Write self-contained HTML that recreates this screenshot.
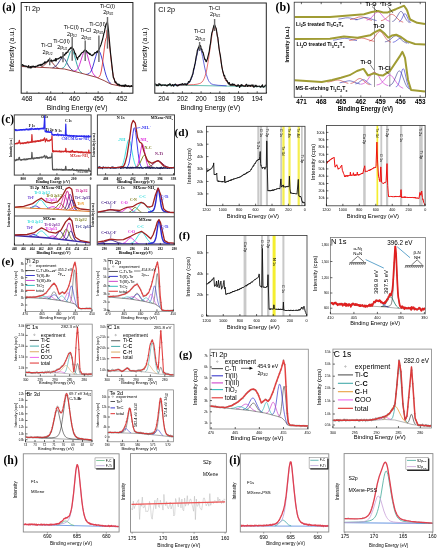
<!DOCTYPE html>
<html><head><meta charset="utf-8"><title>XPS figure</title>
<style>html,body{margin:0;padding:0;background:#fff;} svg{display:block;filter:blur(0.4px);}</style></head>
<body><svg width="438" height="550" viewBox="0 0 438 550">
<rect width="438" height="550" fill="#fff"/>
<text x="2.2" y="10.98" font-size="11.5" font-family="'Liberation Serif', 'Times New Roman', serif" text-anchor="start" fill="#000" font-weight="bold">(a)</text>
<polyline points="40.8,67.1 42.2,66.6 43.3,66 44.7,64.9 47.8,61.6 48.9,60.9 49.7,60.8 50.6,61.1 51.7,61.9 54.4,65.2 55.8,66.7 57.2,67.6 58.6,68.2" fill="none" stroke="#8a3030" stroke-width="0.9" stroke-linejoin="round" />
<polyline points="52.5,67.7 54.2,67.2 55.8,66.1 57.5,64.2 60,60.4 61.1,58.9 62.2,58 63,57.9 63.6,58 64.1,58.4 65,59.4 68.6,65.9 70.3,68.3 71.9,69.9 73.6,70.9" fill="none" stroke="#303080" stroke-width="0.9" stroke-linejoin="round" />
<polyline points="61.7,68.4 62.8,68 63.6,67.5 64.4,66.6 65.3,65.5 66.1,63.8 66.9,61.7 70,52.6 70.5,51.4 71.1,50.7 71.6,50.3 71.9,50.4 72.2,50.5 72.7,51.1 73.6,52.9 74.4,55.4 76.9,64.3 77.7,66.8 78.6,68.8 79.4,70.4 80.2,71.6 81.1,72.4 82.2,73.1" fill="none" stroke="#1f9f9f" stroke-width="0.9" stroke-linejoin="round" />
<polyline points="73.9,71 75,70.9 76.1,70.4 77.2,69.4 78,68.2 78.9,66.5 79.7,64.3 82.5,55.6 83.3,53.4 83.8,52.3 84.4,51.6 85,51.3 85.2,51.3 85.5,51.4 86.1,52.1 87.2,54.6 90.8,67.5 92.4,72.2 93.3,73.8 94.1,75 95.2,76.1 96.6,77.1" fill="none" stroke="#d020d0" stroke-width="0.9" stroke-linejoin="round" />
<polyline points="86.3,74.3 87.7,74.2 89.1,73.5 90.2,72.4 91.1,71.1 91.9,69.3 93,66.1 95.8,56.3 96.6,53.8 97.7,51.5 98.3,50.9 98.8,50.9 99.4,51.3 99.9,52.2 101,55.2 102.2,59.4 104.9,71.2 106,75.1 106.9,77.5 107.7,79.4 108.8,81.4 110.2,83 111.3,83.9" fill="none" stroke="#2a2ad0" stroke-width="0.9" stroke-linejoin="round" />
<polyline points="97.4,77.5 98.6,77.3 99.1,76.9 99.7,76.2 100.5,74.3 101.3,71 102.4,64.2 104.4,47.9 105.2,41.9 106,38.4 106.3,37.9 106.6,37.9 106.9,30.3 107.2,30.4 107.7,31.7 108.5,36.4 111.6,64.7 112.4,70.9 113.3,75.8 114.1,79.3 115.2,82.4 116.3,84.1 116.9,84.6 117.7,85.2" fill="none" stroke="#e03a3a" stroke-width="0.9" stroke-linejoin="round" />
<polyline points="21.7,66.5 49.7,67.8 64.4,69 79.4,72.7 96.1,77.2 104.1,80.6 111,84.2 119.9,86 132.4,86.3" fill="none" stroke="#8b2f2f" stroke-width="0.9" stroke-linejoin="round" />
<polyline points="21.7,64.7 22,65.1 22.3,65.2 22.5,64.6 22.8,64.9 23.1,65.7 23.4,65.3 23.6,65.4 23.9,65.9 24.5,65.9 24.8,66.1 25.3,65.8 26.1,66.6 26.7,66.1 27,66.2 27.2,66.6 27.5,66.7 28.1,67.8 28.6,65.5 28.9,66.5 29.2,67 29.7,67.3 30,67.9 30.6,66.5 30.9,67.6 31.1,68 31.7,67 32,66.2 32.2,66.4 32.5,67 33.1,66.2 33.4,66.6 33.9,66.4 34.2,66.8 34.5,66.8 34.7,66.5 35,66.7 35.3,67.1 35.6,66.9 35.8,66.2 36.7,66.3 37,66 37.2,65.9 37.5,66.2 37.8,65.4 38.1,65.2 38.3,65.6 38.6,65.7 39.2,64.7 39.7,65.2 40,65.1 40.3,65.4 40.6,64.7 40.8,64.4 41.1,65.4 41.4,65.1 41.7,64.3 42.2,64.9 42.5,64.8 42.8,64.4 43.1,63.3 43.3,63.2 44.2,63.6 44.7,61.9 45.3,63 45.8,61.9 46.1,62.1 46.7,62.1 47.5,61.1 47.8,61.3 48.3,59.9 48.6,60.6 48.9,60 49.2,59.9 49.7,60.1 50,60.4 50.3,60.4 50.6,61 50.8,61.1 51.4,59.9 51.9,61.5 52.2,60.7 53.3,60.9 53.9,60.2 54.2,60.3 54.4,60.1 54.7,60.1 55,60.9 55.5,58.6 55.8,59.3 56.1,60.9 56.4,60.2 56.7,58.7 56.9,59.2 57.2,59.2 57.5,58.7 57.8,58.7 58,59 58.6,58.6 58.9,58.6 59.2,58.1 60.3,57.4 60.5,56.9 60.8,57.7 61.1,57.9 61.4,57.2 61.7,57.3 62.2,56.6 62.8,56.8 63,56.1 63.6,55.9 63.9,55 64.1,54.6 64.4,54.6 64.7,55.2 65.5,53.3 65.8,52.9 66.1,53.7 66.4,53.3 66.6,52.4 66.9,52.2 67.2,52.3 67.5,52.1 67.8,52.2 68,51.7 68.3,50.4 68.6,50 69.7,49.2 70,48.4 70.5,48.5 70.8,47.6 71.1,47.8 71.4,48.4 71.6,48.1 72.2,46.7 72.7,49.5 73,48.7 73.3,48.7 73.6,49.8 74.1,50.7 75,54 75.2,53.3 75.5,53.7 76.4,57.2 76.9,57.9 77.5,59.6 78,57.4 78.3,57.2 78.9,56.3 79.1,56.6 79.4,56.4 79.7,55.4 80,55.6 80.5,54.5 81.1,53.9 81.6,52.9 81.9,52.9 82.7,52.2 83,52.2 83.3,52 84.4,50.4 84.7,50.5 85,50.4 85.2,49.8 85.8,51.2 86.1,51.2 86.3,50.6 86.6,51.2 86.9,52.2 87.2,51.8 87.7,52.8 88,52.4 88.6,53.3 88.8,53.5 89.1,53.2 89.7,54.5 90,53.5 90.5,54.7 91.3,55 91.6,55.4 91.9,55.3 92.2,55.7 92.4,55.6 92.7,54.8 93,54.8 93.3,55 93.6,54.7 93.8,54 94.1,54.1 94.7,52.7 94.9,53.1 95.5,52.5 96.1,52.9 96.6,51.7 96.9,52 97.2,51.1 97.7,52.4 98,50.8 98.3,51.1 98.6,50.7 98.8,49.1 99.1,48.7 99.4,48.9 99.9,46.9 100.2,46.5 100.8,45 101,44.7 102.2,40.5 102.7,39 103.8,33.8 104.1,32.7 104.4,32.5 104.9,29.1 105.8,25.5 106,24.7 106.9,23.3 107.2,22.2 107.4,21.8 108.5,30.3 110.5,52.7 113.3,77.4 114.1,78.7 115.2,82.5 115.5,81.9 115.8,81.8 116.3,83 116.6,83.3 116.9,83.3 117.4,84.6 117.7,84.6 118,84.2 118.3,84.1 118.5,84.8 118.8,85.1 119.1,84.3 119.4,84.7 119.6,85.5 119.9,85.6 120.2,85.4 120.5,85.5 121,85.3 121.6,85.6 121.9,86.1 122.4,85.3 123.2,86.2 123.5,85.4 123.8,85.3 124.4,86.6 124.9,84.9 125.2,85.9 125.5,85.7 125.7,84.8 126.3,86.2 126.6,85.8 126.9,85.7 127.4,86.4 127.7,86.4 128,86.2 128.5,85.6 129.3,86.7 129.6,86 129.9,86.1 130.2,86.7 130.7,86.1 131,86.1 131.3,85.6 131.6,85.8 131.8,86.5 132.1,86.2 132.4,86.4" fill="none" stroke="#111" stroke-width="1.15" stroke-linejoin="round" />
<line x1="49.7" y1="57.8" x2="49.7" y2="65.3" stroke="#6a6a6a" stroke-width="1.4" />
<line x1="63" y1="51.9" x2="63" y2="62.3" stroke="#6a6a6a" stroke-width="1.4" />
<line x1="72.2" y1="37" x2="72.2" y2="60.8" stroke="#6a6a6a" stroke-width="1.4" />
<line x1="85.2" y1="40.5" x2="85.2" y2="61" stroke="#6a6a6a" stroke-width="1.4" />
<line x1="98.9" y1="35.5" x2="98.9" y2="62" stroke="#6a6a6a" stroke-width="1.4" />
<line x1="107.5" y1="17" x2="107.5" y2="48.6" stroke="#6a6a6a" stroke-width="1.4" />
<rect x="21.2" y="2.5" width="111.7" height="90.7" stroke="#222" stroke-width="1.0" fill="none"/>
<text x="24.3" y="11.19" font-size="7.2" font-family="'Liberation Sans', Arial, sans-serif" text-anchor="start" fill="#000">Ti 2p</text>
<text x="46.7" y="47.37" font-size="5.4" font-family="'Liberation Sans', Arial, sans-serif" text-anchor="middle" fill="#000">Ti-Cl</text>
<text x="45.4" y="54.17" font-size="5.4" font-family="'Liberation Sans', Arial, sans-serif" text-anchor="middle" fill="#000">2p</text>
<text x="48.1" y="54.91" font-size="3.2" font-family="'Liberation Sans', Arial, sans-serif" text-anchor="start" fill="#000">1/2</text>
<text x="61.5" y="42.67" font-size="5.4" font-family="'Liberation Sans', Arial, sans-serif" text-anchor="middle" fill="#000">Ti-C(II)</text>
<text x="60.2" y="49.47" font-size="5.4" font-family="'Liberation Sans', Arial, sans-serif" text-anchor="middle" fill="#000">2p</text>
<text x="62.9" y="50.21" font-size="3.2" font-family="'Liberation Sans', Arial, sans-serif" text-anchor="start" fill="#000">1/2</text>
<text x="71.2" y="28.97" font-size="5.4" font-family="'Liberation Sans', Arial, sans-serif" text-anchor="middle" fill="#000">Ti-C(I)</text>
<text x="69.9" y="35.77" font-size="5.4" font-family="'Liberation Sans', Arial, sans-serif" text-anchor="middle" fill="#000">2p</text>
<text x="72.6" y="36.51" font-size="3.2" font-family="'Liberation Sans', Arial, sans-serif" text-anchor="start" fill="#000">1/2</text>
<text x="85.5" y="32.07" font-size="5.4" font-family="'Liberation Sans', Arial, sans-serif" text-anchor="middle" fill="#000">Ti-Cl</text>
<text x="84.2" y="38.87" font-size="5.4" font-family="'Liberation Sans', Arial, sans-serif" text-anchor="middle" fill="#000">2p</text>
<text x="86.9" y="39.61" font-size="3.2" font-family="'Liberation Sans', Arial, sans-serif" text-anchor="start" fill="#000">3/2</text>
<text x="97.5" y="26.07" font-size="5.4" font-family="'Liberation Sans', Arial, sans-serif" text-anchor="middle" fill="#000">Ti-C(II)</text>
<text x="96.2" y="32.87" font-size="5.4" font-family="'Liberation Sans', Arial, sans-serif" text-anchor="middle" fill="#000">2p</text>
<text x="98.9" y="33.61" font-size="3.2" font-family="'Liberation Sans', Arial, sans-serif" text-anchor="start" fill="#000">3/2</text>
<text x="107.5" y="7.67" font-size="5.4" font-family="'Liberation Sans', Arial, sans-serif" text-anchor="middle" fill="#000">Ti-C(I)</text>
<text x="106.2" y="14.47" font-size="5.4" font-family="'Liberation Sans', Arial, sans-serif" text-anchor="middle" fill="#000">2p</text>
<text x="108.9" y="15.21" font-size="3.2" font-family="'Liberation Sans', Arial, sans-serif" text-anchor="start" fill="#000">3/2</text>
<line x1="27" y1="93.2" x2="27" y2="91.2" stroke="#000" stroke-width="0.6" />
<text x="27" y="100.59" font-size="6.6" font-family="'Liberation Sans', Arial, sans-serif" text-anchor="middle" fill="#000">468</text>
<line x1="50.72" y1="93.2" x2="50.72" y2="91.2" stroke="#000" stroke-width="0.6" />
<text x="50.72" y="100.59" font-size="6.6" font-family="'Liberation Sans', Arial, sans-serif" text-anchor="middle" fill="#000">464</text>
<line x1="74.44" y1="93.2" x2="74.44" y2="91.2" stroke="#000" stroke-width="0.6" />
<text x="74.44" y="100.59" font-size="6.6" font-family="'Liberation Sans', Arial, sans-serif" text-anchor="middle" fill="#000">460</text>
<line x1="98.16" y1="93.2" x2="98.16" y2="91.2" stroke="#000" stroke-width="0.6" />
<text x="98.16" y="100.59" font-size="6.6" font-family="'Liberation Sans', Arial, sans-serif" text-anchor="middle" fill="#000">456</text>
<line x1="121.88" y1="93.2" x2="121.88" y2="91.2" stroke="#000" stroke-width="0.6" />
<text x="121.88" y="100.59" font-size="6.6" font-family="'Liberation Sans', Arial, sans-serif" text-anchor="middle" fill="#000">452</text>
<line x1="38.86" y1="93.2" x2="38.86" y2="92" stroke="#000" stroke-width="0.5" />
<line x1="62.58" y1="93.2" x2="62.58" y2="92" stroke="#000" stroke-width="0.5" />
<line x1="86.3" y1="93.2" x2="86.3" y2="92" stroke="#000" stroke-width="0.5" />
<line x1="110.02" y1="93.2" x2="110.02" y2="92" stroke="#000" stroke-width="0.5" />
<text x="77.2" y="110.33" font-size="7" font-family="'Liberation Sans', Arial, sans-serif" text-anchor="middle" fill="#000" textLength="60.7" lengthAdjust="spacingAndGlyphs">Binding Energy (eV)</text>
<text x="11.4" y="52.19" font-size="7.2" font-family="'Liberation Sans', Arial, sans-serif" text-anchor="middle" fill="#000" transform="rotate(-90 11.4 49.7)" textLength="44" lengthAdjust="spacingAndGlyphs">Intensity (a.u.)</text>
<polyline points="155.3,85.2 200,85.6 265.8,86.8" fill="none" stroke="#3fb0a0" stroke-width="0.8" stroke-linejoin="round" />
<polyline points="172.3,85.1 180.8,84.8 185.2,84.4 186.7,84 187.8,83.5 188.9,82.7 189.7,81.9 190.4,80.8 191.1,79.3 192.6,75.2 194.1,69.2 196.7,56.1 197.8,51.2 198.5,48.9 198.9,48.2 199.3,47.7 199.6,47.6 200,47.8 200.4,48.3 200.8,49.2 201.5,51.6 202.6,56.6 204.8,68 206.3,74.4 207.8,78.9 208.5,80.5 209.3,81.8 210,82.7 211.1,83.7 212.2,84.2 213.7,84.7 218.1,85.3 226.6,85.8" fill="none" stroke="#2a2acc" stroke-width="0.7" stroke-linejoin="round" />
<polyline points="176,85.1 189.3,84.8 193.7,84.6 197.1,84.2 199.3,83.6 200.8,83 201.9,82.1 203,80.8 204.1,78.7 204.8,76.9 205.9,73.2 206.7,70 208.5,59.5 212.2,33.6 213.3,28.2 214.1,26.3 214.4,25.9 214.8,25.9 215.2,26.4 215.5,27.2 216.6,31.8 217.8,38.7 220.7,59.9 222.6,70.4 223.3,73.6 224.4,77.3 225.1,79.2 226.3,81.2 227.4,82.6 228.5,83.5 230,84.2 232.2,84.8 235.5,85.3 239.9,85.6 253.2,86.3" fill="none" stroke="#dd3333" stroke-width="0.7" stroke-linejoin="round" />
<polyline points="155.3,84.3 155.7,84.1 156,84.5 156.4,85.6 157.1,84.5 157.5,85.6 157.9,85.5 158.3,85.7 158.6,85 159,83.5 159.7,84.8 160.1,84.3 160.5,84.3 161.2,85.8 161.6,85 162,85 162.3,85.4 162.7,84.9 163.4,84.9 164.2,85.3 164.5,84.9 164.9,85.2 165.3,85.1 165.6,84.8 166.4,85.8 166.8,85.3 167.1,85.4 167.5,85.8 167.9,84.9 168.2,84.5 169,85.2 169.7,83.8 170.5,84.3 171.2,85.9 171.6,85.8 172.3,84.8 172.7,84.6 173.4,86.1 173.8,86.1 174.1,85 174.5,84.6 174.9,84.5 175.3,84.1 175.6,84.3 176,84.7 176.4,85.6 177.1,85.3 177.5,86 177.8,85.4 178.2,85.3 178.6,85.6 179,84.7 179.3,84.5 179.7,84.6 180.4,84.3 181.2,84.7 181.5,84.2 182.3,83.6 182.6,83.7 183,84.6 183.8,84.3 184.1,84.5 184.9,83.5 185.6,84.5 186,84.3 186.3,84.9 186.7,84.5 187.1,83.7 187.5,84.1 188.6,81.5 188.9,81.6 189.3,82.2 189.7,81.8 190.4,79.9 190.8,79.4 191.5,76.8 191.9,76.8 192.3,74.9 192.6,74.6 193,73.3 193.4,70.3 193.7,68.8 194.1,68.1 194.8,64.4 195.2,63.2 196.3,55.8 196.7,55.2 197.4,50.2 198.9,46.8 199.3,45.6 199.6,45.5 200,46.2 200.4,45.4 200.8,46.5 201.1,49.1 201.5,49.1 201.9,49.3 202.2,51.6 202.6,52.2 203,52.1 204.8,59.6 205.2,59.4 205.6,59.9 205.9,61.5 206.3,61.7 206.7,60.9 207.4,58.9 209.3,51.1 210,45.6 210.4,44.2 211.1,38 211.8,33.1 212.2,31.8 212.6,31.1 213.7,26 214.4,24.7 214.8,25.1 215.2,26.3 215.5,27.2 215.9,27.8 216.3,29 216.6,31 217.4,36.4 217.8,37.3 218.9,47.3 219.6,52 220.3,55.2 221.8,66.6 222.9,72 223.3,72.8 223.7,74.7 224,75.8 224.4,75.3 224.8,76.3 225.1,78.4 225.5,78.3 225.9,78.8 226.3,80.6 227,80.6 228.5,83.9 228.8,82.9 229.2,82.5 230,85.1 230.3,85.1 230.7,84.5 231.1,85.3 231.4,85.2 232.2,83.8 232.5,83.8 232.9,85.5 233.3,85.1 233.6,84.2 234,84.3 234.4,84.4 234.8,85.4 235.5,85.3 235.9,85.8 236.2,85.7 236.6,86.2 237,86.4 237.7,84.9 238.1,84.7 238.5,85.2 238.8,85.5 239.6,87.5 240.3,85.3 240.7,86.2 241.4,84.6 241.8,85.9 242.1,85.7 242.5,85.1 243.6,86.1 244,86 244.4,86.2 244.7,86.1 245.1,86.3 245.5,86 245.8,84.9 246.2,84.4 246.6,84.4 247,84.9 247.3,86.2 247.7,86.5 248.4,85.2 248.8,85.3 249.2,85.6 249.5,85.6 249.9,85.2 250.3,85.2 250.6,86.3 251.4,85 252.1,85.3 252.5,85.9 252.9,84.9 253.2,85.3 253.6,87.1 254,87.1 254.3,86.8 254.7,86.7 255.1,85.2 255.5,85.5 255.8,86.3 256.2,85.4 256.9,86.8 257.3,86.2 257.7,86.5 258.4,86.3 259.5,86.1 260.3,87.2 260.6,87.2 261,86.7 261.4,85.9 261.7,86.6 262.5,84.8 262.8,86.5 263.2,87.2 263.6,87.2 264,86.8 264.7,86.5 265.1,85.6 265.4,85.2 265.8,85.6" fill="none" stroke="#111" stroke-width="1.15" stroke-linejoin="round" />
<line x1="199.6" y1="42" x2="199.6" y2="51" stroke="#6a6a6a" stroke-width="1.4" />
<line x1="214.6" y1="19" x2="214.6" y2="31" stroke="#6a6a6a" stroke-width="1.4" />
<rect x="154.8" y="3" width="111.5" height="90.2" stroke="#222" stroke-width="1.0" fill="none"/>
<text x="158.3" y="11.59" font-size="7.2" font-family="'Liberation Sans', Arial, sans-serif" text-anchor="start" fill="#000">Cl 2p</text>
<text x="199.5" y="33.07" font-size="5.4" font-family="'Liberation Sans', Arial, sans-serif" text-anchor="middle" fill="#000">Ti-Cl</text>
<text x="198.2" y="39.87" font-size="5.4" font-family="'Liberation Sans', Arial, sans-serif" text-anchor="middle" fill="#000">2p</text>
<text x="200.9" y="40.61" font-size="3.2" font-family="'Liberation Sans', Arial, sans-serif" text-anchor="start" fill="#000">1/2</text>
<text x="214.4" y="9.67" font-size="5.4" font-family="'Liberation Sans', Arial, sans-serif" text-anchor="middle" fill="#000">Ti-Cl</text>
<text x="213.1" y="16.47" font-size="5.4" font-family="'Liberation Sans', Arial, sans-serif" text-anchor="middle" fill="#000">2p</text>
<text x="215.8" y="17.21" font-size="3.2" font-family="'Liberation Sans', Arial, sans-serif" text-anchor="start" fill="#000">3/2</text>
<line x1="163.7" y1="93.2" x2="163.7" y2="91.2" stroke="#000" stroke-width="0.6" />
<text x="163.7" y="100.59" font-size="6.6" font-family="'Liberation Sans', Arial, sans-serif" text-anchor="middle" fill="#000">204</text>
<line x1="182.4" y1="93.2" x2="182.4" y2="91.2" stroke="#000" stroke-width="0.6" />
<text x="182.4" y="100.59" font-size="6.6" font-family="'Liberation Sans', Arial, sans-serif" text-anchor="middle" fill="#000">202</text>
<line x1="201.1" y1="93.2" x2="201.1" y2="91.2" stroke="#000" stroke-width="0.6" />
<text x="201.1" y="100.59" font-size="6.6" font-family="'Liberation Sans', Arial, sans-serif" text-anchor="middle" fill="#000">200</text>
<line x1="219.8" y1="93.2" x2="219.8" y2="91.2" stroke="#000" stroke-width="0.6" />
<text x="219.8" y="100.59" font-size="6.6" font-family="'Liberation Sans', Arial, sans-serif" text-anchor="middle" fill="#000">198</text>
<line x1="238.5" y1="93.2" x2="238.5" y2="91.2" stroke="#000" stroke-width="0.6" />
<text x="238.5" y="100.59" font-size="6.6" font-family="'Liberation Sans', Arial, sans-serif" text-anchor="middle" fill="#000">196</text>
<line x1="257.2" y1="93.2" x2="257.2" y2="91.2" stroke="#000" stroke-width="0.6" />
<text x="257.2" y="100.59" font-size="6.6" font-family="'Liberation Sans', Arial, sans-serif" text-anchor="middle" fill="#000">194</text>
<line x1="173.05" y1="93.2" x2="173.05" y2="92" stroke="#000" stroke-width="0.5" />
<line x1="191.75" y1="93.2" x2="191.75" y2="92" stroke="#000" stroke-width="0.5" />
<line x1="210.45" y1="93.2" x2="210.45" y2="92" stroke="#000" stroke-width="0.5" />
<line x1="229.15" y1="93.2" x2="229.15" y2="92" stroke="#000" stroke-width="0.5" />
<line x1="247.85" y1="93.2" x2="247.85" y2="92" stroke="#000" stroke-width="0.5" />
<line x1="266.55" y1="93.2" x2="266.55" y2="92" stroke="#000" stroke-width="0.5" />
<text x="210.4" y="110.33" font-size="7" font-family="'Liberation Sans', Arial, sans-serif" text-anchor="middle" fill="#000" textLength="59.7" lengthAdjust="spacingAndGlyphs">Binding Energy (eV)</text>
<text x="145" y="52.19" font-size="7.2" font-family="'Liberation Sans', Arial, sans-serif" text-anchor="middle" fill="#000" transform="rotate(-90 145 49.7)" textLength="44" lengthAdjust="spacingAndGlyphs">Intensity (a.u.)</text>
<text x="275.6" y="10.76" font-size="12" font-family="'Liberation Serif', 'Times New Roman', serif" text-anchor="start" fill="#000" font-weight="bold">(b)</text>
<line x1="374.5" y1="4" x2="374.5" y2="87" stroke="#555" stroke-width="0.6" />
<line x1="389.8" y1="8" x2="389.8" y2="87" stroke="#555" stroke-width="0.6" />
<polyline points="338.3,19.1 340.9,18.8 345.7,17.9 347.9,17.8 350.5,18.1 355.3,19.4 357.5,19.8" fill="none" stroke="#3333aa" stroke-width="0.6" stroke-linejoin="round" />
<polyline points="350,19.6 353.1,19 358.8,17 360.9,16.8 363.1,17.2 368.8,19.5 371.8,20.4" fill="none" stroke="#cc3333" stroke-width="0.6" stroke-linejoin="round" />
<polyline points="355.3,19.8 358.3,19.3 363.6,17.7 364.9,17.5 366.2,17.5 368.3,17.9 373.6,19.8 376.6,20.6" fill="none" stroke="#3333aa" stroke-width="0.6" stroke-linejoin="round" />
<polyline points="366.6,20.1 368.3,19.7 370.1,18.7 371.8,17.2 374.4,14.2 375.8,12.9 377.1,12.1 377.9,11.9 378.8,12.1 380.1,12.9 381.4,14.4 384,17.6 385.8,19.4 387.5,20.5 389.7,21.3" fill="none" stroke="#cc22cc" stroke-width="0.6" stroke-linejoin="round" />
<polyline points="381,20.7 382.7,20.3 384.5,19.4 385.8,18.5 389.7,15.1 391,14.4 391.9,14.3 392.8,14.5 394.1,15.2 395.4,16.4 398,19.1 399.7,20.6 401.5,21.6 403.2,22.2" fill="none" stroke="#cc3333" stroke-width="0.6" stroke-linejoin="round" />
<polyline points="392.3,21.5 393.6,21 394.9,20 396.2,18.2 399.3,12.7 400.2,11.7 400.6,11.5 401,11.4 401.5,11.5 401.9,11.9 402.8,13 405.4,18.2 406.7,20.3 408,21.7 408.9,22.3 409.7,22.7" fill="none" stroke="#333388" stroke-width="0.6" stroke-linejoin="round" />
<polyline points="398.9,21.9 399.7,21.5 400.6,20.7 401.5,19.4 403.6,14.9 404.5,13.8 405,13.7 405.4,13.8 406.3,14.9 408.4,19.7 409.3,21.2 410.2,22.1 411.1,22.7" fill="none" stroke="#2a2acc" stroke-width="0.6" stroke-linejoin="round" />
<polyline points="294.7,17 330,17.1 364,14.2 371.8,12 377.9,11 383.2,12.5 387.1,12.6 395.8,9.2 403.6,5.9 404.1,5.8 406.7,9.6 407.1,10.4 409.7,18.6 410.2,19.5 417.2,22.8 425,24" fill="none" stroke="#a09c34" stroke-width="2.0" stroke-linejoin="round" />
<polyline points="333,40.2 336.1,39.8 342.2,38.5 344.8,38.3 347.9,38.6 354,40.1 357,40.6" fill="none" stroke="#3333aa" stroke-width="0.6" stroke-linejoin="round" />
<polyline points="349.2,40.5 352.7,40 359.2,38.3 361.8,38.1 363.1,38.2 364.9,38.6 371,40.6 374.4,41.4" fill="none" stroke="#cc3333" stroke-width="0.6" stroke-linejoin="round" />
<polyline points="369.2,41.1 371,40.5 372.7,39.3 374,37.9 377.1,33.6 377.9,32.6 379.2,31.6 380.1,31.5 381,31.8 382.3,33.1 385.8,38.2 387.5,40.3 389.3,41.5 391,42.2" fill="none" stroke="#cc3333" stroke-width="0.6" stroke-linejoin="round" />
<polyline points="384.9,41.9 386.7,41.5 388,41 389.7,39.9 393.6,36.6 394.9,35.9 396.2,35.8 397.1,36.1 398.4,36.9 402.3,40.6 403.6,41.6 405.4,42.6 407.1,43.2" fill="none" stroke="#333388" stroke-width="0.6" stroke-linejoin="round" />
<polyline points="392.8,42.3 394.1,42 395.4,41.4 399.3,38.5 400.2,38.2 401,38.1 401.9,38.3 402.8,38.8 406.7,42.2 407.6,42.7 408.9,43.3" fill="none" stroke="#2a2acc" stroke-width="0.6" stroke-linejoin="round" />
<polyline points="294.7,39 330,38.8 343.9,36.5 357.5,37.7 370.1,35.3 374.9,32.1 379.7,29.8 380.1,29.9 384,33 388,37.4 388.4,37.6 391.9,35.6 396.2,34.7 401,37 406.7,41.1 415,44 425,44.5" fill="none" stroke="#a09c34" stroke-width="2.0" stroke-linejoin="round" />
<polyline points="327.4,82.1 330.4,81.6 335.7,80.2 337.8,80 339.2,80.2 340.5,80.5 345.7,82.6 348.3,83.4" fill="none" stroke="#cc3333" stroke-width="0.6" stroke-linejoin="round" />
<polyline points="339.6,82.8 342.6,82.3 347.4,81 348.7,80.8 350,80.8 352.2,81.3 357.5,83.3 360.5,84.2" fill="none" stroke="#3333aa" stroke-width="0.6" stroke-linejoin="round" />
<polyline points="350.5,83.5 351.8,83.2 353.1,82.7 354.4,81.9 357.9,79.1 359.2,78.6 360.1,78.5 360.9,78.7 362.2,79.5 365.3,82.3 367,83.6 368.3,84.2 369.7,84.7" fill="none" stroke="#cc3333" stroke-width="0.6" stroke-linejoin="round" />
<polyline points="355.3,83.9 356.6,83.6 357.5,83.2 358.8,82.4 361.8,80.1 362.7,79.8 363.6,79.7 364.4,79.9 365.3,80.4 368.8,83.3 370.1,84.2 371.4,84.7" fill="none" stroke="#3333aa" stroke-width="0.6" stroke-linejoin="round" />
<polyline points="360.9,84.2 362.2,84 363.6,83.5 364.9,82.7 365.7,82 367.5,80 371.8,73.8 373.1,72.6 374,72.3 374.4,72.2 374.9,72.3 375.8,72.7 377.1,74 378.4,75.8 381.4,80.6 382.7,82.3 383.6,83.2 384.5,83.9 385.8,84.8 388,85.6" fill="none" stroke="#cc22cc" stroke-width="0.6" stroke-linejoin="round" />
<polyline points="376.6,85 378.8,84.5 380.1,83.9 381,83.4 383.2,81.3 386.2,77.6 387.5,76.1 388.8,75.2 389.7,75 390.1,75 391.4,75.7 392.8,77.1 396.7,82.8 398.9,85.5 401,87.2 403.2,88.3" fill="none" stroke="#cc22cc" stroke-width="0.6" stroke-linejoin="round" />
<polyline points="388.8,85.6 389.7,85.4 391,84.8 391.9,84.1 392.8,83 394.1,80.7 397.5,72.6 398.4,71.4 398.9,71 399.3,70.9 399.7,71 400.2,71.3 400.6,71.8 401.5,73.4 405,82.9 406.3,85.6 407.1,87 408,87.9 408.9,88.6 410.2,89.2" fill="none" stroke="#333388" stroke-width="0.6" stroke-linejoin="round" />
<polyline points="395.8,86.8 396.7,86.6 397.1,86.2 398,85.1 398.4,84.3 399.7,80.2 401.9,71.1 402.3,69.8 402.8,69 403.2,68.7 403.6,68.9 404.1,69.7 404.5,71 407.1,82.5 408,85.4 408.4,86.5 409.3,88.1 409.7,88.6 410.6,89.2" fill="none" stroke="#2a2acc" stroke-width="0.6" stroke-linejoin="round" />
<polyline points="294.7,80.2 321.7,82 332.2,80 340.9,77.7 349.6,75.1 350,75 357,71 363.1,68.9 363.6,68.9 367.9,75.4 368.3,75.4 374,73.2 378.8,74.9 382.7,75.5 383.2,75.4 389.7,71.2 390.1,70.8 399.7,56.4 402.3,51.9 402.8,52.7 405,57.9 408,80 411.1,90 425,91.5" fill="none" stroke="#a09c34" stroke-width="2.0" stroke-linejoin="round" />
<rect x="294.2" y="2.2" width="131.3" height="95.1" stroke="#333" stroke-width="0.8" fill="none"/>
<text x="296" y="25.7" font-size="5.2" font-family="'Liberation Sans', Arial, sans-serif" text-anchor="start" fill="#000" font-weight="bold">Li<tspan font-size="3.5" dy="1.5">2</tspan><tspan dy="-1.5">S treated Ti</tspan><tspan font-size="3.5" dy="1.5">3</tspan><tspan dy="-1.5">C</tspan><tspan font-size="3.5" dy="1.5">2</tspan><tspan dy="-1.5">T</tspan><tspan font-size="3.5" dy="1.5">x</tspan></text>
<text x="296.5" y="46.3" font-size="5.2" font-family="'Liberation Sans', Arial, sans-serif" text-anchor="start" fill="#000" font-weight="bold">Li<tspan font-size="3.5" dy="1.5">2</tspan><tspan dy="-1.5">O treated Ti</tspan><tspan font-size="3.5" dy="1.5">3</tspan><tspan dy="-1.5">C</tspan><tspan font-size="3.5" dy="1.5">2</tspan><tspan dy="-1.5">T</tspan><tspan font-size="3.5" dy="1.5">x</tspan></text>
<text x="295.5" y="90.3" font-size="5.2" font-family="'Liberation Sans', Arial, sans-serif" text-anchor="start" fill="#000" font-weight="bold">MS-E-etching Ti<tspan font-size="3.5" dy="1.5">3</tspan><tspan dy="-1.5">C</tspan><tspan font-size="3.5" dy="1.5">2</tspan><tspan dy="-1.5">T</tspan><tspan font-size="3.5" dy="1.5">x</tspan></text>
<text x="371" y="6.21" font-size="5.5" font-family="'Liberation Sans', Arial, sans-serif" text-anchor="middle" fill="#000" font-weight="bold">Ti-O</text>
<text x="386.5" y="6.21" font-size="5.5" font-family="'Liberation Sans', Arial, sans-serif" text-anchor="middle" fill="#000" font-weight="bold">Ti-S</text>
<line x1="372" y1="6.5" x2="377" y2="11" stroke="#000" stroke-width="0.5" />
<line x1="388" y1="6.5" x2="393" y2="13" stroke="#000" stroke-width="0.5" />
<text x="379" y="28.21" font-size="5.5" font-family="'Liberation Sans', Arial, sans-serif" text-anchor="middle" fill="#000" font-weight="bold">Ti-O</text>
<text x="366" y="64.41" font-size="5.5" font-family="'Liberation Sans', Arial, sans-serif" text-anchor="middle" fill="#000" font-weight="bold">Ti-O</text>
<text x="384.5" y="69.91" font-size="5.5" font-family="'Liberation Sans', Arial, sans-serif" text-anchor="middle" fill="#000" font-weight="bold">Ti-Cl</text>
<line x1="370" y1="64.5" x2="374" y2="70" stroke="#000" stroke-width="0.5" />
<line x1="385" y1="70.5" x2="389" y2="74" stroke="#000" stroke-width="0.5" />
<line x1="301.4" y1="97.3" x2="301.4" y2="95.3" stroke="#000" stroke-width="0.6" />
<line x1="301.4" y1="2.2" x2="301.4" y2="4.2" stroke="#000" stroke-width="0.6" />
<text x="301.4" y="103.78" font-size="6.3" font-family="'Liberation Sans', Arial, sans-serif" text-anchor="middle" fill="#000" font-weight="bold">471</text>
<line x1="321.2" y1="97.3" x2="321.2" y2="95.3" stroke="#000" stroke-width="0.6" />
<line x1="321.2" y1="2.2" x2="321.2" y2="4.2" stroke="#000" stroke-width="0.6" />
<text x="321.2" y="103.78" font-size="6.3" font-family="'Liberation Sans', Arial, sans-serif" text-anchor="middle" fill="#000" font-weight="bold">468</text>
<line x1="341" y1="97.3" x2="341" y2="95.3" stroke="#000" stroke-width="0.6" />
<line x1="341" y1="2.2" x2="341" y2="4.2" stroke="#000" stroke-width="0.6" />
<text x="341" y="103.78" font-size="6.3" font-family="'Liberation Sans', Arial, sans-serif" text-anchor="middle" fill="#000" font-weight="bold">465</text>
<line x1="360.8" y1="97.3" x2="360.8" y2="95.3" stroke="#000" stroke-width="0.6" />
<line x1="360.8" y1="2.2" x2="360.8" y2="4.2" stroke="#000" stroke-width="0.6" />
<text x="360.8" y="103.78" font-size="6.3" font-family="'Liberation Sans', Arial, sans-serif" text-anchor="middle" fill="#000" font-weight="bold">462</text>
<line x1="380.6" y1="97.3" x2="380.6" y2="95.3" stroke="#000" stroke-width="0.6" />
<line x1="380.6" y1="2.2" x2="380.6" y2="4.2" stroke="#000" stroke-width="0.6" />
<text x="380.6" y="103.78" font-size="6.3" font-family="'Liberation Sans', Arial, sans-serif" text-anchor="middle" fill="#000" font-weight="bold">459</text>
<line x1="400.4" y1="97.3" x2="400.4" y2="95.3" stroke="#000" stroke-width="0.6" />
<line x1="400.4" y1="2.2" x2="400.4" y2="4.2" stroke="#000" stroke-width="0.6" />
<text x="400.4" y="103.78" font-size="6.3" font-family="'Liberation Sans', Arial, sans-serif" text-anchor="middle" fill="#000" font-weight="bold">456</text>
<line x1="420.2" y1="97.3" x2="420.2" y2="95.3" stroke="#000" stroke-width="0.6" />
<line x1="420.2" y1="2.2" x2="420.2" y2="4.2" stroke="#000" stroke-width="0.6" />
<text x="420.2" y="103.78" font-size="6.3" font-family="'Liberation Sans', Arial, sans-serif" text-anchor="middle" fill="#000" font-weight="bold">453</text>
<text x="365.3" y="110.96" font-size="6.8" font-family="'Liberation Sans', Arial, sans-serif" text-anchor="middle" fill="#000" font-weight="bold" textLength="55.3" lengthAdjust="spacingAndGlyphs">Binding Energy (eV)</text>
<text x="287" y="46.51" font-size="5.8" font-family="'Liberation Sans', Arial, sans-serif" text-anchor="middle" fill="#000" font-weight="bold" transform="rotate(-90 287 44.5)" textLength="36" lengthAdjust="spacingAndGlyphs">Intensity (a.u.)</text>
<text x="1.3" y="122.58" font-size="11.5" font-family="'Liberation Serif', 'Times New Roman', serif" text-anchor="start" fill="#000" font-weight="bold">(c)</text>
<polyline points="14.6,130.1 14.8,130.1 14.9,129.4 15.4,130.3 15.8,129.6 16,130.7 16.1,129.9 16.3,130.6 16.4,130.6 16.7,130 16.9,130.2 17,129.9 17.2,130.2 17.3,130.1 17.8,130.5 18,130 18.1,130.3 18.3,129.9 18.4,129.8 18.7,129.8 18.9,130.3 19.2,130.3 19.3,130 19.5,130.1 19.8,129.7 19.9,130.1 20.1,130 20.3,129.7 20.4,130.1 20.6,129.5 20.7,129.9 21.2,129.6 21.3,130.1 21.5,130 21.6,130.2 21.9,129.5 22.1,129.8 22.2,129.5 22.5,130.1 22.8,129.7 23.2,129.8 23.3,129.4 23.5,129.8 23.6,129.8 23.8,129.6 24.1,129.8 24.2,129.5 24.4,129.5 24.5,129.9 24.7,129.7 24.8,130.1 25.1,129.2 25.3,129.9 25.4,129.9 25.7,129.3 25.9,129.6 26.1,129.2 26.2,129.5 26.4,129 26.5,129.5 26.7,129 27,129.9 27.1,129.5 27.3,129.7 27.4,129.4 27.7,129.1 27.9,129.8 28,129.5 28.2,129.9 28.3,129.2 29,129.9 29.1,129.3 29.4,129 29.6,129.7 29.9,129.2 30,129.4 30.2,128.7 30.5,129.6 30.8,129.4 30.9,129.1 31.2,129.7 31.4,129 31.6,129.1 31.9,128 32.5,129.2 32.6,129 33.1,129.3 33.2,129 33.4,129 33.5,129.4 33.7,129 33.8,129 34,129.3 34.1,129.1 34.5,129.1 34.6,128.7 34.9,129.3 35.2,128.6 35.4,129 35.5,128.7 35.8,129 36,128.6 36.1,129.3 36.3,128.9 36.7,129.2 36.9,129.2 37,128.5 37.2,128.9 37.4,128.3 37.7,129 38,129.1 38.1,128.7 38.3,128.9 38.4,128.8 38.7,129.1 38.9,128.6 39,129.7 39.2,128.7 39.3,128.6 39.6,128.9 39.9,128.5 40.1,129 40.3,128.7 40.4,129 40.6,129 40.7,128.3 41,128.3 41.2,128.6 41.5,128.6 41.6,128.3 41.9,128.9 42.1,128.2 42.4,128.6 42.7,128.4 42.9,128.9 43.2,128.7 43.3,128.2 43.5,129 43.8,128.3 44.2,123.8 44.7,115.5 45.1,131.2 45.3,131.7 45.4,131.3 45.6,131.8 45.8,131.9 45.9,131.1 46.1,131.6 46.2,131.2 46.5,131.9 46.7,131.4 46.8,132.2 47.1,131.5 47.4,132 47.6,131.5 47.7,131.8 47.9,131.5 48,132.2 48.3,131.8 48.5,132.2 48.7,131.6 49,132.4 49.1,132 49.3,132.4 49.6,131.9 49.9,132.1 50.5,131.8 50.6,132.2 50.9,132.4 51.1,131.8 51.2,132.5 51.6,132.2 52,134.9 52.5,135 52.8,134.3 53.1,134.9 53.2,134.7 53.4,135 53.5,135.1 53.7,134.9 53.8,135.3 54,134.6 54.2,135.1 54.3,134.8 54.5,134.7 54.6,135 54.8,134.7 54.9,135.1 55.1,134.6 55.2,134.9 55.4,134.7 55.5,134.9 55.8,134.7 56,135.1 56.1,134.6 56.3,134.7 56.4,135.2 56.9,135.1 57.1,135.5 57.2,134.7 57.4,134.8 57.7,134.6 57.8,133.9 58.3,134.8 58.6,134.8 58.7,135.6 59.2,134.9 59.6,135 59.8,134.5 60,135.1 60.1,135 60.6,135.3 60.7,135.1 60.9,135.3 61,134.5 61.3,135.6 61.5,134.8 61.8,135.3 61.9,134.9 62.1,135.3 62.2,134.8 62.4,134.7 62.5,134.8 62.7,134.8 62.9,135.2 63,135.1 63.2,135.3 63.3,134.9 63.5,135.9 63.6,135.2 63.9,135.3 64.2,135.1 64.5,135.5 64.8,135.5 65,135.1 65.1,135.1 65.3,135.8 65.8,124.1 66.1,134 66.2,135.6 66.5,135.6 66.7,135.1 66.8,135.7 67,135 67.1,135.8 67.3,135.9 67.4,135.9 67.6,135.4 67.7,136 67.9,135.5 68,135.5 68.4,135.6 68.7,136 68.8,135.3 69.1,136 69.3,135.9 69.4,135.9 69.6,135.4 69.7,136.1 69.9,135.4 70.3,136.3 70.5,136 70.6,136.1 70.8,135.7 70.9,135.7 71.1,136.2 71.6,135.5 71.9,136 72,135.7 72.2,135.8 72.3,136.3 72.8,135.6 73.1,135.9 73.2,136.3 73.4,135.8 73.5,136.4 73.7,135.7 74,136.2 74.3,135.8 74.6,136.1 74.8,135.5 74.9,135.9 75.2,135.9 75.4,136.2 75.5,135.9 76,136.2 76.1,136 76.3,136.4 76.4,135.8 76.6,136.4 76.8,135.8 77.1,136.1 77.2,136.6 77.5,136 77.7,136.4 78,135.9 78.1,136.2 78.3,136.1 78.4,136.3 78.6,136 78.9,136.3 79.3,136 79.5,136.4 79.7,136.2 79.8,136.3 80,136.1 80.1,136.2 80.3,135.9 80.6,136.4 80.7,136.2 80.9,136.4 81,136.3 81.2,136.5 81.5,135.8 81.6,136.3 81.9,136 82.1,136.4 82.4,136.3 82.6,136.1 82.9,136.3 83,136.7 83.2,136.1 83.5,136.3 83.6,135.8 83.8,135.9 83.9,136.8 84.1,135.8 84.2,136.4 84.4,136.1 84.5,136.1 84.7,135.8 85,136.5 85.1,136 85.3,136.5 85.5,136.4 85.6,136.8 85.8,136.2 85.9,136.7 86.1,136.6 86.4,135.9 86.5,136.7 86.7,136 87,136.6 87.1,136.7 87.3,136.2 87.4,136.4 87.6,136.3 87.9,137 88.1,135.9 88.2,136.6 88.4,135.7 88.5,136.4 88.7,136.1 88.8,136.9 89.1,136.3 89.4,136.3 89.6,136.5 89.7,136.4 90,136.9 90.3,136.2 90.5,136.1 90.8,136.8" fill="none" stroke="#2a2aee" stroke-width="1.2" stroke-linejoin="round" />
<polyline points="14.6,143.8 14.8,143.7 14.9,143.9 15.1,143.5 15.2,143.5 15.4,143.9 15.5,143.6 15.7,143.6 15.8,143.7 16.1,143.4 16.3,143.4 16.4,143.6 16.7,143.1 17.2,143.8 17.3,143 17.5,143.3 17.7,143.1 17.8,143.4 18,143.2 18.1,143.5 18.9,141.9 19,141.9 19.3,140.4 19.5,141.4 19.8,142.2 19.9,143.4 20.1,143.6 20.3,143.2 20.4,143.9 20.6,143.2 20.7,143.1 20.9,143.6 21.2,143.3 21.5,143.4 21.8,143.2 21.9,142.8 22.1,142.9 22.2,143.4 22.4,143 22.7,143.5 22.8,143 23.2,143.6 23.3,143.2 23.5,143.5 24.2,142.7 24.4,143.1 24.7,142.8 24.8,143.1 25,142.7 25.1,143.1 25.3,142.8 25.7,142.7 25.9,143.4 26.1,142.3 26.4,143 26.7,142.6 26.8,143 27,142.3 27.1,142.2 27.3,142.7 27.6,141.9 27.7,142.7 28,142.6 28.2,142.3 28.3,142.5 28.5,142.2 28.6,142.8 28.8,142.5 29,142.5 29.1,141.8 29.3,142.5 29.4,142.6 30,142.1 30.2,142.3 30.6,142 30.8,142.5 30.9,141.8 31.1,142 31.2,141.9 31.4,142.3 31.6,141.3 31.9,134.6 32,135.5 32.3,142.1 32.8,141.8 32.9,142 33.1,141.9 33.4,141.2 33.5,141.8 33.7,141.9 34,141.7 34.3,141.9 34.5,141.5 34.6,142 34.8,141.1 35.1,141.3 35.2,140.9 35.5,141.8 35.7,141.7 35.8,141.4 36,141.8 36.3,141.2 36.4,141.3 36.6,141.2 36.7,141.4 36.9,140.8 37,141.4 37.2,141 37.4,141.3 37.5,140.7 38,141.2 38.1,140.7 38.3,141.4 38.6,140.8 38.7,141.2 38.9,140.9 39.2,141.4 39.5,140.6 39.6,140.6 39.8,140.9 40.1,140.4 40.3,140.5 40.6,141.2 40.7,139.9 40.9,140.7 41,140.4 41.2,140.7 41.3,140.7 41.9,139.8 42.1,140.6 42.2,140.2 42.5,140.1 42.7,139.8 43,140.4 43.2,140.4 43.3,139.6 43.5,140.3 43.8,139.1 44.2,138.8 44.5,137.9 44.7,138 44.8,139.3 45,139.5 45.4,141.9 45.6,140.4 45.8,140.8 45.9,139.9 46.2,139.6 46.4,140.1 46.5,138.8 46.7,138.9 46.8,140 47,139.7 47.4,140.9 48,141.1 48.2,140.7 48.5,140.5 48.7,140.9 48.8,140.7 49.1,140.7 49.3,141 49.4,140.6 49.6,140.7 49.7,140.1 50,140.3 50.2,140 50.3,140.5 50.5,139.9 50.6,140.2 50.8,139.6 51.1,140 51.2,140 51.4,139.6 51.6,139.6 52,135.9 52.6,151.7 52.9,150.9 53.2,151.5 53.4,150.6 53.7,151.9 53.8,151.5 54.2,151.4 54.3,151.6 54.5,151.1 54.6,151.1 54.8,151.4 54.9,151.2 55.1,151.4 55.2,150.9 55.4,151.5 55.8,151.4 56,151.8 56.1,151.1 56.4,151.1 56.6,151.3 56.7,151.1 56.9,151.4 57.2,151 57.4,151 57.5,151.7 57.7,151.4 58.1,151.4 58.3,151.6 58.4,151.5 58.6,151.2 59,151.1 59.2,151.8 59.5,150.9 60,151.5 60.1,151.2 60.3,151.6 60.4,151.5 60.9,152.1 61.2,151.1 61.5,151.5 61.6,152 61.8,151.6 61.9,151.7 62.1,151.4 62.4,151.6 62.5,151.3 62.9,151.7 63,151.4 63.3,151.9 63.5,151.5 63.9,151.3 64.1,151.5 64.7,151.1 65,151.6 65.1,151.2 65.5,151.3 65.8,148.3 66.2,152 66.4,151.5 66.7,152 66.8,151.4 67,152 67.1,151.4 67.3,151.7 67.4,151.6 67.7,151.7 68,151.4 68.2,151.9 68.7,152 68.8,151.4 69,152 69.1,152 69.3,151.6 69.6,152.1 69.9,151.4 70.2,152.4 70.5,151.4 70.6,151.7 70.8,151.5 71.1,151.8 71.3,151.1 71.6,152.1 71.7,151.7 71.9,151.7 72,152 72.2,150.9 72.3,150.4 72.5,150.4 72.8,151.8 72.9,151.8 73.2,152 73.5,151.6 73.8,152.2 74,151.6 74.2,151.8 74.5,151.8 74.8,151.6 74.9,152.5 75.2,151.7 75.5,152.1 75.7,151.9 75.8,152.1 76,151.8 76.3,152 76.4,151.9 76.6,151.4 76.8,152 77.1,152.1 77.2,151.8 77.4,152.1 77.5,152.1 77.7,151.6 77.8,151.5 78,152.2 78.1,151.8 78.4,152.6 78.6,151.9 78.7,151.9 79,152.3 79.2,151.8 79.3,152.4 79.7,152.3 79.8,152 80,152.4 80.1,152.4 80.3,151.9 80.4,152.7 80.6,152.1 80.7,152.3 80.9,152.1 81.2,152.5 81.5,151.8 81.6,152.1 81.8,151.9 82.2,152.3 82.4,152.6 82.6,152 82.7,152.4 82.9,152.2 83.2,153 83.3,152.4 83.5,152.8 83.8,152 84.1,152 84.5,152.7 85.1,152.2 85.3,152.4 85.8,152.6 86.1,152 86.4,152.3 86.5,152.9 86.7,152.4 87,152.9 87.3,152.4 87.4,152.5 87.6,152.3 87.9,152.9 88.1,152.7 88.4,152.8 88.5,153 88.8,150.2 89.1,152.7 89.3,152.4 89.4,152.9 89.6,152.9 89.7,152.7 89.9,153.2 90.3,152.6 90.6,152.8 90.8,153.1" fill="none" stroke="#d02828" stroke-width="1.2" stroke-linejoin="round" />
<polyline points="14.6,160 14.8,159.8 14.9,159.9 15.4,160.8 15.5,160 15.7,160.3 16,160.4 16.3,159.7 16.4,159.8 16.6,159.4 16.7,159.9 16.9,160 17,159.3 17.2,159.8 17.5,160 17.8,159.8 18,159.4 18.1,159.5 18.3,159.9 18.4,159.4 18.7,159.2 19,157.5 19.2,157.3 19.3,157.3 19.5,157.8 19.8,159.4 20.1,159.9 20.3,159.9 20.4,159.6 20.6,160 20.7,159.9 20.9,160.1 21.2,159.6 21.3,160.3 21.5,159.6 21.9,159.7 22.1,159.5 22.2,159.7 22.4,159.5 22.8,159.8 23.2,159.4 23.3,159.7 23.6,159.5 23.8,159.1 23.9,159.7 24.1,159.4 24.2,159.9 24.5,159.1 24.7,159 24.8,159.7 25,159.1 25.1,159.5 25.3,159.2 25.4,159.8 25.6,159.3 25.7,159.6 25.9,159.6 26.1,159.1 26.2,159.1 26.4,159.5 26.7,158.9 27,159.7 27.1,159.1 27.3,159.4 27.4,159 27.6,159.4 27.7,158.9 27.9,159.3 28.2,158.9 28.3,159 28.6,158.6 28.8,158.6 29,158.8 29.1,158.6 29.3,158.9 29.6,158.9 29.7,158.6 30,158.7 30.2,159 30.3,158.5 30.8,158.6 30.9,158.4 31.1,158.4 31.2,158.8 31.6,157.8 31.9,152.4 32,152.8 32.3,158.6 32.5,158.6 32.6,158.1 32.8,158.7 32.9,158.2 33.1,158.8 33.2,158.7 33.4,159 33.7,158 33.8,158.6 34,158.5 34.1,158.2 34.3,158.6 34.6,157.9 34.8,158.1 35.2,158.2 35.4,158 35.7,158.3 36,158 36.3,158 36.4,157.6 36.6,158.1 36.7,157.7 36.9,158 37,157.6 37.2,158.2 37.5,157.6 37.7,158 37.8,157.7 38,158.3 38.3,157.6 38.4,157.9 38.6,157.8 38.7,158.1 38.9,157.8 39,157.9 39.2,157.4 39.5,158.2 39.6,157.8 39.8,157.6 39.9,157.7 40.1,157.4 40.3,157.6 40.4,157.3 40.6,157.6 40.9,157.3 41,157.7 41.2,157.1 41.3,157.4 41.5,157.1 41.6,157.8 41.8,157.9 41.9,157.5 42.1,157.8 42.2,157.4 42.7,157 42.9,157.2 43.2,157 43.3,157.2 43.6,156.5 43.8,156.6 44.2,155.8 44.4,156.2 44.5,156.2 44.7,155.3 45.3,158 45.4,158.1 45.6,157.7 45.8,157.7 45.9,156.7 46.2,156.6 46.5,156.1 47,156.8 47.1,157.4 47.3,156.9 47.4,158.3 47.7,157.6 47.9,158.1 48,157.6 48.2,158 48.3,157.8 48.5,158 48.8,158.2 49,157.7 49.3,157.8 49.4,157.4 49.6,157.9 49.9,157.4 50,158 50.2,158 50.3,157.3 50.6,157.9 50.8,157.8 50.9,157.3 51.1,157.2 51.2,157.5 51.6,157 52,153.2 52.6,169.7 52.9,169.6 53.1,169.3 53.2,169.6 53.4,169.5 53.7,170 53.8,169.6 54,169.7 54.2,169.3 54.5,169.9 54.8,169.4 54.9,169.6 55.4,169.5 55.5,170 55.7,169.3 56,169.4 56.1,169.9 56.3,169.5 56.4,169.9 56.9,169.2 57.1,169.9 57.8,169.3 58,169.8 58.4,169.4 58.6,169.6 58.7,169.6 58.9,170 59.3,169.3 59.5,169.6 59.6,169.4 59.8,169.6 60.1,169.8 60.4,169.6 60.6,169.8 60.7,169.4 61,169.8 61.3,169.3 61.6,169.2 61.8,170.1 61.9,169.3 62.2,170.1 62.4,169.9 62.5,170 62.7,169.5 63,170.4 63.2,169.7 63.3,169.8 63.5,169.6 63.8,169.8 63.9,170 64.1,169.5 64.2,169.3 64.7,170.1 65,169.5 65.3,170 65.6,166.8 65.8,166.3 66.2,170.1 66.4,169.5 66.5,169.7 67,169.8 67.1,169.5 67.3,170 67.6,169.9 67.7,170.1 68.2,170.3 68.5,169.5 68.7,169.9 69,169.9 69.3,169.7 69.4,170.1 69.6,170.2 69.7,169.7 69.9,170.1 70.2,169.8 70.3,170.1 70.6,169.8 70.8,170 70.9,169.5 71.1,169.8 71.3,169.9 71.4,169.6 71.6,170 71.7,170.1 71.9,169.8 72,169.9 72.5,168.6 72.8,170.2 73.1,169.8 73.4,169.9 73.5,169.8 73.7,170.5 73.8,169.9 74,170.1 74.3,170.2 74.6,169.7 74.8,170.5 74.9,170.1 75.2,170.1 75.4,170.4 75.5,170.3 75.7,170.4 76,170.2 76.1,170.2 76.4,169.7 76.6,170.1 76.8,169.9 76.9,170.8 77.2,170.5 77.4,170 77.5,170.7 77.7,169.8 78,170 78.1,170 78.3,170.2 78.4,170.3 78.6,170.7 78.7,170.5 78.9,170.5 79.5,169.9 80,170.5 80.1,169.9 80.3,169.9 80.4,170.3 80.6,170 80.7,170.4 81.2,170 81.3,170.3 81.5,170.2 81.8,170.2 81.9,170.4 82.1,170.4 82.2,169.9 82.4,170.3 82.7,170.6 83,170.4 83.2,170.1 83.3,170.2 83.5,170.6 83.6,170.2 83.8,170.7 83.9,170.7 84.1,170.2 84.2,170.5 84.4,170.4 84.5,171 84.8,170.3 85,170.6 85.1,170.2 85.5,170.5 85.8,170.6 86.1,170 86.2,170.4 86.4,170.3 86.5,170.3 86.7,171.1 87.1,170.2 87.3,170.2 87.6,170.8 87.7,170.5 88.2,170.9 88.4,170.1 88.5,170.6 88.8,168.3 89.3,170.9 89.4,170.6 89.6,171 89.9,171.1 90,170.8 90.2,170.7 90.3,171.4 90.5,171 90.6,171.4 90.8,171.1" fill="none" stroke="#555" stroke-width="1.2" stroke-linejoin="round" />
<rect x="14.3" y="114.9" width="76.8" height="60.2" stroke="#444" stroke-width="1.0" fill="none"/>
<text x="44.7" y="118.05" font-size="3.6" font-family="'Liberation Serif', 'Times New Roman', serif" text-anchor="middle" fill="#000" font-weight="bold">O 1s</text>
<text x="31.9" y="126.95" font-size="3.6" font-family="'Liberation Serif', 'Times New Roman', serif" text-anchor="middle" fill="#000" font-weight="bold">F 1s</text>
<text x="49.5" y="130.65" font-size="3.6" font-family="'Liberation Serif', 'Times New Roman', serif" text-anchor="middle" fill="#000" font-weight="bold">Ti 2p</text>
<text x="58.2" y="132.45" font-size="3.6" font-family="'Liberation Serif', 'Times New Roman', serif" text-anchor="middle" fill="#000" font-weight="bold">N 1s</text>
<text x="68.3" y="122.35" font-size="3.6" font-family="'Liberation Serif', 'Times New Roman', serif" text-anchor="middle" fill="#000" font-weight="bold">C 1s</text>
<text x="75.8" y="140.25" font-size="3.6" font-family="'Liberation Serif', 'Times New Roman', serif" text-anchor="middle" fill="#2a2aee" font-weight="bold">CMC/MXene-NH<tspan font-size="2.6" dy="0.8">2</tspan></text>
<text x="79.5" y="157.05" font-size="3.6" font-family="'Liberation Serif', 'Times New Roman', serif" text-anchor="middle" fill="#d02828" font-weight="bold">MXene-NH<tspan font-size="2.6" dy="0.8">2</tspan></text>
<text x="83" y="172.55" font-size="3.6" font-family="'Liberation Serif', 'Times New Roman', serif" text-anchor="middle" fill="#555" font-weight="bold">MXene</text>
<line x1="23.24" y1="175.1" x2="23.24" y2="173.1" stroke="#000" stroke-width="0.6" />
<text x="23.24" y="179.55" font-size="3.6" font-family="'Liberation Serif', 'Times New Roman', serif" text-anchor="middle" fill="#000" font-weight="bold">800</text>
<line x1="40.08" y1="175.1" x2="40.08" y2="173.1" stroke="#000" stroke-width="0.6" />
<text x="40.08" y="179.55" font-size="3.6" font-family="'Liberation Serif', 'Times New Roman', serif" text-anchor="middle" fill="#000" font-weight="bold">600</text>
<line x1="56.92" y1="175.1" x2="56.92" y2="173.1" stroke="#000" stroke-width="0.6" />
<text x="56.92" y="179.55" font-size="3.6" font-family="'Liberation Serif', 'Times New Roman', serif" text-anchor="middle" fill="#000" font-weight="bold">400</text>
<line x1="73.76" y1="175.1" x2="73.76" y2="173.1" stroke="#000" stroke-width="0.6" />
<text x="73.76" y="179.55" font-size="3.6" font-family="'Liberation Serif', 'Times New Roman', serif" text-anchor="middle" fill="#000" font-weight="bold">200</text>
<line x1="90.6" y1="175.1" x2="90.6" y2="173.1" stroke="#000" stroke-width="0.6" />
<text x="90.6" y="179.55" font-size="3.6" font-family="'Liberation Serif', 'Times New Roman', serif" text-anchor="middle" fill="#000" font-weight="bold">0</text>
<text x="53" y="183.36" font-size="4.2" font-family="'Liberation Serif', 'Times New Roman', serif" text-anchor="middle" fill="#000" font-weight="bold" textLength="34" lengthAdjust="spacingAndGlyphs">Binding Energy (eV)</text>
<text x="10.3" y="148.75" font-size="3.6" font-family="'Liberation Serif', 'Times New Roman', serif" text-anchor="middle" fill="#000" font-weight="bold" transform="rotate(-90 10.3 147.5)" textLength="19" lengthAdjust="spacingAndGlyphs">Intensity (a.u.)</text>
<polyline points="119.9,167.4 120.9,167 121.9,166 122.6,164.6 123.4,162.6 124.7,157.1 127.4,143 128.2,140.6 128.6,140 129,139.8 129.3,140.1 129.7,140.8 130.5,143.4 133.2,157.6 134.5,162.9 135.3,164.9 136,166.2 136.8,166.9 137.8,167.5" fill="none" stroke="#33dddd" stroke-width="0.9" stroke-linejoin="round" />
<polyline points="126.3,167.5 126.8,167.2 127.4,166.7 128.2,165.5 129,163.3 129.5,160.9 130.7,153.4 133,133.3 133.7,129 134.1,128 134.3,127.8 134.5,127.8 134.9,128.5 135.7,132.2 138.2,153.7 139.3,161.1 139.9,163.5 140.6,165.6 141.4,166.8 142.4,167.5" fill="none" stroke="#2a2aee" stroke-width="0.9" stroke-linejoin="round" />
<polyline points="135.7,167.4 136.4,166.9 137,166.3 137.6,165.2 138.2,163.6 139.1,159.6 141.4,147 142,145.1 142.4,144.4 142.6,144.3 142.8,144.4 143.1,144.9 143.7,146.7 146,159.3 147,163.4 147.5,165 148.1,166.2 148.9,167.1 149.7,167.5" fill="none" stroke="#dd22dd" stroke-width="0.9" stroke-linejoin="round" />
<polyline points="135.7,167.5 137.2,166.8 138.5,165.5 139.9,163.2 142.8,156.9 143.7,155.6 144.1,155.4 144.5,155.3 145.2,155.8 146,156.8 148.9,163.2 150,165.2 151.4,166.7 152.2,167.2 153.1,167.5" fill="none" stroke="#777711" stroke-width="0.9" stroke-linejoin="round" />
<polyline points="147,167.5 148.7,167 150.2,166.3 152,165.1 155.8,161.7 156.9,161.1 158.1,160.9 159.2,161.1 160.4,161.7 164.2,165.1 166,166.4 167.5,167.1 169.2,167.6" fill="none" stroke="#7a1a6a" stroke-width="0.9" stroke-linejoin="round" />
<polyline points="97.7,167.2 97.9,168 98.1,168.1 98.5,167 98.7,167.9 98.9,167.7 99,167.8 99.2,166.8 99.4,167.9 99.6,166.7 100,168 100.2,167.1 100.4,167.1 100.8,168.3 101,168.3 101.2,167.5 101.3,168.1 101.7,167.8 101.9,167.8 102.1,167.5 102.7,168.7 103.1,166.9 103.5,167.8 103.6,167.7 103.8,167.1 104,167.7 104.6,167.7 105,168.2 105.4,167.3 105.9,167.7 106.3,167.6 106.5,167.4 106.7,168.1 107.1,168.1 107.3,167.7 107.5,167.9 107.7,167.4 107.9,167.4 108.2,167.9 108.6,167.3 108.8,167.8 109,167.9 109.4,167.5 109.6,167.8 109.8,167.6 110.2,167.7 110.5,168.4 110.7,168.3 111.1,167.6 111.5,167.6 111.7,168.1 111.9,166.8 112.1,167.8 112.3,167 112.7,168.2 113,166.9 113.2,168.2 113.4,168.3 113.6,167.9 113.8,168.2 114,167.5 114.2,168.2 114.4,168.3 114.8,167.8 115,168.2 115.1,168.1 115.3,167.5 115.5,168.2 115.9,167.8 116.1,168.2 116.5,168 116.7,167.6 116.9,168 117.1,167.4 117.3,167.7 117.4,167.2 117.6,167.2 117.8,167.9 118,167.7 118.4,168 118.6,167.9 118.8,167.4 119,167.8 119.4,167.6 119.6,167.7 119.9,167.5 120.3,167.8 120.5,168.5 120.7,167.5 120.9,167.9 121.1,167.2 121.3,168.3 121.5,167.6 121.9,168.2 122,168.1 122.2,167.2 122.4,168 122.6,167.7 122.8,168 123,167.8 123.2,168 123.6,167.7 123.8,168.2 124,167.2 124.2,167.6 124.4,167.4 124.5,167.7 124.7,167.6 124.9,167.7 125.3,167.6 125.5,167.2 125.7,167.8 125.9,167.9 126.1,167.6 126.5,167.5 126.7,168.4 126.8,167.8 127,167.9 127.6,167.5 127.8,168.3 128,167.2 128.2,167.9 128.6,167.7 128.8,167.2 129,167.3 129.1,168.1 129.3,167.5 129.5,168.1 130.1,168.1 130.3,167.4 130.7,168 130.9,167.3 131.1,168.4 131.3,167.6 131.4,167.8 131.6,167.4 131.8,167.9 132,167.5 132.2,167.7 132.4,167.4 132.6,168.2 132.8,167.2 133,168 133.4,167.9 133.6,167.4 133.7,168.2 133.9,168.1 134.1,167.9 134.3,167.9 134.5,167.7 134.7,168 134.9,167.5 135.1,168 135.3,167.9 135.7,166.9 135.9,167.8 136,167.7 136.2,168.2 136.8,167.3 137,167.8 137.4,167.4 137.8,168.2 138.2,167.4 138.3,167.9 138.5,167.4 138.7,167.3 138.9,168 139.1,167.6 139.3,168.2 139.7,167.5 140.1,168.3 140.5,167.4 140.6,167.6 141.2,167.4 141.6,168.2 141.8,167.7 142,168.1 142.2,168.1 142.4,168.4 142.6,167.8 142.8,167.7 142.9,168 143.1,167.9 143.3,167.9 143.5,168.3 143.7,167.7 143.9,167.9 144.1,167.5 144.3,167.8 144.7,167.6 144.9,167.7 145.1,167.7 145.4,168.1 145.6,167.3 145.8,168.2 146,167 146.2,167.9 146.4,168.1 146.6,167.6 146.8,167.7 147,167.6 147.2,168.1 147.4,166.7 147.5,167.5 147.7,167.2 148.1,168.3 148.7,167.9 148.9,167.6 149.1,168.3 149.7,167.4 150,168.2 150.4,168.4 150.6,167.6 150.8,167.7 151,168.3 151.2,167.9 151.4,168.1 151.6,167.4 152,167.8 152.3,167.7 152.5,167.3 152.7,168.4 153.1,167.3 153.3,168.2 153.5,167.9 153.7,168.1 154.1,167.6 154.3,167.6 154.6,168.1 154.8,168 155.2,168.3 155.4,168 155.6,168.2 155.8,168.2 156.8,167.3 156.9,168.3 157.3,167.7 157.5,168.4 157.9,167.9 158.1,168.2 158.3,167.8 158.7,168.5 159.1,167.8 159.4,168.3 159.6,167.8 159.8,167.7 160,168.5 160.4,167.4 160.8,168.7 161,168.1 161.2,168.2 161.4,167.1 161.7,168.3 161.9,167.8 162.1,168.4 162.3,168.1 162.5,168.1 162.7,168.5 162.9,167.7 163.5,168 163.7,167.3 163.8,168.3 164.2,167.9 164.4,168.1 164.6,167.8 164.8,168.3 165,167.9 165.2,168.2 165.4,167.6 165.8,168.1 166,167.6 166.3,167.9 166.5,168.3 166.7,168.2 166.9,168.2 167.1,168 167.5,168.5 167.7,168 168.1,168.1 168.3,167.2 168.4,167.9 168.6,168.1 168.8,168.2 169,167.8 169.2,168.3 169.4,167.7 169.6,167.9 169.8,168.5 170,167.5 170.2,167.9 170.6,167.9 170.7,167.7 170.9,168.2 171.1,167.6 171.3,167.5 171.5,168.1 171.7,167.5 171.9,168.1 172.3,167.7 172.9,168.1 173,167.7 173.2,167.9 173.4,167.4 173.6,167.8 173.8,167.3 174,167.9 174.2,167.8" fill="none" stroke="#222255" stroke-width="1.1" stroke-linejoin="round" />
<polyline points="97.7,167.6 118,167.4 123.4,166.5 124.9,163.6 127,155.8 129.7,138.2 131.6,123.9 133,120.7 133.2,120.5 135.3,123.1 137.6,137.6 139.7,142.1 139.9,142.3 141.6,143.2 141.8,143.6 143.9,151.4 147.2,160.6 151.8,163.3 155,161.8 158.1,160.6 161,163 163.7,166 168.1,167.4 174.2,167.6" fill="none" stroke="#a02020" stroke-width="1.3" stroke-linejoin="round" />
<rect x="97.4" y="114.9" width="77.1" height="60.1" stroke="#444" stroke-width="1.0" fill="none"/>
<text x="120.7" y="119.46" font-size="4.2" font-family="'Liberation Serif', 'Times New Roman', serif" text-anchor="middle" fill="#000" font-weight="bold">N 1s</text>
<text x="161.8" y="119.46" font-size="4.2" font-family="'Liberation Serif', 'Times New Roman', serif" text-anchor="middle" fill="#000" font-weight="bold">MXene-NH<tspan font-size="2.9" dy="0.8">2</tspan></text>
<text x="140.7" y="128.59" font-size="4" font-family="'Liberation Serif', 'Times New Roman', serif" text-anchor="start" fill="#2a2aee" font-weight="bold">-NH<tspan font-size="2.9" dy="0.8">3</tspan><tspan font-size="2.9" dy="-2">+</tspan></text>
<line x1="136" y1="128.3" x2="140.3" y2="127.4" stroke="#2a2aee" stroke-width="0.6" />
<text x="143.5" y="140.99" font-size="4" font-family="'Liberation Serif', 'Times New Roman', serif" text-anchor="middle" fill="#dd22dd" font-weight="bold">-NH<tspan font-size="2.9" dy="0.8">2</tspan></text>
<text x="121.6" y="140.99" font-size="4" font-family="'Liberation Serif', 'Times New Roman', serif" text-anchor="middle" fill="#33dddd" font-weight="bold">-NH</text>
<text x="148" y="149.19" font-size="4" font-family="'Liberation Serif', 'Times New Roman', serif" text-anchor="middle" fill="#777711" font-weight="bold">N-C</text>
<text x="159" y="154.69" font-size="4" font-family="'Liberation Serif', 'Times New Roman', serif" text-anchor="middle" fill="#7a1a6a" font-weight="bold">N-Ti</text>
<line x1="105.6" y1="175" x2="105.6" y2="173" stroke="#000" stroke-width="0.6" />
<text x="105.6" y="180.15" font-size="3.6" font-family="'Liberation Serif', 'Times New Roman', serif" text-anchor="middle" fill="#000" font-weight="bold">408</text>
<line x1="119.19" y1="175" x2="119.19" y2="173" stroke="#000" stroke-width="0.6" />
<text x="119.19" y="180.15" font-size="3.6" font-family="'Liberation Serif', 'Times New Roman', serif" text-anchor="middle" fill="#000" font-weight="bold">405</text>
<line x1="132.78" y1="175" x2="132.78" y2="173" stroke="#000" stroke-width="0.6" />
<text x="132.78" y="180.15" font-size="3.6" font-family="'Liberation Serif', 'Times New Roman', serif" text-anchor="middle" fill="#000" font-weight="bold">402</text>
<line x1="146.37" y1="175" x2="146.37" y2="173" stroke="#000" stroke-width="0.6" />
<text x="146.37" y="180.15" font-size="3.6" font-family="'Liberation Serif', 'Times New Roman', serif" text-anchor="middle" fill="#000" font-weight="bold">399</text>
<line x1="159.96" y1="175" x2="159.96" y2="173" stroke="#000" stroke-width="0.6" />
<text x="159.96" y="180.15" font-size="3.6" font-family="'Liberation Serif', 'Times New Roman', serif" text-anchor="middle" fill="#000" font-weight="bold">396</text>
<line x1="173.55" y1="175" x2="173.55" y2="173" stroke="#000" stroke-width="0.6" />
<text x="173.55" y="180.15" font-size="3.6" font-family="'Liberation Serif', 'Times New Roman', serif" text-anchor="middle" fill="#000" font-weight="bold">393</text>
<text x="136" y="183.32" font-size="4.4" font-family="'Liberation Serif', 'Times New Roman', serif" text-anchor="middle" fill="#000" font-weight="bold">Binding Energy(eV)</text>
<text x="94" y="146.39" font-size="4" font-family="'Liberation Serif', 'Times New Roman', serif" text-anchor="middle" fill="#000" font-weight="bold" transform="rotate(-90 94 145)">Intensity(a.u.)</text>
<polyline points="30,207.9 31.5,207.4 34.1,206.1 35.2,205.9 36.6,206.2 39.2,207.7 40.5,208.3" fill="none" stroke="#5522cc" stroke-width="0.9" stroke-linejoin="round" />
<polyline points="31.5,207.9 33,207.4 34.3,206.5 35.6,205.1 38.8,201 39.8,200.3 40.5,200.1 41.5,200.4 42.4,201.2 45.6,205.6 46.9,207.1 48.2,208 49.8,208.7" fill="none" stroke="#33dddd" stroke-width="0.9" stroke-linejoin="round" />
<polyline points="46.9,208.6 48.4,208.1 51.5,206.9 53,206.7 54.5,207 57.5,208.6 59,209.2" fill="none" stroke="#dd22dd" stroke-width="0.9" stroke-linejoin="round" />
<polyline points="53.3,208.9 54.5,208.5 55.4,207.9 56.4,206.9 58.8,204 59.6,203.4 60.1,203.3 60.9,203.5 61.6,204.2 64.1,207.4 65,208.5 66,209.2 67.1,209.7" fill="none" stroke="#777711" stroke-width="0.9" stroke-linejoin="round" />
<polyline points="57.5,209.1 58.2,208.8 58.8,208.3 59.9,206.7 60.9,204.5 63.3,196.9 64.1,195.6 64.6,195.4 65.2,195.8 66,197.3 68.2,204.6 69.4,207.4 70.5,209.1 71.1,209.6 71.8,210" fill="none" stroke="#dd44aa" stroke-width="0.9" stroke-linejoin="round" />
<polyline points="60.5,209.3 61.3,208.9 61.8,208.3 62.4,207.4 62.9,206.1 63.9,202.9 66.2,193 66.7,191.6 67.1,191.1 67.3,191 67.5,191.1 67.8,191.6 68.6,193.7 70.7,203.2 71.6,206.5 72.2,207.9 72.7,208.9 73.3,209.6 74.1,210.1" fill="none" stroke="#cc1188" stroke-width="0.9" stroke-linejoin="round" />
<polyline points="63.5,209.5 64.3,209.1 64.8,208.6 65.8,207 66.7,204.2 68.8,196.2 69.4,194.8 69.9,194.2 70.1,194.2 70.5,194.6 71.1,195.9 73.3,204.7 74.3,207.6 75.2,209.3 75.8,209.9 76.3,210.2" fill="none" stroke="#772299" stroke-width="0.9" stroke-linejoin="round" />
<polyline points="66.3,209.6 67.3,209 68,208 69,205.9 70.7,201.1 71.2,200.1 71.8,199.8 72.4,200.2 72.9,201.3 74.6,206.3 75.6,208.5 76.3,209.6 77.3,210.3" fill="none" stroke="#333388" stroke-width="0.9" stroke-linejoin="round" />
<polyline points="68.6,209.8 69.5,209.5 70.3,209.1 73.3,206.7 73.9,206.5 74.4,206.5 75,206.6 75.6,206.9 78.4,209.5 79.3,210.1 80.3,210.5" fill="none" stroke="#ee8800" stroke-width="0.9" stroke-linejoin="round" />
<polyline points="14.7,207.5 49.9,209 89.9,211.5" fill="none" stroke="#dd7a30" stroke-width="1.0" stroke-linejoin="round" />
<polyline points="14.7,207.1 23.7,206.3 32.6,203.6 36.9,200.5 41.5,198.2 46,201.8 52,203.2 52.2,203.2 57.5,201.8 62,196.5 66.3,188.6 69.2,187.3 71.8,189.3 73.7,200.3 76.1,207 76.3,207.3 80.7,209 89.9,209.8" fill="none" stroke="#a02020" stroke-width="1.3" stroke-linejoin="round" />
<polyline points="28.6,236.2 30.2,235.8 32.8,234.6 33.9,234.4 35.2,234.8 37.9,236.4 39.2,237" fill="none" stroke="#5522cc" stroke-width="0.9" stroke-linejoin="round" />
<polyline points="32.6,236.5 33.9,236.2 35.2,235.6 36.6,234.6 39.6,231.7 40.5,231.1 41.5,231 42.4,231.2 43.3,231.9 46.4,235.2 47.7,236.4 49,237.3 50.3,237.9" fill="none" stroke="#33dddd" stroke-width="0.9" stroke-linejoin="round" />
<polyline points="47.9,237.6 49.4,237.2 51.8,236.1 53.1,235.9 54.3,236.3 56.9,238.1 58.4,238.8" fill="none" stroke="#dd22dd" stroke-width="0.9" stroke-linejoin="round" />
<polyline points="53.1,238.2 54.3,237.8 55.4,237 56.4,235.8 58.8,232.1 59.6,231.5 60.1,231.4 60.9,231.7 61.6,232.5 64.1,236.8 65.2,238.3 66.2,239.2 67.3,239.9" fill="none" stroke="#442288" stroke-width="0.9" stroke-linejoin="round" />
<polyline points="59.2,238.9 60.5,238.4 61.6,237.2 62.8,235.2 65,230.3 65.8,229.3 66.3,229.1 66.9,229.3 67.7,230.4 70.1,236.3 71.2,238.5 72.4,239.8 73.5,240.6" fill="none" stroke="#777711" stroke-width="0.9" stroke-linejoin="round" />
<polyline points="62,239.3 62.8,239 63.3,238.5 63.9,237.8 64.5,236.7 65.6,233.5 67.8,224.8 68.6,223.2 69,222.9 69.2,222.9 69.7,223.5 70.3,225 72.6,234.1 73.7,237.7 74.3,238.9 74.8,239.8 75.4,240.4 76.1,240.9" fill="none" stroke="#aa22aa" stroke-width="0.9" stroke-linejoin="round" />
<polyline points="65.2,239.6 66.2,239.1 67.1,238 67.8,236.6 69.7,232.2 70.3,231.4 70.9,231.1 71.4,231.5 72,232.4 73.9,237.2 74.8,239.2 75.6,240.2 76.5,240.9" fill="none" stroke="#333388" stroke-width="0.9" stroke-linejoin="round" />
<polyline points="14.7,235.5 48.6,238 89.9,242.9" fill="none" stroke="#3a2aaa" stroke-width="1.3" stroke-linejoin="round" />
<polyline points="14.7,235 27.1,234.5 34.3,232.7 38.1,230 41.5,227.9 45,229.5 48.6,231.8 55.8,233.1 61.1,230 65.6,221.9 69.5,218 72,221 73.7,231.2 75.4,237.3 80.7,240.7 89.9,242.4" fill="none" stroke="#a02020" stroke-width="1.3" stroke-linejoin="round" />
<rect x="14.4" y="185.1" width="75.8" height="60" stroke="#444" stroke-width="1.0" fill="none"/>
<line x1="14.4" y1="216" x2="90.2" y2="216" stroke="#444" stroke-width="1.0" />
<text x="34.4" y="188.86" font-size="4.2" font-family="'Liberation Serif', 'Times New Roman', serif" text-anchor="middle" fill="#000" font-weight="bold">Ti 2p</text>
<text x="52.7" y="188.86" font-size="4.2" font-family="'Liberation Serif', 'Times New Roman', serif" text-anchor="middle" fill="#000" font-weight="bold">MXene-NH<tspan font-size="2.9" dy="0.8">2</tspan></text>
<text x="49.5" y="220.06" font-size="4.2" font-family="'Liberation Serif', 'Times New Roman', serif" text-anchor="middle" fill="#000" font-weight="bold">MXene</text>
<text x="30.8" y="198.58" font-size="3.4" font-family="'Liberation Serif', 'Times New Roman', serif" text-anchor="middle" fill="#5522cc" font-weight="bold">Ti-F</text>
<text x="42" y="194.08" font-size="3.4" font-family="'Liberation Serif', 'Times New Roman', serif" text-anchor="middle" fill="#33dddd" font-weight="bold">Ti-O 2p1/2</text>
<text x="54" y="196.78" font-size="3.4" font-family="'Liberation Serif', 'Times New Roman', serif" text-anchor="middle" fill="#777711" font-weight="bold">Ti-O 2p3/2</text>
<text x="51.3" y="200.88" font-size="3.4" font-family="'Liberation Serif', 'Times New Roman', serif" text-anchor="middle" fill="#dd22dd" font-weight="bold">Ti 2p1/2</text>
<text x="81.6" y="191.98" font-size="3.4" font-family="'Liberation Serif', 'Times New Roman', serif" text-anchor="middle" fill="#cc1188" font-weight="bold">Ti 2p3/2</text>
<text x="82.5" y="198.58" font-size="3.4" font-family="'Liberation Serif', 'Times New Roman', serif" text-anchor="middle" fill="#442288" font-weight="bold">Ti-C 2p3/2</text>
<text x="80.7" y="204.78" font-size="3.4" font-family="'Liberation Serif', 'Times New Roman', serif" text-anchor="middle" fill="#ee8800" font-weight="bold">Ti-N</text>
<text x="29.9" y="228.58" font-size="3.4" font-family="'Liberation Serif', 'Times New Roman', serif" text-anchor="middle" fill="#5522cc" font-weight="bold">Ti-F</text>
<text x="35" y="223.18" font-size="3.4" font-family="'Liberation Serif', 'Times New Roman', serif" text-anchor="middle" fill="#33dddd" font-weight="bold">Ti-O 2p1/2</text>
<text x="51.3" y="230.28" font-size="3.4" font-family="'Liberation Serif', 'Times New Roman', serif" text-anchor="middle" fill="#dd22dd" font-weight="bold">Ti 2p1/2</text>
<text x="52.2" y="225.88" font-size="3.4" font-family="'Liberation Serif', 'Times New Roman', serif" text-anchor="middle" fill="#772299" font-weight="bold">Ti-O 2p3/2</text>
<text x="80.7" y="221.38" font-size="3.4" font-family="'Liberation Serif', 'Times New Roman', serif" text-anchor="middle" fill="#777711" font-weight="bold">Ti 2p3/2</text>
<text x="83.3" y="227.98" font-size="3.4" font-family="'Liberation Serif', 'Times New Roman', serif" text-anchor="middle" fill="#333388" font-weight="bold">Ti-C 2p3/2</text>
<line x1="14.5" y1="245.1" x2="14.5" y2="243.1" stroke="#000" stroke-width="0.6" />
<text x="14.5" y="249.84" font-size="3.3" font-family="'Liberation Serif', 'Times New Roman', serif" text-anchor="middle" fill="#000" font-weight="bold">468</text>
<line x1="23.4" y1="245.1" x2="23.4" y2="243.1" stroke="#000" stroke-width="0.6" />
<text x="23.4" y="249.84" font-size="3.3" font-family="'Liberation Serif', 'Times New Roman', serif" text-anchor="middle" fill="#000" font-weight="bold">466</text>
<line x1="32.3" y1="245.1" x2="32.3" y2="243.1" stroke="#000" stroke-width="0.6" />
<text x="32.3" y="249.84" font-size="3.3" font-family="'Liberation Serif', 'Times New Roman', serif" text-anchor="middle" fill="#000" font-weight="bold">464</text>
<line x1="41.2" y1="245.1" x2="41.2" y2="243.1" stroke="#000" stroke-width="0.6" />
<text x="41.2" y="249.84" font-size="3.3" font-family="'Liberation Serif', 'Times New Roman', serif" text-anchor="middle" fill="#000" font-weight="bold">462</text>
<line x1="50.1" y1="245.1" x2="50.1" y2="243.1" stroke="#000" stroke-width="0.6" />
<text x="50.1" y="249.84" font-size="3.3" font-family="'Liberation Serif', 'Times New Roman', serif" text-anchor="middle" fill="#000" font-weight="bold">460</text>
<line x1="59" y1="245.1" x2="59" y2="243.1" stroke="#000" stroke-width="0.6" />
<text x="59" y="249.84" font-size="3.3" font-family="'Liberation Serif', 'Times New Roman', serif" text-anchor="middle" fill="#000" font-weight="bold">458</text>
<line x1="67.9" y1="245.1" x2="67.9" y2="243.1" stroke="#000" stroke-width="0.6" />
<text x="67.9" y="249.84" font-size="3.3" font-family="'Liberation Serif', 'Times New Roman', serif" text-anchor="middle" fill="#000" font-weight="bold">456</text>
<line x1="76.8" y1="245.1" x2="76.8" y2="243.1" stroke="#000" stroke-width="0.6" />
<text x="76.8" y="249.84" font-size="3.3" font-family="'Liberation Serif', 'Times New Roman', serif" text-anchor="middle" fill="#000" font-weight="bold">454</text>
<line x1="85.7" y1="245.1" x2="85.7" y2="243.1" stroke="#000" stroke-width="0.6" />
<text x="85.7" y="249.84" font-size="3.3" font-family="'Liberation Serif', 'Times New Roman', serif" text-anchor="middle" fill="#000" font-weight="bold">452</text>
<text x="53.5" y="254.02" font-size="4.4" font-family="'Liberation Serif', 'Times New Roman', serif" text-anchor="middle" fill="#000" font-weight="bold" textLength="34" lengthAdjust="spacingAndGlyphs">Binding Energy(eV)</text>
<text x="9" y="216.39" font-size="4" font-family="'Liberation Serif', 'Times New Roman', serif" text-anchor="middle" fill="#000" font-weight="bold" transform="rotate(-90 9 215)">Intensity(a.u.)</text>
<polyline points="100.2,212 103.1,211.5 108.2,209.9 110.5,209.7 113,210 118,211.5 120.9,212.1" fill="none" stroke="#442288" stroke-width="0.9" stroke-linejoin="round" />
<polyline points="120.5,212.1 121.7,211.7 122.6,211.2 123.8,210.4 126.3,208.3 127.2,207.8 128,207.6 128.6,207.7 129.3,208 133.2,211.1 134.3,211.8 135.5,212.1" fill="none" stroke="#dd22dd" stroke-width="0.9" stroke-linejoin="round" />
<polyline points="129.1,212.1 130.1,211.8 130.9,211.3 131.8,210.4 133.9,208.1 134.7,207.6 135.3,207.4 135.8,207.6 136.4,207.9 139.5,211.1 140.4,211.8 141.4,212.2" fill="none" stroke="#777711" stroke-width="0.9" stroke-linejoin="round" />
<polyline points="131.6,212.1 133.5,211.5 135.3,210.3 136.8,208.6 140.4,203.7 141.6,202.8 142.6,202.5 143.5,202.7 144.7,203.6 145.6,204.8 148.5,208.8 150,210.4 151.8,211.6 153.7,212.2" fill="none" stroke="#33dddd" stroke-width="0.9" stroke-linejoin="round" />
<polyline points="97.5,212.3 174,212.6" fill="none" stroke="#555" stroke-width="0.8" stroke-linejoin="round" />
<polyline points="148.1,212 150.6,211.7 152.1,211.2 153.3,210.4 154.1,209.1 154.6,207.5 155.2,205.1 156,200.6 157.3,191 157.7,189.2 158.1,188.5 158.3,188.7 158.5,189.1 158.9,190.9 161,205 161.5,207.4 162.3,209.5 163.3,210.8 164.4,211.4 166.5,211.9 170,212.3" fill="none" stroke="#2a2ad0" stroke-width="1.4" stroke-linejoin="round" />
<polyline points="97.5,212.2 110.5,209.6 119.7,210.5 124,208.5 127,207.4 132.6,206.7 137,204 141.2,202.3 144.1,203.6 147.2,206.8 150,207 152.5,205.9 155.4,195 158.1,188 160.8,194.9 163.6,208.7 165.9,210.9 169,212.3 174,212.5" fill="none" stroke="#a02020" stroke-width="1.3" stroke-linejoin="round" />
<polyline points="99.6,243.3 102.9,242.6 108.2,240.5 109.4,240.3 110.5,240.2 111.7,240.3 112.8,240.5 118.4,242.7 121.7,243.4" fill="none" stroke="#442288" stroke-width="0.9" stroke-linejoin="round" />
<polyline points="123,243.4 124.2,243 125.3,242.3 126.3,241.5 129.1,238.4 129.9,238 130.7,237.8 131.4,237.9 132.4,238.6 135.1,241.4 136.2,242.5 137.4,243.1 138.5,243.5" fill="none" stroke="#dd22dd" stroke-width="0.9" stroke-linejoin="round" />
<polyline points="130.5,243.4 132.4,242.8 134.1,241.5 135.8,239.4 138.5,235.2 139.7,233.6 140.8,232.6 141.8,232.3 142.7,232.7 143.9,233.8 147.5,239.5 149.1,241.4 150.8,242.8 151.8,243.2 152.9,243.6" fill="none" stroke="#33dddd" stroke-width="0.9" stroke-linejoin="round" />
<polyline points="97.5,243.6 174,244" fill="none" stroke="#3a2a99" stroke-width="1.1" stroke-linejoin="round" />
<polyline points="148.1,243.5 151,243.2 152.9,242.7 154.1,242 154.8,240.9 155.6,238.8 156.2,236.4 158.3,222.5 158.7,220.9 158.9,220.5 159,220.4 159.4,221.2 159.8,223 161.7,235.9 162.3,238.5 163.1,240.7 163.8,241.9 165,242.7 166.9,243.3 170,243.6" fill="none" stroke="#2a2ad0" stroke-width="1.4" stroke-linejoin="round" />
<polyline points="97.5,242.2 104,241 110.5,239.2 117.1,239.8 123.4,239.6 130.7,236.3 136,233.5 141.6,231.4 141.8,231.5 146,234.5 150.8,238.7 153.1,234.7 155.4,228.6 157.3,222 158.9,219.7 159,219.6 160.6,222.9 164.4,240.1 164.6,240.6 168.1,242.6 174,243.2" fill="none" stroke="#a02020" stroke-width="1.3" stroke-linejoin="round" />
<rect x="97.2" y="185.1" width="77.1" height="59.8" stroke="#444" stroke-width="1.0" fill="none"/>
<line x1="97.2" y1="216.8" x2="174.3" y2="216.8" stroke="#444" stroke-width="1.0" />
<text x="120.7" y="189.16" font-size="4.2" font-family="'Liberation Serif', 'Times New Roman', serif" text-anchor="middle" fill="#000" font-weight="bold">C 1s</text>
<text x="144.4" y="189.16" font-size="4.2" font-family="'Liberation Serif', 'Times New Roman', serif" text-anchor="middle" fill="#000" font-weight="bold">MXene-NH<tspan font-size="2.9" dy="0.8">2</tspan></text>
<text x="145.3" y="221.26" font-size="4.2" font-family="'Liberation Serif', 'Times New Roman', serif" text-anchor="middle" fill="#000" font-weight="bold">MXene</text>
<text x="108.8" y="203.62" font-size="3.8" font-family="'Liberation Serif', 'Times New Roman', serif" text-anchor="middle" fill="#442288" font-weight="bold">C=O,C-F</text>
<text x="124.3" y="203.62" font-size="3.8" font-family="'Liberation Serif', 'Times New Roman', serif" text-anchor="middle" fill="#dd22dd" font-weight="bold">C-O</text>
<text x="133.4" y="200.82" font-size="3.8" font-family="'Liberation Serif', 'Times New Roman', serif" text-anchor="middle" fill="#777711" font-weight="bold">C-N</text>
<text x="142.6" y="198.12" font-size="3.8" font-family="'Liberation Serif', 'Times New Roman', serif" text-anchor="middle" fill="#33dddd" font-weight="bold">C-C</text>
<text x="164.5" y="198.12" font-size="3.8" font-family="'Liberation Serif', 'Times New Roman', serif" text-anchor="middle" fill="#2a2aee" font-weight="bold">C-Ti</text>
<text x="108.8" y="233.62" font-size="3.8" font-family="'Liberation Serif', 'Times New Roman', serif" text-anchor="middle" fill="#442288" font-weight="bold">C=O,C-F</text>
<text x="131.6" y="232.72" font-size="3.8" font-family="'Liberation Serif', 'Times New Roman', serif" text-anchor="middle" fill="#dd22dd" font-weight="bold">C-O</text>
<text x="140.7" y="228.12" font-size="3.8" font-family="'Liberation Serif', 'Times New Roman', serif" text-anchor="middle" fill="#33dddd" font-weight="bold">C-C</text>
<text x="164.5" y="227.72" font-size="3.8" font-family="'Liberation Serif', 'Times New Roman', serif" text-anchor="middle" fill="#2a2aee" font-weight="bold">C-Ti</text>
<line x1="111" y1="204" x2="110.6" y2="208.5" stroke="#442288" stroke-width="0.5" />
<line x1="163.5" y1="198.5" x2="160.5" y2="203" stroke="#2a2aee" stroke-width="0.5" />
<line x1="111" y1="234" x2="110.6" y2="238" stroke="#442288" stroke-width="0.5" />
<line x1="163.5" y1="228" x2="161.5" y2="232" stroke="#2a2aee" stroke-width="0.5" />
<line x1="104.3" y1="244.9" x2="104.3" y2="242.9" stroke="#000" stroke-width="0.6" />
<text x="104.3" y="249.88" font-size="3.4" font-family="'Liberation Serif', 'Times New Roman', serif" text-anchor="middle" fill="#000" font-weight="bold">290</text>
<line x1="118.3" y1="244.9" x2="118.3" y2="242.9" stroke="#000" stroke-width="0.6" />
<text x="118.3" y="249.88" font-size="3.4" font-family="'Liberation Serif', 'Times New Roman', serif" text-anchor="middle" fill="#000" font-weight="bold">288</text>
<line x1="132.3" y1="244.9" x2="132.3" y2="242.9" stroke="#000" stroke-width="0.6" />
<text x="132.3" y="249.88" font-size="3.4" font-family="'Liberation Serif', 'Times New Roman', serif" text-anchor="middle" fill="#000" font-weight="bold">286</text>
<line x1="146.3" y1="244.9" x2="146.3" y2="242.9" stroke="#000" stroke-width="0.6" />
<text x="146.3" y="249.88" font-size="3.4" font-family="'Liberation Serif', 'Times New Roman', serif" text-anchor="middle" fill="#000" font-weight="bold">284</text>
<line x1="160.3" y1="244.9" x2="160.3" y2="242.9" stroke="#000" stroke-width="0.6" />
<text x="160.3" y="249.88" font-size="3.4" font-family="'Liberation Serif', 'Times New Roman', serif" text-anchor="middle" fill="#000" font-weight="bold">282</text>
<line x1="174.3" y1="244.9" x2="174.3" y2="242.9" stroke="#000" stroke-width="0.6" />
<text x="174.3" y="249.88" font-size="3.4" font-family="'Liberation Serif', 'Times New Roman', serif" text-anchor="middle" fill="#000" font-weight="bold">280</text>
<text x="135.7" y="254.02" font-size="4.4" font-family="'Liberation Serif', 'Times New Roman', serif" text-anchor="middle" fill="#000" font-weight="bold" textLength="34" lengthAdjust="spacingAndGlyphs">Binding Energy(eV)</text>
<text x="92.7" y="216.39" font-size="4" font-family="'Liberation Serif', 'Times New Roman', serif" text-anchor="middle" fill="#000" font-weight="bold" transform="rotate(-90 92.7 215)">Intensity(a.u.)</text>
<text x="174.6" y="136.12" font-size="11.3" font-family="'Liberation Serif', 'Times New Roman', serif" text-anchor="start" fill="#000" font-weight="bold">(d)</text>
<rect x="257.3" y="126.3" width="2.2" height="79.4" fill="#c9c9c9" opacity="1"/>
<rect x="260" y="126.3" width="2.1" height="79.4" fill="#c9c9c9" opacity="1"/>
<rect x="265.9" y="126.3" width="2.1" height="79.4" fill="#c9c9c9" opacity="1"/>
<rect x="280.3" y="126.3" width="1.7" height="79.4" fill="#c9c9c9" opacity="1"/>
<rect x="301" y="126.3" width="1.7" height="79.4" fill="#c9c9c9" opacity="1"/>
<rect x="282.3" y="126.3" width="2.3" height="79.4" fill="#f4ee50" opacity="1"/>
<rect x="288.4" y="126.3" width="2.2" height="79.4" fill="#f4ee50" opacity="1"/>
<rect x="297.6" y="126.3" width="2.2" height="79.4" fill="#f4ee50" opacity="1"/>
<text x="258.6" y="146.32" font-size="3.8" font-family="'Liberation Sans', Arial, sans-serif" text-anchor="middle" fill="#000" transform="rotate(90 258.6 145)">Ti 2s</text>
<text x="261.1" y="134.32" font-size="3.8" font-family="'Liberation Sans', Arial, sans-serif" text-anchor="middle" fill="#000" transform="rotate(90 261.1 133)">O 1s</text>
<text x="267" y="134.32" font-size="3.8" font-family="'Liberation Sans', Arial, sans-serif" text-anchor="middle" fill="#000" transform="rotate(90 267 133)">Ti 2p</text>
<text x="281.2" y="134.32" font-size="3.8" font-family="'Liberation Sans', Arial, sans-serif" text-anchor="middle" fill="#000" transform="rotate(90 281.2 133)">C 1s</text>
<text x="283.5" y="152.32" font-size="3.8" font-family="'Liberation Sans', Arial, sans-serif" text-anchor="middle" fill="#000" transform="rotate(90 283.5 151)">Te 3d</text>
<text x="289.5" y="134.32" font-size="3.8" font-family="'Liberation Sans', Arial, sans-serif" text-anchor="middle" fill="#000" transform="rotate(90 289.5 133)">Te 4s</text>
<text x="298.7" y="134.32" font-size="3.8" font-family="'Liberation Sans', Arial, sans-serif" text-anchor="middle" fill="#000" transform="rotate(90 298.7 133)">Te 4d</text>
<text x="301.9" y="160.32" font-size="3.8" font-family="'Liberation Sans', Arial, sans-serif" text-anchor="middle" fill="#000" transform="rotate(90 301.9 159)">Ti 3p</text>
<polyline points="206.8,172.2 207.1,171.5 207.2,171.6 207.4,171.4 207.6,170.5 207.8,171.3 208.1,170.3 208.2,170.9 208.3,170.8 208.5,170.3 208.6,170.6 208.8,169.9 208.9,170.2 209.2,170.2 209.6,169.8 209.7,169.4 209.9,169.9 210,169.3 210.2,169.5 210.4,169.1 210.6,169.2 210.7,169 210.9,169.1 211.1,168.5 211.3,168.6 211.7,167.9 211.8,168.2 212.1,167.4 212.3,167.4 212.4,167.2 212.7,166.2 212.8,166.1 213,166.3 213.1,165.5 213.2,165.3 213.4,165.6 213.7,162.9 214.1,174.2 214.2,174.5 214.5,174.1 214.6,174.9 214.8,174.4 214.9,174.6 215.1,174.5 215.2,174.1 215.3,174.3 215.5,174.2 215.6,174.5 215.9,174.1 216,174.5 216.5,173.8 216.6,173.8 216.7,173 217.2,180.3 217.4,181.1 217.9,181.1 218.1,180.7 218.3,181.5 218.6,180.8 218.7,181.7 218.8,181 219,181.4 219.3,181.3 219.4,181.5 219.5,181 219.7,181.3 220,181.4 220.4,181.3 220.5,181.7 220.7,181.3 220.8,181.6 221.1,181.5 221.4,181.7 221.5,181.5 221.8,182.1 221.9,181.4 222.1,181.6 222.2,181.5 222.3,182.2 222.5,181.4 222.8,182 222.9,181.6 223,181.8 223.3,181.5 223.6,182 223.7,181.8 224.2,182.3 224.4,181.2 224.7,176 225.1,182.4 225.3,182 225.4,182.6 225.8,181.9 226,182.1 226.1,181.8 226.3,182.2 226.4,181.9 226.5,181.9 226.8,181.3 227,181.7 227.1,181.3 227.2,181.5 227.4,181.5 227.5,181.2 227.7,181.6 227.8,180.9 227.9,181.6 228.1,181.1 228.2,181.4 228.4,181.4 228.5,180.8 228.6,180.8 228.8,181.2 229.1,180.9 229.2,180.3 229.3,180.3 229.6,181 229.8,180.4 229.9,180.3 230,180.5 230.3,180.5 230.6,179.8 230.7,180.6 230.9,180.1 231,180.5 231.2,179.6 231.3,180.1 231.6,179.7 231.7,180.1 231.9,180.2 232,179.7 232.2,179.9 232.3,179.4 232.6,179.5 232.7,179.5 232.9,179.7 233,179.2 233.1,179.6 233.3,179.6 233.7,178.6 233.8,179.1 234,178.9 234.1,179.1 234.3,178.8 234.4,179 235,178.8 235.1,179 235.2,178.5 235.4,178.8 235.8,178.2 235.9,178.8 236.2,178.2 236.4,178.3 236.5,178.2 236.8,177.8 236.9,178.1 237.2,177.9 237.3,178.2 237.5,177.6 237.9,177.9 238.2,177.8 238.3,177 238.5,177.7 238.7,177.6 238.9,177.2 239.3,177.6 239.6,176.8 239.7,177.1 239.9,177.2 240,177.1 240.1,177.4 240.4,176.5 240.6,176.5 240.7,176.7 240.8,176.3 241.1,176.1 241.3,176.5 241.5,176 241.7,176.2 241.8,176.1 242,175.6 242.1,176 242.4,175.1 242.7,175.5 242.8,175.4 243.1,174.9 243.2,175.1 243.4,174.5 243.5,175 243.9,174.5 244.1,174.8 244.2,173.9 244.5,174.5 244.6,174.1 244.8,174.5 245,173.8 245.2,174.2 245.3,173.8 245.5,173.9 245.6,173.5 245.7,173.4 245.9,173.7 246.3,173 246.6,173.5 246.7,172.8 246.9,173.1 247,172.1 247.4,173 247.6,172.5 247.7,172.5 247.8,172.4 248,172.5 248.1,171.9 248.3,172.2 248.4,171.9 248.7,171.8 249,171.4 249.1,171.5 249.2,171.2 249.4,171.8 249.7,171.1 249.8,171.5 250.2,170.6 250.6,170.4 250.9,169.5 251.1,170 251.5,168.5 251.6,168.7 251.8,168.6 252.2,167.7 252.3,167.8 252.5,167.1 252.9,166.5 253,166.9 253.2,165.8 253.3,166.1 253.6,165.3 253.7,165.4 253.9,164.8 254.1,165.3 254.3,164.5 254.4,164.4 254.6,163.9 254.7,164 254.8,163.3 255,163.5 255.1,163.2 255.3,163.6 255.4,162.8 255.8,161.9 256,162.2 256.1,162.1 256.2,161.5 256.4,161.5 256.5,161 256.8,161 256.9,160.4 257.2,160.8 257.4,160 257.5,160.3 257.8,159.9 257.9,160 258.2,160 258.3,159.1 258.5,160 258.6,159.4 258.8,159.7 259,159 259.2,159.1 259.3,159.7 259.7,156.6 260.2,151.5 260.6,163.6 260.9,165.3 261,165 261.4,166.7 261.8,167.1 262,168.1 262.1,168 262.3,168.2 262.4,167.7 262.5,168.4 262.7,167.5 262.8,167.7 263,167.6 263.1,167.7 263.4,167.1 263.5,167 263.7,167.4 264.1,167 264.5,168.2 264.6,167.9 264.9,169.3 265.5,167.6 265.6,167.4 265.8,167.5 265.9,166.9 266,167.3 266.3,165.7 266.7,140.9 266.9,142.1 267.3,168.9 267.9,191 268,190.9 268.1,191.1 268.3,190.7 268.4,191 268.6,190.7 268.7,191 268.8,190.7 269.1,190.6 269.3,191.1 269.4,190.4 269.5,190.4 269.7,190.9 269.8,190.5 270.1,190.6 270.2,191.2 270.4,190.5 270.9,190.7 271.1,190.2 271.4,191 271.5,190.1 271.6,190.7 271.8,190.7 272.1,190.4 272.2,189.8 272.3,190.7 272.5,190.3 272.6,190.2 272.8,190.5 272.9,189.6 273,190.1 273.2,190.3 273.5,190.2 273.6,190.5 273.7,190 273.9,190.1 274,190 274.2,189.4 274.3,189.5 274.4,190.2 274.6,189.6 274.7,189.6 274.9,189.2 275,189.4 275.1,189.1 275.4,189.5 275.6,189.2 275.7,189.2 275.8,189.6 276,189.4 276.3,189.4 276.7,188.6 276.8,189.2 277.2,188.7 277.4,189.1 277.5,189 277.8,188.4 278.1,188.7 278.2,188.5 278.5,188.9 278.6,188.4 278.8,188.5 278.9,188.4 279.1,188.8 279.2,188.7 279.3,189.1 279.6,188.2 279.8,188.5 280,187.8 280.9,178.9 281.3,185.9 281.6,187.1 281.7,186.5 282,186.3 282.2,186.6 282.3,186 282.9,185.1 283,185.5 283.3,184.9 283.7,187.2 284.1,186.8 284.3,187.1 284.5,186.9 284.7,187.1 284.8,186.6 285,186.7 285.1,186.6 285.4,187.3 285.5,186.8 285.7,187.1 285.9,186.7 286.1,187 286.2,186.9 286.4,187.1 286.5,187 286.8,186.1 286.9,186.7 287.1,186.4 287.3,186.3 287.8,186.6 287.9,187.1 288,186.3 288.2,186.6 288.3,186.3 288.7,186.6 288.9,186.2 289,186.4 289.4,176.1 289.9,186.8 290,188.9 290.6,193.2 290.7,192.7 290.8,192.7 291,193.3 291.1,192.9 291.3,192.9 291.4,192.7 291.7,193.2 291.8,193 292,193.3 292.1,193.2 292.2,193.4 292.5,193.1 292.8,193.7 293.1,193 293.2,193.3 293.4,193.3 293.5,194 293.8,193.1 294.1,193.8 294.2,193.2 294.5,193.5 294.8,193.4 294.9,193.6 295,193.3 295.2,193.5 295.7,193.8 296,193.7 296.4,194.1 296.6,193.6 296.9,194.2 297,193.9 298.3,179.4 298.8,195.9 299.1,195.7 299.2,196.2 299.7,196.4 299.8,196.8 299.9,196.3 300.1,196.4 300.2,197.1 300.6,196.3 301.1,197.2 302,201.5 302.2,201.5 302.3,201.7 302.5,201.6 302.6,202.7 302.9,201.7 303.4,202.6 303.9,202.5 304,203.2 304.1,203.1 304.3,202.2 304.4,203.1 304.6,203 304.7,203.2" fill="none" stroke="#111" stroke-width="0.9" stroke-linejoin="round" />
<rect x="206.5" y="126.3" width="98.5" height="79.4" stroke="#333" stroke-width="0.8" fill="none"/>
<line x1="206.4" y1="205.7" x2="206.4" y2="203.7" stroke="#000" stroke-width="0.6" />
<text x="206.4" y="210.88" font-size="3.7" font-family="'Liberation Sans', Arial, sans-serif" text-anchor="middle" fill="#000">1200</text>
<line x1="222.8" y1="205.7" x2="222.8" y2="203.7" stroke="#000" stroke-width="0.6" />
<text x="222.8" y="210.88" font-size="3.7" font-family="'Liberation Sans', Arial, sans-serif" text-anchor="middle" fill="#000">1000</text>
<line x1="239.2" y1="205.7" x2="239.2" y2="203.7" stroke="#000" stroke-width="0.6" />
<text x="239.2" y="210.88" font-size="3.7" font-family="'Liberation Sans', Arial, sans-serif" text-anchor="middle" fill="#000">800</text>
<line x1="255.6" y1="205.7" x2="255.6" y2="203.7" stroke="#000" stroke-width="0.6" />
<text x="255.6" y="210.88" font-size="3.7" font-family="'Liberation Sans', Arial, sans-serif" text-anchor="middle" fill="#000">600</text>
<line x1="272" y1="205.7" x2="272" y2="203.7" stroke="#000" stroke-width="0.6" />
<text x="272" y="210.88" font-size="3.7" font-family="'Liberation Sans', Arial, sans-serif" text-anchor="middle" fill="#000">400</text>
<line x1="288.4" y1="205.7" x2="288.4" y2="203.7" stroke="#000" stroke-width="0.6" />
<text x="288.4" y="210.88" font-size="3.7" font-family="'Liberation Sans', Arial, sans-serif" text-anchor="middle" fill="#000">200</text>
<line x1="304.8" y1="205.7" x2="304.8" y2="203.7" stroke="#000" stroke-width="0.6" />
<text x="304.8" y="210.88" font-size="3.7" font-family="'Liberation Sans', Arial, sans-serif" text-anchor="middle" fill="#000">0</text>
<line x1="206.5" y1="193.88" x2="208.5" y2="193.88" stroke="#000" stroke-width="0.6" />
<text x="203.3" y="195.23" font-size="3.9" font-family="'Liberation Sans', Arial, sans-serif" text-anchor="end" fill="#000">10k</text>
<line x1="206.5" y1="181.46" x2="208.5" y2="181.46" stroke="#000" stroke-width="0.6" />
<text x="203.3" y="182.81" font-size="3.9" font-family="'Liberation Sans', Arial, sans-serif" text-anchor="end" fill="#000">20k</text>
<line x1="206.5" y1="169.04" x2="208.5" y2="169.04" stroke="#000" stroke-width="0.6" />
<text x="203.3" y="170.39" font-size="3.9" font-family="'Liberation Sans', Arial, sans-serif" text-anchor="end" fill="#000">30k</text>
<line x1="206.5" y1="156.62" x2="208.5" y2="156.62" stroke="#000" stroke-width="0.6" />
<text x="203.3" y="157.97" font-size="3.9" font-family="'Liberation Sans', Arial, sans-serif" text-anchor="end" fill="#000">40k</text>
<line x1="206.5" y1="144.2" x2="208.5" y2="144.2" stroke="#000" stroke-width="0.6" />
<text x="203.3" y="145.55" font-size="3.9" font-family="'Liberation Sans', Arial, sans-serif" text-anchor="end" fill="#000">50k</text>
<line x1="206.5" y1="131.78" x2="208.5" y2="131.78" stroke="#000" stroke-width="0.6" />
<text x="203.3" y="133.13" font-size="3.9" font-family="'Liberation Sans', Arial, sans-serif" text-anchor="end" fill="#000">60k</text>
<text x="252.9" y="217.53" font-size="5.85" font-family="'Liberation Sans', Arial, sans-serif" text-anchor="middle" fill="#000">Binding Energy (eV)</text>
<text x="189.4" y="168.01" font-size="5.8" font-family="'Liberation Sans', Arial, sans-serif" text-anchor="middle" fill="#000" transform="rotate(-90 189.4 166)">Intensity (cps)</text>
<rect x="363.2" y="125.5" width="2.5" height="80.3" fill="#c9c9c9" opacity="1"/>
<rect x="380.4" y="125.5" width="1.8" height="80.3" fill="#c9c9c9" opacity="1"/>
<rect x="386" y="125.5" width="2.2" height="80.3" fill="#c9c9c9" opacity="1"/>
<rect x="400" y="125.5" width="2.2" height="80.3" fill="#c9c9c9" opacity="1"/>
<rect x="419.1" y="125.5" width="3.6" height="80.3" fill="#c9c9c9" opacity="1"/>
<rect x="376.5" y="125.5" width="1.7" height="80.3" fill="#f4ee30" opacity="1"/>
<text x="364.5" y="140.32" font-size="3.8" font-family="'Liberation Sans', Arial, sans-serif" text-anchor="middle" fill="#000" transform="rotate(90 364.5 139)">Co 2p</text>
<text x="377.3" y="134.32" font-size="3.8" font-family="'Liberation Sans', Arial, sans-serif" text-anchor="middle" fill="#000" transform="rotate(90 377.3 133)">Te 3d</text>
<text x="381.3" y="159.32" font-size="3.8" font-family="'Liberation Sans', Arial, sans-serif" text-anchor="middle" fill="#000" transform="rotate(90 381.3 158)">O 1s</text>
<text x="387.1" y="134.32" font-size="3.8" font-family="'Liberation Sans', Arial, sans-serif" text-anchor="middle" fill="#000" transform="rotate(90 387.1 133)">Ti 2p</text>
<text x="401.1" y="139.32" font-size="3.8" font-family="'Liberation Sans', Arial, sans-serif" text-anchor="middle" fill="#000" transform="rotate(90 401.1 138)">C 1s</text>
<text x="420.5" y="133.32" font-size="3.8" font-family="'Liberation Sans', Arial, sans-serif" text-anchor="middle" fill="#000" transform="rotate(90 420.5 132)">Ti 2s</text>
<text x="421.5" y="156.32" font-size="3.8" font-family="'Liberation Sans', Arial, sans-serif" text-anchor="middle" fill="#000" transform="rotate(90 421.5 155)">Ti 3p</text>
<polyline points="326.7,163.4 326.8,162.5 327,162.4 327.1,163.2 327.3,162.3 327.4,162.2 327.5,162.5 327.7,161.9 328,161.9 328.1,162 328.2,161.2 328.7,161.4 328.8,160.9 328.9,161.1 329.2,160.6 329.4,160.9 329.5,160.4 329.6,161.1 329.8,160.3 329.9,160.3 330.1,160.1 330.2,159.5 330.3,159.4 330.5,159.8 330.6,159.3 330.9,159.3 331.1,159.1 331.2,159.5 331.5,159.1 331.6,159.1 331.8,158.6 331.9,159 332,158.4 332.2,158.9 332.3,158.3 332.5,158.2 332.6,158.6 332.9,157.8 333,158.1 333.3,157.8 333.7,157.8 334.1,157.2 334.8,165.3 335.1,167.1 335.4,166.6 335.5,167.1 335.7,166.2 335.8,166.1 336.1,165.2 336.2,165.7 336.5,165.6 336.8,164.7 337.2,166.3 337.4,166.2 338.2,169.3 338.5,168.3 338.6,168.6 338.8,168.5 338.9,168.7 339.1,168.3 339.2,168.4 339.5,168 339.6,168.3 339.9,168 340,168.1 340.2,167.5 340.6,167.4 340.7,166.4 340.9,166.5 341,166.5 341.2,166 341.4,165.9 341.6,165.6 341.7,165 342.4,170.7 342.7,170.8 342.8,171.7 343,171.5 343.5,173.6 343.7,173.6 344.1,174.7 344.7,176.8 344.8,176 345.1,176.3 345.2,176.2 345.5,175.7 345.6,176.7 346.1,175.4 346.2,176.3 346.6,175.7 346.8,175.9 346.9,175.8 347,175.3 347.2,176.5 347.3,176 347.6,175.6 347.8,175.6 347.9,176.4 348.2,175.4 348.3,175.9 348.7,175.6 349,175.7 349.3,175.2 349.6,175.6 349.7,175.1 349.9,175.5 350,175.4 350.4,172.1 350.8,175.7 351,175.2 351.1,175 351.3,175.2 351.4,174.8 351.7,175.5 352,175.6 352.1,175.2 352.2,175.2 352.4,175 352.5,175 352.8,175.3 352.9,175.1 353.4,172.7 353.5,173 353.8,175.1 354.1,174.8 354.2,175.8 354.3,174.8 354.6,175.3 354.8,174.8 354.9,175.1 355,174.8 355.2,174.9 355.3,174.8 355.5,175.4 355.6,174.6 355.8,175.1 356,174.5 356.2,175.4 356.3,174.9 356.6,175 356.7,174.8 357,174.8 357.3,172.1 357.4,173.4 357.9,175.2 358.1,175.3 358.4,174.5 358.6,175.2 358.7,175.1 358.8,175.3 359,174.6 359.3,175 359.4,174.2 359.5,174.9 359.7,175 359.8,174.7 360.1,174.6 360.4,173.9 360.7,174.1 360.8,173.9 360.9,174.3 361.4,173.4 361.5,173.8 361.6,173.5 361.8,174 361.9,173.1 362.1,173.5 362.3,173.2 362.5,173.7 362.8,172.9 362.9,173.4 364,168.2 364.3,167.6 364.7,165.8 365.3,172 365.6,172 365.9,171.5 366,171.6 366.1,171.6 366.3,171.2 366.4,171.4 366.7,170.9 367.1,171.4 367.3,171.1 367.5,171.4 368,170.7 368.1,171 368.5,170.3 368.8,170.3 369.1,170.7 369.2,169.9 369.4,170.2 369.5,170.1 369.6,170.7 369.8,170 369.9,169.9 370.1,170.1 370.2,169.6 370.3,169.9 370.5,169.3 370.6,170.2 370.8,169.6 371,169.1 371.2,169.3 371.3,169.3 371.5,169 371.6,169.4 371.8,168.9 372,168.9 372.2,169.1 372.3,168.6 372.7,168.6 372.9,168 373,168.6 373.3,168 373.4,168.1 373.6,167.5 374,168.1 374.1,167.7 374.3,167.7 374.4,167.5 374.6,167.7 374.7,167.3 374.8,167.5 375.3,166.9 375.4,166.9 375.7,167.7 375.8,166.7 376,166.5 376.1,163.9 376.9,142.1 377.5,159.9 378.5,176.2 379.2,178.5 379.3,179.8 379.5,180.1 379.6,179.5 379.9,181.5 380,181.8 380.7,166.9 380.9,167.1 381.6,182.3 381.9,182.4 382.3,182.7 382.6,183.2 382.8,183.3 383,183.5 383.1,183.4 383.3,183.6 383.4,183.4 383.5,183.8 383.7,183.2 383.8,183.2 384,182.9 384.1,183 384.4,182.6 384.7,183.1 384.8,182.4 385.2,182.5 385.4,182.7 385.5,182.1 385.6,182.2 385.9,181.8 386.1,180.7 387,163.6 387.7,185.6 388.3,193.9 388.6,196.5 388.9,196 389,196.7 389.2,196.3 389.3,196.6 389.4,196.3 389.7,196.6 390,196.4 390.1,196.6 390.4,196.4 390.6,196.5 390.8,196.5 391.1,197 391.3,196.4 391.4,196.5 391.7,196.3 391.8,196.9 392,196.4 392.1,196.7 392.2,196.3 392.5,196.8 393.1,196.7 393.4,197.1 393.8,196.5 394.1,196.7 394.2,197.1 394.3,196.4 394.5,196.6 394.6,196.5 394.8,197 395,196.3 395.2,196.3 395.3,196.9 395.5,196.4 395.6,197 395.7,197 395.9,196.5 396.2,196.7 396.3,196.3 396.9,196.8 397,196.2 397.2,196.7 397.6,196.5 397.9,197 398,196.5 398.1,196.6 398.3,196.2 398.6,196.8 398.7,196.6 398.8,196.7 399,196.5 399.4,196.7 399.5,196.1 399.7,196.5 399.8,195.8 400,196.5 400.2,196.4 400.4,196.9 400.7,195.5 400.9,189.8 401.1,189.6 401.5,197.6 401.6,196.9 401.9,197.4 402.2,196.9 402.3,197.5 402.5,197.2 402.6,197.4 402.8,197.2 402.9,197.3 403,196.9 403.2,197.5 403.3,196.9 403.6,197.4 403.7,197 404.3,197.3 404.5,196.8 404.7,197.7 404.9,196.7 405.2,197.4 405.3,196.8 405.4,197 405.6,197 405.7,197.6 405.9,197 406,197.4 406.1,197.1 406.3,197.3 406.6,196.9 406.7,197.2 406.8,197 407.4,197.7 407.5,197.7 407.7,197.1 407.8,197.2 408,197.8 408.1,197.4 408.2,197.3 408.4,197.7 408.5,197.3 408.7,197.7 408.8,197.4 408.9,197.8 409.1,197.4 409.5,197.9 409.6,197.3 409.8,197.4 410.1,197.1 410.5,197.9 410.6,197.4 410.8,198 410.9,197.6 411,197.8 411.3,197.3 411.5,198 411.6,197.6 411.7,197.9 411.9,197.6 412,197.8 412.3,197.6 412.6,197.9 412.7,197.4 412.9,197.5 413,198 413.2,197.6 413.3,197.8 413.4,197.4 413.7,198.1 413.9,197.8 414,197.9 414.1,197.7 414.3,197.9 414.4,197.4 414.6,197.4 414.7,198 414.8,197.4 415,198.2 415.4,197.4 415.5,197.3 415.7,198 415.8,197.9 416,198.3 416.1,198.1 416.2,198.4 416.5,197.8 416.7,198 416.8,197.8 417.2,198 417.4,198.4 417.6,197.8 418.2,198.1 418.3,198 418.5,198.4 418.6,198.4 418.8,198 418.9,198.4 419,198.3 419.9,192.4 420.2,192.8 420.6,195 420.9,195.3 421,194.2 421.2,194.3 421.3,192.9 421.7,191 422.4,197.4 422.6,197.7 422.7,199 423,200.1 423.1,199.5 423.8,202.8 424.2,203.3 424.5,204.7 424.7,204.4 424.8,204.6" fill="none" stroke="#ee1111" stroke-width="1.0" stroke-linejoin="round" />
<rect x="326.4" y="125.5" width="98.7" height="80.3" stroke="#333" stroke-width="0.8" fill="none"/>
<line x1="326.4" y1="205.8" x2="326.4" y2="203.8" stroke="#000" stroke-width="0.6" />
<text x="326.4" y="211.08" font-size="3.7" font-family="'Liberation Sans', Arial, sans-serif" text-anchor="middle" fill="#000">1200</text>
<line x1="342.86" y1="205.8" x2="342.86" y2="203.8" stroke="#000" stroke-width="0.6" />
<text x="342.86" y="211.08" font-size="3.7" font-family="'Liberation Sans', Arial, sans-serif" text-anchor="middle" fill="#000">1000</text>
<line x1="359.32" y1="205.8" x2="359.32" y2="203.8" stroke="#000" stroke-width="0.6" />
<text x="359.32" y="211.08" font-size="3.7" font-family="'Liberation Sans', Arial, sans-serif" text-anchor="middle" fill="#000">800</text>
<line x1="375.78" y1="205.8" x2="375.78" y2="203.8" stroke="#000" stroke-width="0.6" />
<text x="375.78" y="211.08" font-size="3.7" font-family="'Liberation Sans', Arial, sans-serif" text-anchor="middle" fill="#000">600</text>
<line x1="392.24" y1="205.8" x2="392.24" y2="203.8" stroke="#000" stroke-width="0.6" />
<text x="392.24" y="211.08" font-size="3.7" font-family="'Liberation Sans', Arial, sans-serif" text-anchor="middle" fill="#000">400</text>
<line x1="408.7" y1="205.8" x2="408.7" y2="203.8" stroke="#000" stroke-width="0.6" />
<text x="408.7" y="211.08" font-size="3.7" font-family="'Liberation Sans', Arial, sans-serif" text-anchor="middle" fill="#000">200</text>
<line x1="425.16" y1="205.8" x2="425.16" y2="203.8" stroke="#000" stroke-width="0.6" />
<text x="425.16" y="211.08" font-size="3.7" font-family="'Liberation Sans', Arial, sans-serif" text-anchor="middle" fill="#000">0</text>
<line x1="326.4" y1="198.1" x2="328.4" y2="198.1" stroke="#000" stroke-width="0.6" />
<text x="324.5" y="199.38" font-size="3.7" font-family="'Liberation Sans', Arial, sans-serif" text-anchor="end" fill="#000">10k</text>
<line x1="326.4" y1="190.8" x2="328.4" y2="190.8" stroke="#000" stroke-width="0.6" />
<text x="324.5" y="192.08" font-size="3.7" font-family="'Liberation Sans', Arial, sans-serif" text-anchor="end" fill="#000">20k</text>
<line x1="326.4" y1="183.5" x2="328.4" y2="183.5" stroke="#000" stroke-width="0.6" />
<text x="324.5" y="184.78" font-size="3.7" font-family="'Liberation Sans', Arial, sans-serif" text-anchor="end" fill="#000">30k</text>
<line x1="326.4" y1="176.2" x2="328.4" y2="176.2" stroke="#000" stroke-width="0.6" />
<text x="324.5" y="177.48" font-size="3.7" font-family="'Liberation Sans', Arial, sans-serif" text-anchor="end" fill="#000">40k</text>
<line x1="326.4" y1="168.9" x2="328.4" y2="168.9" stroke="#000" stroke-width="0.6" />
<text x="324.5" y="170.18" font-size="3.7" font-family="'Liberation Sans', Arial, sans-serif" text-anchor="end" fill="#000">50k</text>
<line x1="326.4" y1="161.6" x2="328.4" y2="161.6" stroke="#000" stroke-width="0.6" />
<text x="324.5" y="162.88" font-size="3.7" font-family="'Liberation Sans', Arial, sans-serif" text-anchor="end" fill="#000">60k</text>
<line x1="326.4" y1="154.3" x2="328.4" y2="154.3" stroke="#000" stroke-width="0.6" />
<text x="324.5" y="155.58" font-size="3.7" font-family="'Liberation Sans', Arial, sans-serif" text-anchor="end" fill="#000">70k</text>
<line x1="326.4" y1="147" x2="328.4" y2="147" stroke="#000" stroke-width="0.6" />
<text x="324.5" y="148.28" font-size="3.7" font-family="'Liberation Sans', Arial, sans-serif" text-anchor="end" fill="#000">80k</text>
<line x1="326.4" y1="139.7" x2="328.4" y2="139.7" stroke="#000" stroke-width="0.6" />
<text x="324.5" y="140.98" font-size="3.7" font-family="'Liberation Sans', Arial, sans-serif" text-anchor="end" fill="#000">90k</text>
<line x1="326.4" y1="132.4" x2="328.4" y2="132.4" stroke="#000" stroke-width="0.6" />
<text x="324.5" y="133.68" font-size="3.7" font-family="'Liberation Sans', Arial, sans-serif" text-anchor="end" fill="#000">100k</text>
<text x="372.9" y="217.53" font-size="5.85" font-family="'Liberation Sans', Arial, sans-serif" text-anchor="middle" fill="#000">Binding Energy (eV)</text>
<text x="313" y="164.11" font-size="5.8" font-family="'Liberation Sans', Arial, sans-serif" text-anchor="middle" fill="#000" transform="rotate(-90 313 162.1)" textLength="36.4" lengthAdjust="spacingAndGlyphs">Intensity (cps)</text>
<text x="1.5" y="265.22" font-size="11.3" font-family="'Liberation Serif', 'Times New Roman', serif" text-anchor="start" fill="#000" font-weight="bold">(e)</text>
<polyline points="48.2,298.6 49.3,298.2 50,297.5 51,296 52.8,292.7 53.6,291.8 54.1,291.7 54.6,292 55.4,293 57.2,296.8 58.2,298.6 58.9,299.5 59.9,300.2" fill="none" stroke="#555" stroke-width="0.6" stroke-linejoin="round" />
<polyline points="47.7,298.6 48.8,298.4 49.5,298.1 50.5,297.4 53.1,295.2 53.8,294.8 54.6,294.8 55.1,295 55.9,295.5 59.2,299.2 60.2,299.9 61.2,300.5" fill="none" stroke="#3a3acc" stroke-width="0.6" stroke-linejoin="round" />
<polyline points="43.4,298.2 45.4,297.6 48.5,296.3 49.3,296.2 50,296.2 51.3,296.6 54.6,298.9 56.6,299.8" fill="none" stroke="#cc44cc" stroke-width="0.6" stroke-linejoin="round" />
<polyline points="39.1,297.9 40.6,297.6 43.4,296.7 44.9,296.5 46.5,296.9 49.5,298.5 51,299" fill="none" stroke="#33bbbb" stroke-width="0.6" stroke-linejoin="round" />
<polyline points="69.9,302.1 70.4,301.7 70.9,300.6 71.7,296.6 72.2,292 73.7,273.2 74.2,270.1 74.5,269.9 74.7,270.6 75,272.3 75.2,275 76.5,293.2 77.3,301.6 77.5,303.5 78,306 78.5,307.4 79,308.2" fill="none" stroke="#555" stroke-width="0.6" stroke-linejoin="round" />
<polyline points="65.8,301.4 66.3,301.2 66.8,300.8 67.3,300 67.8,298.9 68.6,296.3 70.1,289.1 70.6,287.2 71.1,286.1 71.4,285.9 71.7,286 72.2,287.1 72.7,289 74.2,296.9 75.5,302.3 76.2,304.7 77.3,306.9" fill="none" stroke="#3a3acc" stroke-width="0.6" stroke-linejoin="round" />
<polyline points="62.2,300.7 63.3,300.3 64.3,299.3 65,297.9 67.1,293.4 67.6,292.8 68.1,292.6 68.6,293 69.4,294.3 71.1,299.2 72.2,301.4 72.9,302.5 73.9,303.4" fill="none" stroke="#cc44cc" stroke-width="0.6" stroke-linejoin="round" />
<polyline points="56.1,299.7 57.2,299.4 57.9,298.9 60.7,296.3 61.5,295.9 62,295.9 62.5,296.1 63.3,296.7 66.3,300.6 67.1,301.3 68.1,301.9" fill="none" stroke="#33bbbb" stroke-width="0.6" stroke-linejoin="round" />
<polyline points="25.6,297.5 44.9,298.5 59.9,300.5 69.9,302.5 75,304 77.5,307.5 79,308.5 91.5,308.6" fill="none" stroke="#444" stroke-width="0.6" stroke-linejoin="round" />
<circle cx="25.6" cy="297.29" r="0.55" fill="none" stroke="#666" stroke-width="0.35"/>
<circle cx="26.87" cy="296.67" r="0.55" fill="none" stroke="#666" stroke-width="0.35"/>
<circle cx="28.14" cy="297.45" r="0.55" fill="none" stroke="#666" stroke-width="0.35"/>
<circle cx="29.42" cy="297.32" r="0.55" fill="none" stroke="#666" stroke-width="0.35"/>
<circle cx="30.69" cy="297.15" r="0.55" fill="none" stroke="#666" stroke-width="0.35"/>
<circle cx="31.96" cy="297.34" r="0.55" fill="none" stroke="#666" stroke-width="0.35"/>
<circle cx="33.23" cy="296.75" r="0.55" fill="none" stroke="#666" stroke-width="0.35"/>
<circle cx="34.51" cy="297" r="0.55" fill="none" stroke="#666" stroke-width="0.35"/>
<circle cx="35.78" cy="296.97" r="0.55" fill="none" stroke="#666" stroke-width="0.35"/>
<circle cx="37.05" cy="296.64" r="0.55" fill="none" stroke="#666" stroke-width="0.35"/>
<circle cx="38.32" cy="296.43" r="0.55" fill="none" stroke="#666" stroke-width="0.35"/>
<circle cx="39.59" cy="296" r="0.55" fill="none" stroke="#666" stroke-width="0.35"/>
<circle cx="40.87" cy="295.89" r="0.55" fill="none" stroke="#666" stroke-width="0.35"/>
<circle cx="42.14" cy="295.2" r="0.55" fill="none" stroke="#666" stroke-width="0.35"/>
<circle cx="43.41" cy="295.33" r="0.55" fill="none" stroke="#666" stroke-width="0.35"/>
<circle cx="44.68" cy="293.52" r="0.55" fill="none" stroke="#666" stroke-width="0.35"/>
<circle cx="45.96" cy="293.34" r="0.55" fill="none" stroke="#666" stroke-width="0.35"/>
<circle cx="47.23" cy="291.47" r="0.55" fill="none" stroke="#666" stroke-width="0.35"/>
<circle cx="48.5" cy="289.57" r="0.55" fill="none" stroke="#666" stroke-width="0.35"/>
<circle cx="49.77" cy="288.68" r="0.55" fill="none" stroke="#666" stroke-width="0.35"/>
<circle cx="51.04" cy="286.46" r="0.55" fill="none" stroke="#666" stroke-width="0.35"/>
<circle cx="52.32" cy="284.92" r="0.55" fill="none" stroke="#666" stroke-width="0.35"/>
<circle cx="53.59" cy="283.58" r="0.55" fill="none" stroke="#666" stroke-width="0.35"/>
<circle cx="54.86" cy="284.31" r="0.55" fill="none" stroke="#666" stroke-width="0.35"/>
<circle cx="56.13" cy="285.96" r="0.55" fill="none" stroke="#666" stroke-width="0.35"/>
<circle cx="57.41" cy="289.06" r="0.55" fill="none" stroke="#666" stroke-width="0.35"/>
<circle cx="58.68" cy="292.66" r="0.55" fill="none" stroke="#666" stroke-width="0.35"/>
<circle cx="59.95" cy="294.01" r="0.55" fill="none" stroke="#666" stroke-width="0.35"/>
<circle cx="61.22" cy="292.64" r="0.55" fill="none" stroke="#666" stroke-width="0.35"/>
<circle cx="62.49" cy="291.99" r="0.55" fill="none" stroke="#666" stroke-width="0.35"/>
<circle cx="63.77" cy="293.57" r="0.55" fill="none" stroke="#666" stroke-width="0.35"/>
<circle cx="65.04" cy="292.77" r="0.55" fill="none" stroke="#666" stroke-width="0.35"/>
<circle cx="66.31" cy="291.19" r="0.55" fill="none" stroke="#666" stroke-width="0.35"/>
<circle cx="67.58" cy="289.37" r="0.55" fill="none" stroke="#666" stroke-width="0.35"/>
<circle cx="68.85" cy="285.8" r="0.55" fill="none" stroke="#666" stroke-width="0.35"/>
<circle cx="70.13" cy="281.07" r="0.55" fill="none" stroke="#666" stroke-width="0.35"/>
<circle cx="71.4" cy="275.47" r="0.55" fill="none" stroke="#666" stroke-width="0.35"/>
<circle cx="72.67" cy="269.65" r="0.55" fill="none" stroke="#666" stroke-width="0.35"/>
<circle cx="73.94" cy="265.27" r="0.55" fill="none" stroke="#666" stroke-width="0.35"/>
<circle cx="75.22" cy="263.84" r="0.55" fill="none" stroke="#666" stroke-width="0.35"/>
<circle cx="76.49" cy="273.66" r="0.55" fill="none" stroke="#666" stroke-width="0.35"/>
<circle cx="77.76" cy="297.38" r="0.55" fill="none" stroke="#666" stroke-width="0.35"/>
<circle cx="79.03" cy="308.24" r="0.55" fill="none" stroke="#666" stroke-width="0.35"/>
<circle cx="80.3" cy="308.74" r="0.55" fill="none" stroke="#666" stroke-width="0.35"/>
<circle cx="81.58" cy="309.14" r="0.55" fill="none" stroke="#666" stroke-width="0.35"/>
<circle cx="82.85" cy="308.56" r="0.55" fill="none" stroke="#666" stroke-width="0.35"/>
<circle cx="84.12" cy="308.63" r="0.55" fill="none" stroke="#666" stroke-width="0.35"/>
<circle cx="85.39" cy="308.5" r="0.55" fill="none" stroke="#666" stroke-width="0.35"/>
<circle cx="86.67" cy="307.95" r="0.55" fill="none" stroke="#666" stroke-width="0.35"/>
<circle cx="87.94" cy="308.29" r="0.55" fill="none" stroke="#666" stroke-width="0.35"/>
<circle cx="89.21" cy="308" r="0.55" fill="none" stroke="#666" stroke-width="0.35"/>
<circle cx="90.48" cy="308.23" r="0.55" fill="none" stroke="#666" stroke-width="0.35"/>
<polyline points="25.6,297.2 35,297.2 42.1,295.4 46,293 51.6,285.5 54.1,283.1 56.4,286.3 59.2,294.2 62.5,292.1 62.7,292.1 64.5,293.5 66.6,290.9 68.6,286.6 70.4,280.4 72.7,269.4 74.7,262.5 75,262.1 76.2,268.7 77.3,289 78.3,305.4 78.5,307.6 80.1,308.5 91.5,308.6" fill="none" stroke="#e03030" stroke-width="1.2" stroke-linejoin="round" opacity="0.9" />
<rect x="25.3" y="258.3" width="66.5" height="53.1" stroke="#777" stroke-width="0.7" fill="none"/>
<circle cx="30.2" cy="265.6" r="0.7" fill="none" stroke="#666" stroke-width="0.4"/>
<text x="36" y="267.04" font-size="4.15" font-family="'Liberation Sans', Arial, sans-serif" text-anchor="start" fill="#000">experiment</text>
<line x1="25.6" y1="270.55" x2="34.8" y2="270.55" stroke="#555" stroke-width="1.0" />
<text x="36" y="271.99" font-size="4.15" font-family="'Liberation Sans', Arial, sans-serif" text-anchor="start" fill="#000">C-Ti-Br<tspan font-size="2.4">2p3/2</tspan></text>
<line x1="25.6" y1="275.5" x2="34.8" y2="275.5" stroke="#3a3acc" stroke-width="1.0" />
<text x="36" y="276.94" font-size="4.15" font-family="'Liberation Sans', Arial, sans-serif" text-anchor="start" fill="#000">Ti(II)-Br</text>
<line x1="25.6" y1="280.45" x2="34.8" y2="280.45" stroke="#cc44cc" stroke-width="1.0" />
<text x="36" y="281.89" font-size="4.15" font-family="'Liberation Sans', Arial, sans-serif" text-anchor="start" fill="#000">Ti(III)-Br</text>
<line x1="25.6" y1="285.4" x2="34.8" y2="285.4" stroke="#33bbbb" stroke-width="1.0" />
<text x="36" y="286.84" font-size="4.15" font-family="'Liberation Sans', Arial, sans-serif" text-anchor="start" fill="#000">TiO<tspan font-size="3" dy="1">2</tspan></text>
<line x1="25.6" y1="290.35" x2="34.8" y2="290.35" stroke="#e03030" stroke-width="1.0" />
<text x="36" y="291.79" font-size="4.15" font-family="'Liberation Sans', Arial, sans-serif" text-anchor="start" fill="#000">total</text>
<line x1="25.3" y1="311.4" x2="25.3" y2="309.4" stroke="#000" stroke-width="0.6" />
<text x="25.3" y="315.14" font-size="3.3" font-family="'Liberation Sans', Arial, sans-serif" text-anchor="middle" fill="#000">470</text>
<line x1="42" y1="311.4" x2="42" y2="309.4" stroke="#000" stroke-width="0.6" />
<text x="42" y="315.14" font-size="3.3" font-family="'Liberation Sans', Arial, sans-serif" text-anchor="middle" fill="#000">465</text>
<line x1="58.7" y1="311.4" x2="58.7" y2="309.4" stroke="#000" stroke-width="0.6" />
<text x="58.7" y="315.14" font-size="3.3" font-family="'Liberation Sans', Arial, sans-serif" text-anchor="middle" fill="#000">460</text>
<line x1="75.4" y1="311.4" x2="75.4" y2="309.4" stroke="#000" stroke-width="0.6" />
<text x="75.4" y="315.14" font-size="3.3" font-family="'Liberation Sans', Arial, sans-serif" text-anchor="middle" fill="#000">455</text>
<line x1="92.1" y1="311.4" x2="92.1" y2="309.4" stroke="#000" stroke-width="0.6" />
<text x="92.1" y="315.14" font-size="3.3" font-family="'Liberation Sans', Arial, sans-serif" text-anchor="middle" fill="#000">450</text>
<line x1="25.3" y1="305" x2="27.3" y2="305" stroke="#000" stroke-width="0.6" />
<text x="23.8" y="306.04" font-size="3" font-family="'Liberation Sans', Arial, sans-serif" text-anchor="end" fill="#000">2k</text>
<line x1="25.3" y1="298.2" x2="27.3" y2="298.2" stroke="#000" stroke-width="0.6" />
<text x="23.8" y="299.24" font-size="3" font-family="'Liberation Sans', Arial, sans-serif" text-anchor="end" fill="#000">3k</text>
<line x1="25.3" y1="291.3" x2="27.3" y2="291.3" stroke="#000" stroke-width="0.6" />
<text x="23.8" y="292.34" font-size="3" font-family="'Liberation Sans', Arial, sans-serif" text-anchor="end" fill="#000">4k</text>
<line x1="25.3" y1="284.5" x2="27.3" y2="284.5" stroke="#000" stroke-width="0.6" />
<text x="23.8" y="285.54" font-size="3" font-family="'Liberation Sans', Arial, sans-serif" text-anchor="end" fill="#000">5k</text>
<line x1="25.3" y1="277.6" x2="27.3" y2="277.6" stroke="#000" stroke-width="0.6" />
<text x="23.8" y="278.64" font-size="3" font-family="'Liberation Sans', Arial, sans-serif" text-anchor="end" fill="#000">6k</text>
<line x1="25.3" y1="270.8" x2="27.3" y2="270.8" stroke="#000" stroke-width="0.6" />
<text x="23.8" y="271.84" font-size="3" font-family="'Liberation Sans', Arial, sans-serif" text-anchor="end" fill="#000">7k</text>
<line x1="25.3" y1="263.9" x2="27.3" y2="263.9" stroke="#000" stroke-width="0.6" />
<text x="23.8" y="264.94" font-size="3" font-family="'Liberation Sans', Arial, sans-serif" text-anchor="end" fill="#000">8k</text>
<text x="26" y="262.91" font-size="5.8" font-family="'Liberation Sans', Arial, sans-serif" text-anchor="start" fill="#000">Ti 2p</text>
<text x="57.8" y="270.65" font-size="3.6" font-family="'Liberation Sans', Arial, sans-serif" text-anchor="start" fill="#000">455.2 eV</text>
<text x="57.8" y="274.75" font-size="3.6" font-family="'Liberation Sans', Arial, sans-serif" text-anchor="start" fill="#000">2p<tspan font-size="2.4" dy="0.8">3/2</tspan></text>
<line x1="52" y1="271" x2="56.5" y2="270" stroke="#000" stroke-width="0.5" />
<text x="57.5" y="318.99" font-size="4" font-family="'Liberation Sans', Arial, sans-serif" text-anchor="middle" fill="#000">Binding Energy (eV)</text>
<text x="15.2" y="284.59" font-size="4" font-family="'Liberation Sans', Arial, sans-serif" text-anchor="middle" fill="#000" transform="rotate(-90 15.2 283.2)">Intensity (cps)</text>
<polyline points="131.1,298.9 132.1,298.6 133.1,297.9 133.8,297 135.8,294 136.6,293.3 137.1,293.2 137.6,293.4 138.4,294.2 140.6,298.2 141.4,299.4 142.4,300.4 143.4,301" fill="none" stroke="#555" stroke-width="0.6" stroke-linejoin="round" />
<polyline points="130.1,298.7 131.3,298.5 132.3,298 133.3,297.3 136.1,294.6 136.9,294.3 137.6,294.3 138.4,294.6 139.1,295.3 141.6,298.6 142.6,299.7 143.6,300.5 144.9,301.2" fill="none" stroke="#3a3acc" stroke-width="0.6" stroke-linejoin="round" />
<polyline points="126.5,298.4 128.3,298 131.3,296.7 132.1,296.5 132.8,296.5 133.6,296.7 134.3,297 137.6,299.3 139.6,300.3" fill="none" stroke="#cc44cc" stroke-width="0.6" stroke-linejoin="round" />
<polyline points="122,298 123.5,297.8 126.5,296.9 128.1,296.8 129.8,297.3 132.6,298.8 134.1,299.4" fill="none" stroke="#33bbbb" stroke-width="0.6" stroke-linejoin="round" />
<polyline points="152.7,303.1 153.2,302.8 153.7,301.9 154.4,298.6 155.2,292.1 156.5,277.6 157,274.1 157.2,273.5 157.5,273.8 158,277 159.5,295.8 160.2,303.2 161,307.4 161.7,309.6" fill="none" stroke="#555" stroke-width="0.6" stroke-linejoin="round" />
<polyline points="149.2,302.2 149.7,302 150.2,301.6 150.7,300.8 151.2,299.5 151.9,296.5 153.7,287.6 154.2,286.2 154.4,285.9 154.7,285.9 155,286.3 155.2,287 155.7,289.3 157.2,298.5 158,302.2 158.7,304.8 160,307.3" fill="none" stroke="#3a3acc" stroke-width="0.6" stroke-linejoin="round" />
<polyline points="145.9,301.4 146.9,301 147.7,300.2 148.4,298.8 150.2,295 150.9,294.1 151.4,294.1 151.9,294.6 152.4,295.6 154.2,300.3 155.2,302.5 156,303.9 156.7,304.8" fill="none" stroke="#cc44cc" stroke-width="0.6" stroke-linejoin="round" />
<polyline points="140.9,300.6 141.9,300.4 142.6,300 145.4,298 146.4,297.9 146.9,298 147.7,298.6 150.2,301.6 150.9,302.3 151.9,302.9" fill="none" stroke="#33bbbb" stroke-width="0.6" stroke-linejoin="round" />
<polyline points="108.2,297 130.1,299 144.9,301.5 155,304 159.5,307 162,310.3 173.3,310.6" fill="none" stroke="#444" stroke-width="0.6" stroke-linejoin="round" />
<circle cx="108.2" cy="296.49" r="0.55" fill="none" stroke="#666" stroke-width="0.35"/>
<circle cx="109.46" cy="296.9" r="0.55" fill="none" stroke="#666" stroke-width="0.35"/>
<circle cx="110.71" cy="296.41" r="0.55" fill="none" stroke="#666" stroke-width="0.35"/>
<circle cx="111.97" cy="296.41" r="0.55" fill="none" stroke="#666" stroke-width="0.35"/>
<circle cx="113.23" cy="296.01" r="0.55" fill="none" stroke="#666" stroke-width="0.35"/>
<circle cx="114.48" cy="296.47" r="0.55" fill="none" stroke="#666" stroke-width="0.35"/>
<circle cx="115.74" cy="296.23" r="0.55" fill="none" stroke="#666" stroke-width="0.35"/>
<circle cx="117" cy="295.89" r="0.55" fill="none" stroke="#666" stroke-width="0.35"/>
<circle cx="118.25" cy="295.86" r="0.55" fill="none" stroke="#666" stroke-width="0.35"/>
<circle cx="119.51" cy="295.57" r="0.55" fill="none" stroke="#666" stroke-width="0.35"/>
<circle cx="120.77" cy="295.28" r="0.55" fill="none" stroke="#666" stroke-width="0.35"/>
<circle cx="122.02" cy="294.42" r="0.55" fill="none" stroke="#666" stroke-width="0.35"/>
<circle cx="123.28" cy="294.39" r="0.55" fill="none" stroke="#666" stroke-width="0.35"/>
<circle cx="124.54" cy="293.93" r="0.55" fill="none" stroke="#666" stroke-width="0.35"/>
<circle cx="125.79" cy="293.65" r="0.55" fill="none" stroke="#666" stroke-width="0.35"/>
<circle cx="127.05" cy="293.08" r="0.55" fill="none" stroke="#666" stroke-width="0.35"/>
<circle cx="128.31" cy="291.97" r="0.55" fill="none" stroke="#666" stroke-width="0.35"/>
<circle cx="129.56" cy="291.18" r="0.55" fill="none" stroke="#666" stroke-width="0.35"/>
<circle cx="130.82" cy="289.64" r="0.55" fill="none" stroke="#666" stroke-width="0.35"/>
<circle cx="132.08" cy="288.33" r="0.55" fill="none" stroke="#666" stroke-width="0.35"/>
<circle cx="133.34" cy="286.8" r="0.55" fill="none" stroke="#666" stroke-width="0.35"/>
<circle cx="134.59" cy="285.2" r="0.55" fill="none" stroke="#666" stroke-width="0.35"/>
<circle cx="135.85" cy="284.84" r="0.55" fill="none" stroke="#666" stroke-width="0.35"/>
<circle cx="137.11" cy="283.56" r="0.55" fill="none" stroke="#666" stroke-width="0.35"/>
<circle cx="138.36" cy="286.18" r="0.55" fill="none" stroke="#666" stroke-width="0.35"/>
<circle cx="139.62" cy="287.87" r="0.55" fill="none" stroke="#666" stroke-width="0.35"/>
<circle cx="140.88" cy="290.06" r="0.55" fill="none" stroke="#666" stroke-width="0.35"/>
<circle cx="142.13" cy="293.33" r="0.55" fill="none" stroke="#666" stroke-width="0.35"/>
<circle cx="143.39" cy="296.59" r="0.55" fill="none" stroke="#666" stroke-width="0.35"/>
<circle cx="144.65" cy="295.73" r="0.55" fill="none" stroke="#666" stroke-width="0.35"/>
<circle cx="145.9" cy="295.53" r="0.55" fill="none" stroke="#666" stroke-width="0.35"/>
<circle cx="147.16" cy="294.13" r="0.55" fill="none" stroke="#666" stroke-width="0.35"/>
<circle cx="148.42" cy="292.97" r="0.55" fill="none" stroke="#666" stroke-width="0.35"/>
<circle cx="149.67" cy="289.4" r="0.55" fill="none" stroke="#666" stroke-width="0.35"/>
<circle cx="150.93" cy="286.26" r="0.55" fill="none" stroke="#666" stroke-width="0.35"/>
<circle cx="152.19" cy="281.76" r="0.55" fill="none" stroke="#666" stroke-width="0.35"/>
<circle cx="153.44" cy="277.06" r="0.55" fill="none" stroke="#666" stroke-width="0.35"/>
<circle cx="154.7" cy="271.36" r="0.55" fill="none" stroke="#666" stroke-width="0.35"/>
<circle cx="155.96" cy="266.7" r="0.55" fill="none" stroke="#666" stroke-width="0.35"/>
<circle cx="157.21" cy="262.85" r="0.55" fill="none" stroke="#666" stroke-width="0.35"/>
<circle cx="158.47" cy="267.82" r="0.55" fill="none" stroke="#666" stroke-width="0.35"/>
<circle cx="159.73" cy="286.68" r="0.55" fill="none" stroke="#666" stroke-width="0.35"/>
<circle cx="160.98" cy="302.55" r="0.55" fill="none" stroke="#666" stroke-width="0.35"/>
<circle cx="162.24" cy="310.27" r="0.55" fill="none" stroke="#666" stroke-width="0.35"/>
<circle cx="163.5" cy="310.49" r="0.55" fill="none" stroke="#666" stroke-width="0.35"/>
<circle cx="164.75" cy="310.75" r="0.55" fill="none" stroke="#666" stroke-width="0.35"/>
<circle cx="166.01" cy="310.91" r="0.55" fill="none" stroke="#666" stroke-width="0.35"/>
<circle cx="167.27" cy="310.47" r="0.55" fill="none" stroke="#666" stroke-width="0.35"/>
<circle cx="168.52" cy="310.73" r="0.55" fill="none" stroke="#666" stroke-width="0.35"/>
<circle cx="169.78" cy="310.7" r="0.55" fill="none" stroke="#666" stroke-width="0.35"/>
<circle cx="171.04" cy="310.28" r="0.55" fill="none" stroke="#666" stroke-width="0.35"/>
<circle cx="172.29" cy="310.55" r="0.55" fill="none" stroke="#666" stroke-width="0.35"/>
<polyline points="108.2,296.7 118,296 125,294 130.1,290.4 134.1,285.9 137.1,284.2 137.4,284.3 140.1,288.8 143.4,296.2 145.9,295.5 148.9,292.1 151.4,285.2 153.4,277.2 155.5,268.2 157.5,261.9 158.7,269.5 160.2,295.3 161.7,309.2 162,309.9 164,310.5 173.3,310.6" fill="none" stroke="#e03030" stroke-width="1.2" stroke-linejoin="round" opacity="0.9" />
<rect x="107.9" y="258.5" width="65.7" height="52.8" stroke="#777" stroke-width="0.7" fill="none"/>
<circle cx="113.25" cy="266.5" r="0.7" fill="none" stroke="#666" stroke-width="0.4"/>
<text x="119.2" y="267.94" font-size="4.15" font-family="'Liberation Sans', Arial, sans-serif" text-anchor="start" fill="#000">experiment</text>
<line x1="108.6" y1="271.45" x2="117.9" y2="271.45" stroke="#555" stroke-width="1.0" />
<text x="119.2" y="272.89" font-size="4.15" font-family="'Liberation Sans', Arial, sans-serif" text-anchor="start" fill="#000">C-Ti-Te</text>
<line x1="108.6" y1="276.4" x2="117.9" y2="276.4" stroke="#3a3acc" stroke-width="1.0" />
<text x="119.2" y="277.84" font-size="4.15" font-family="'Liberation Sans', Arial, sans-serif" text-anchor="start" fill="#000">Ti(II)-Te</text>
<line x1="108.6" y1="281.35" x2="117.9" y2="281.35" stroke="#cc44cc" stroke-width="1.0" />
<text x="119.2" y="282.79" font-size="4.15" font-family="'Liberation Sans', Arial, sans-serif" text-anchor="start" fill="#000">Ti(III)-Te</text>
<line x1="108.6" y1="286.3" x2="117.9" y2="286.3" stroke="#33bbbb" stroke-width="1.0" />
<text x="119.2" y="287.74" font-size="4.15" font-family="'Liberation Sans', Arial, sans-serif" text-anchor="start" fill="#000">TiO<tspan font-size="3" dy="1">2</tspan></text>
<line x1="108.6" y1="291.25" x2="117.9" y2="291.25" stroke="#e03030" stroke-width="1.0" />
<text x="119.2" y="292.69" font-size="4.15" font-family="'Liberation Sans', Arial, sans-serif" text-anchor="start" fill="#000">total</text>
<line x1="107.9" y1="311.3" x2="107.9" y2="309.3" stroke="#000" stroke-width="0.6" />
<text x="107.9" y="315.14" font-size="3.3" font-family="'Liberation Sans', Arial, sans-serif" text-anchor="middle" fill="#000">470</text>
<line x1="124.25" y1="311.3" x2="124.25" y2="309.3" stroke="#000" stroke-width="0.6" />
<text x="124.25" y="315.14" font-size="3.3" font-family="'Liberation Sans', Arial, sans-serif" text-anchor="middle" fill="#000">465</text>
<line x1="140.6" y1="311.3" x2="140.6" y2="309.3" stroke="#000" stroke-width="0.6" />
<text x="140.6" y="315.14" font-size="3.3" font-family="'Liberation Sans', Arial, sans-serif" text-anchor="middle" fill="#000">460</text>
<line x1="156.95" y1="311.3" x2="156.95" y2="309.3" stroke="#000" stroke-width="0.6" />
<text x="156.95" y="315.14" font-size="3.3" font-family="'Liberation Sans', Arial, sans-serif" text-anchor="middle" fill="#000">455</text>
<line x1="173.3" y1="311.3" x2="173.3" y2="309.3" stroke="#000" stroke-width="0.6" />
<text x="173.3" y="315.14" font-size="3.3" font-family="'Liberation Sans', Arial, sans-serif" text-anchor="middle" fill="#000">450</text>
<line x1="107.9" y1="310.4" x2="109.9" y2="310.4" stroke="#000" stroke-width="0.6" />
<text x="106.4" y="311.44" font-size="3" font-family="'Liberation Sans', Arial, sans-serif" text-anchor="end" fill="#000">1k</text>
<line x1="107.9" y1="302.1" x2="109.9" y2="302.1" stroke="#000" stroke-width="0.6" />
<text x="106.4" y="303.14" font-size="3" font-family="'Liberation Sans', Arial, sans-serif" text-anchor="end" fill="#000">2k</text>
<line x1="107.9" y1="294" x2="109.9" y2="294" stroke="#000" stroke-width="0.6" />
<text x="106.4" y="295.04" font-size="3" font-family="'Liberation Sans', Arial, sans-serif" text-anchor="end" fill="#000">3k</text>
<line x1="107.9" y1="285.8" x2="109.9" y2="285.8" stroke="#000" stroke-width="0.6" />
<text x="106.4" y="286.84" font-size="3" font-family="'Liberation Sans', Arial, sans-serif" text-anchor="end" fill="#000">4k</text>
<line x1="107.9" y1="277.4" x2="109.9" y2="277.4" stroke="#000" stroke-width="0.6" />
<text x="106.4" y="278.44" font-size="3" font-family="'Liberation Sans', Arial, sans-serif" text-anchor="end" fill="#000">5k</text>
<line x1="107.9" y1="269" x2="109.9" y2="269" stroke="#000" stroke-width="0.6" />
<text x="106.4" y="270.04" font-size="3" font-family="'Liberation Sans', Arial, sans-serif" text-anchor="end" fill="#000">6k</text>
<line x1="107.9" y1="260.7" x2="109.9" y2="260.7" stroke="#000" stroke-width="0.6" />
<text x="106.4" y="261.74" font-size="3" font-family="'Liberation Sans', Arial, sans-serif" text-anchor="end" fill="#000">7k</text>
<text x="108.5" y="263.81" font-size="5.8" font-family="'Liberation Sans', Arial, sans-serif" text-anchor="start" fill="#000">Ti 2p</text>
<text x="141.5" y="270.85" font-size="3.6" font-family="'Liberation Sans', Arial, sans-serif" text-anchor="start" fill="#000">454.8 eV</text>
<text x="141.5" y="275.65" font-size="3.6" font-family="'Liberation Sans', Arial, sans-serif" text-anchor="start" fill="#000">2p<tspan font-size="2.4" dy="0.8">3/2</tspan></text>
<line x1="134" y1="271" x2="140.5" y2="271" stroke="#000" stroke-width="0.5" />
<text x="139.1" y="318.99" font-size="4" font-family="'Liberation Sans', Arial, sans-serif" text-anchor="middle" fill="#000">Binding Energy (eV)</text>
<text x="97.6" y="284.59" font-size="4" font-family="'Liberation Sans', Arial, sans-serif" text-anchor="middle" fill="#000" transform="rotate(-90 97.6 283.2)">Intensity (cps)</text>
<polyline points="74.3,374.1 74.9,373.5 75.4,372.3 76.9,364.9 77.4,363.6 77.7,363.6 78.2,365.1 79.2,370.4 79.7,372.4 80.2,373.6 80.7,374.2" fill="none" stroke="#555" stroke-width="0.6" stroke-linejoin="round" />
<polyline points="63.9,373 64.7,372.6 65.2,372.1 65.7,371.2 66.2,370 67.2,366.4 69.3,356.6 70,354.4 70.3,354.1 70.5,354 71,354.6 71.5,356.1 73.8,367.4 74.9,371.1 75.4,372.4 75.9,373.2 76.4,373.7 77.1,374.2" fill="none" stroke="#44aaaa" stroke-width="0.6" stroke-linejoin="round" />
<polyline points="56.8,372.7 58.3,372.3 59.8,371.4 61.1,370.2 64.2,366.4 65.2,365.7 65.9,365.5 66.7,365.7 67.7,366.6 70.8,370.9 72.3,372.6 73.6,373.6 75.1,374.2" fill="none" stroke="#ddaa66" stroke-width="0.6" stroke-linejoin="round" />
<polyline points="54.5,372.5 58.6,371.7 60.1,371.6 61.6,371.9 65.4,373.2" fill="none" stroke="#ee66ee" stroke-width="0.6" stroke-linejoin="round" />
<polyline points="26,372.8 55,372.8 65.9,373.5 75.1,374.5 91.9,374.6" fill="none" stroke="#888" stroke-width="0.5" stroke-linejoin="round" />
<circle cx="26" cy="372.21" r="0.55" fill="none" stroke="#555" stroke-width="0.35"/>
<circle cx="27.02" cy="372.43" r="0.55" fill="none" stroke="#555" stroke-width="0.35"/>
<circle cx="28.04" cy="372.43" r="0.55" fill="none" stroke="#555" stroke-width="0.35"/>
<circle cx="29.05" cy="371.78" r="0.55" fill="none" stroke="#555" stroke-width="0.35"/>
<circle cx="30.07" cy="372.36" r="0.55" fill="none" stroke="#555" stroke-width="0.35"/>
<circle cx="31.09" cy="373.07" r="0.55" fill="none" stroke="#555" stroke-width="0.35"/>
<circle cx="32.11" cy="373.18" r="0.55" fill="none" stroke="#555" stroke-width="0.35"/>
<circle cx="33.12" cy="373.09" r="0.55" fill="none" stroke="#555" stroke-width="0.35"/>
<circle cx="34.14" cy="372.58" r="0.55" fill="none" stroke="#555" stroke-width="0.35"/>
<circle cx="35.16" cy="373.06" r="0.55" fill="none" stroke="#555" stroke-width="0.35"/>
<circle cx="36.18" cy="372.24" r="0.55" fill="none" stroke="#555" stroke-width="0.35"/>
<circle cx="37.2" cy="372.19" r="0.55" fill="none" stroke="#555" stroke-width="0.35"/>
<circle cx="38.21" cy="373.4" r="0.55" fill="none" stroke="#555" stroke-width="0.35"/>
<circle cx="39.23" cy="372.87" r="0.55" fill="none" stroke="#555" stroke-width="0.35"/>
<circle cx="40.25" cy="372.45" r="0.55" fill="none" stroke="#555" stroke-width="0.35"/>
<circle cx="41.27" cy="372.51" r="0.55" fill="none" stroke="#555" stroke-width="0.35"/>
<circle cx="42.28" cy="372.1" r="0.55" fill="none" stroke="#555" stroke-width="0.35"/>
<circle cx="43.3" cy="372.94" r="0.55" fill="none" stroke="#555" stroke-width="0.35"/>
<circle cx="44.32" cy="372.86" r="0.55" fill="none" stroke="#555" stroke-width="0.35"/>
<circle cx="45.34" cy="371.77" r="0.55" fill="none" stroke="#555" stroke-width="0.35"/>
<circle cx="46.36" cy="372.7" r="0.55" fill="none" stroke="#555" stroke-width="0.35"/>
<circle cx="47.37" cy="371.52" r="0.55" fill="none" stroke="#555" stroke-width="0.35"/>
<circle cx="48.39" cy="372.05" r="0.55" fill="none" stroke="#555" stroke-width="0.35"/>
<circle cx="49.41" cy="371.41" r="0.55" fill="none" stroke="#555" stroke-width="0.35"/>
<circle cx="50.43" cy="372.93" r="0.55" fill="none" stroke="#555" stroke-width="0.35"/>
<circle cx="51.44" cy="371.76" r="0.55" fill="none" stroke="#555" stroke-width="0.35"/>
<circle cx="52.46" cy="371.68" r="0.55" fill="none" stroke="#555" stroke-width="0.35"/>
<circle cx="53.48" cy="371.29" r="0.55" fill="none" stroke="#555" stroke-width="0.35"/>
<circle cx="54.5" cy="371.56" r="0.55" fill="none" stroke="#555" stroke-width="0.35"/>
<circle cx="55.52" cy="371.88" r="0.55" fill="none" stroke="#555" stroke-width="0.35"/>
<circle cx="56.53" cy="369.83" r="0.55" fill="none" stroke="#555" stroke-width="0.35"/>
<circle cx="57.55" cy="369.36" r="0.55" fill="none" stroke="#555" stroke-width="0.35"/>
<circle cx="58.57" cy="369.17" r="0.55" fill="none" stroke="#555" stroke-width="0.35"/>
<circle cx="59.59" cy="369.07" r="0.55" fill="none" stroke="#555" stroke-width="0.35"/>
<circle cx="60.6" cy="367.6" r="0.55" fill="none" stroke="#555" stroke-width="0.35"/>
<circle cx="61.62" cy="366.3" r="0.55" fill="none" stroke="#555" stroke-width="0.35"/>
<circle cx="62.64" cy="366.08" r="0.55" fill="none" stroke="#555" stroke-width="0.35"/>
<circle cx="63.66" cy="364.76" r="0.55" fill="none" stroke="#555" stroke-width="0.35"/>
<circle cx="64.67" cy="363.27" r="0.55" fill="none" stroke="#555" stroke-width="0.35"/>
<circle cx="65.69" cy="360.83" r="0.55" fill="none" stroke="#555" stroke-width="0.35"/>
<circle cx="66.71" cy="358.13" r="0.55" fill="none" stroke="#555" stroke-width="0.35"/>
<circle cx="67.73" cy="356.08" r="0.55" fill="none" stroke="#555" stroke-width="0.35"/>
<circle cx="68.75" cy="353.73" r="0.55" fill="none" stroke="#555" stroke-width="0.35"/>
<circle cx="69.76" cy="352.74" r="0.55" fill="none" stroke="#555" stroke-width="0.35"/>
<circle cx="70.78" cy="353.74" r="0.55" fill="none" stroke="#555" stroke-width="0.35"/>
<circle cx="71.8" cy="357.78" r="0.55" fill="none" stroke="#555" stroke-width="0.35"/>
<circle cx="72.82" cy="364.21" r="0.55" fill="none" stroke="#555" stroke-width="0.35"/>
<circle cx="73.83" cy="371.5" r="0.55" fill="none" stroke="#555" stroke-width="0.35"/>
<circle cx="74.85" cy="364.8" r="0.55" fill="none" stroke="#555" stroke-width="0.35"/>
<circle cx="75.87" cy="347.93" r="0.55" fill="none" stroke="#555" stroke-width="0.35"/>
<circle cx="76.89" cy="333.31" r="0.55" fill="none" stroke="#555" stroke-width="0.35"/>
<circle cx="77.91" cy="332.4" r="0.55" fill="none" stroke="#555" stroke-width="0.35"/>
<circle cx="78.92" cy="349.44" r="0.55" fill="none" stroke="#555" stroke-width="0.35"/>
<circle cx="79.94" cy="368.75" r="0.55" fill="none" stroke="#555" stroke-width="0.35"/>
<circle cx="80.96" cy="372.26" r="0.55" fill="none" stroke="#555" stroke-width="0.35"/>
<circle cx="81.98" cy="373.86" r="0.55" fill="none" stroke="#555" stroke-width="0.35"/>
<circle cx="82.99" cy="373.99" r="0.55" fill="none" stroke="#555" stroke-width="0.35"/>
<circle cx="84.01" cy="373.65" r="0.55" fill="none" stroke="#555" stroke-width="0.35"/>
<circle cx="85.03" cy="374.77" r="0.55" fill="none" stroke="#555" stroke-width="0.35"/>
<circle cx="86.05" cy="373.76" r="0.55" fill="none" stroke="#555" stroke-width="0.35"/>
<circle cx="87.07" cy="374.55" r="0.55" fill="none" stroke="#555" stroke-width="0.35"/>
<circle cx="88.08" cy="374.76" r="0.55" fill="none" stroke="#555" stroke-width="0.35"/>
<circle cx="89.1" cy="373.81" r="0.55" fill="none" stroke="#555" stroke-width="0.35"/>
<circle cx="90.12" cy="374.18" r="0.55" fill="none" stroke="#555" stroke-width="0.35"/>
<circle cx="91.14" cy="373.59" r="0.55" fill="none" stroke="#555" stroke-width="0.35"/>
<polyline points="26,372.4 35.2,372.8 52,372 55,371 60.1,368.4 63.9,364.6 66.5,359.1 68.5,354 70.5,352.4 72.1,357.5 72.3,359 73.6,371.3 73.8,371.6 74.9,365 75.1,362 76.4,339.1 77.4,327.4 77.7,328.6 78.7,344.5 79.9,368.9 80.2,370.4 82,374 91.9,374.1" fill="none" stroke="#e03030" stroke-width="1.1" stroke-linejoin="round" opacity="0.9" />
<rect x="25.7" y="324.1" width="66.5" height="52.1" stroke="#777" stroke-width="0.7" fill="none"/>
<circle cx="34.4" cy="334.8" r="0.7" fill="none" stroke="#666" stroke-width="0.4"/>
<text x="40.7" y="336.53" font-size="5" font-family="'Liberation Sans', Arial, sans-serif" text-anchor="start" fill="#000">experiment</text>
<line x1="29.8" y1="340.45" x2="39" y2="340.45" stroke="#555" stroke-width="1.0" />
<text x="40.7" y="342.18" font-size="5" font-family="'Liberation Sans', Arial, sans-serif" text-anchor="start" fill="#000">Ti-<tspan font-weight="bold">C</tspan></text>
<line x1="29.8" y1="346.1" x2="39" y2="346.1" stroke="#44aaaa" stroke-width="1.0" />
<text x="40.7" y="347.83" font-size="5" font-family="'Liberation Sans', Arial, sans-serif" text-anchor="start" fill="#000">C-<tspan font-weight="bold">C</tspan></text>
<line x1="29.8" y1="351.75" x2="39" y2="351.75" stroke="#ddaa66" stroke-width="1.0" />
<text x="40.7" y="353.48" font-size="5" font-family="'Liberation Sans', Arial, sans-serif" text-anchor="start" fill="#000"><tspan font-weight="bold">C</tspan>-H</text>
<line x1="29.8" y1="357.4" x2="39" y2="357.4" stroke="#ee66ee" stroke-width="1.0" />
<text x="40.7" y="359.13" font-size="5" font-family="'Liberation Sans', Arial, sans-serif" text-anchor="start" fill="#000"><tspan font-weight="bold">C</tspan>OO</text>
<line x1="29.8" y1="363.05" x2="39" y2="363.05" stroke="#e03030" stroke-width="1.0" />
<text x="40.7" y="364.78" font-size="5" font-family="'Liberation Sans', Arial, sans-serif" text-anchor="start" fill="#000">total</text>
<line x1="25.7" y1="376.2" x2="25.7" y2="374.2" stroke="#000" stroke-width="0.6" />
<text x="25.7" y="380.74" font-size="3.3" font-family="'Liberation Sans', Arial, sans-serif" text-anchor="middle" fill="#000">300</text>
<line x1="40.35" y1="376.2" x2="40.35" y2="374.2" stroke="#000" stroke-width="0.6" />
<text x="40.35" y="380.74" font-size="3.3" font-family="'Liberation Sans', Arial, sans-serif" text-anchor="middle" fill="#000">295</text>
<line x1="55" y1="376.2" x2="55" y2="374.2" stroke="#000" stroke-width="0.6" />
<text x="55" y="380.74" font-size="3.3" font-family="'Liberation Sans', Arial, sans-serif" text-anchor="middle" fill="#000">290</text>
<line x1="69.65" y1="376.2" x2="69.65" y2="374.2" stroke="#000" stroke-width="0.6" />
<text x="69.65" y="380.74" font-size="3.3" font-family="'Liberation Sans', Arial, sans-serif" text-anchor="middle" fill="#000">285</text>
<line x1="84.3" y1="376.2" x2="84.3" y2="374.2" stroke="#000" stroke-width="0.6" />
<text x="84.3" y="380.74" font-size="3.3" font-family="'Liberation Sans', Arial, sans-serif" text-anchor="middle" fill="#000">280</text>
<line x1="25.7" y1="367.9" x2="27.7" y2="367.9" stroke="#000" stroke-width="0.6" />
<text x="24.2" y="368.94" font-size="3" font-family="'Liberation Sans', Arial, sans-serif" text-anchor="end" fill="#000">1.0k</text>
<line x1="25.7" y1="357" x2="27.7" y2="357" stroke="#000" stroke-width="0.6" />
<text x="24.2" y="358.04" font-size="3" font-family="'Liberation Sans', Arial, sans-serif" text-anchor="end" fill="#000">1.5k</text>
<line x1="25.7" y1="346.3" x2="27.7" y2="346.3" stroke="#000" stroke-width="0.6" />
<text x="24.2" y="347.34" font-size="3" font-family="'Liberation Sans', Arial, sans-serif" text-anchor="end" fill="#000">2.0k</text>
<line x1="25.7" y1="335.4" x2="27.7" y2="335.4" stroke="#000" stroke-width="0.6" />
<text x="24.2" y="336.44" font-size="3" font-family="'Liberation Sans', Arial, sans-serif" text-anchor="end" fill="#000">2.5k</text>
<line x1="25.7" y1="325.8" x2="27.7" y2="325.8" stroke="#000" stroke-width="0.6" />
<text x="24.2" y="326.84" font-size="3" font-family="'Liberation Sans', Arial, sans-serif" text-anchor="end" fill="#000">3.0k</text>
<text x="26.3" y="328.81" font-size="5.8" font-family="'Liberation Sans', Arial, sans-serif" text-anchor="start" fill="#000">C 1s</text>
<text x="61" y="328.32" font-size="4.4" font-family="'Liberation Sans', Arial, sans-serif" text-anchor="start" fill="#000">282.3 eV</text>
<text x="57" y="384.19" font-size="4" font-family="'Liberation Sans', Arial, sans-serif" text-anchor="middle" fill="#000">Binding Energy (eV)</text>
<text x="15.4" y="350.19" font-size="4" font-family="'Liberation Sans', Arial, sans-serif" text-anchor="middle" fill="#000" transform="rotate(-90 15.4 348.8)">Intensity (cps)</text>
<polyline points="157.9,373.6 158.4,373.1 158.9,372.1 160.4,367.5 160.7,367.2 160.9,367.3 161.4,368.2 162.7,372.4 163.2,373.5 163.7,374.1" fill="none" stroke="#555" stroke-width="0.6" stroke-linejoin="round" />
<polyline points="145.3,371.7 146.1,371.2 146.9,370.2 147.4,368.9 147.9,367.1 148.9,361.6 151,346.8 151.7,343.5 152,343 152.2,342.9 152.5,343.2 152.7,343.8 153.3,346.1 155.6,363.2 156.6,368.8 157.1,370.7 157.9,372.5 158.4,373.2 159.1,373.8" fill="none" stroke="#44aaaa" stroke-width="0.6" stroke-linejoin="round" />
<polyline points="138.9,371.2 140.5,370.8 141.8,370.1 143,368.9 145.3,366.1 146.4,365 147.4,364.4 148.1,364.3 148.9,364.7 149.9,365.6 152.7,369.8 154.3,371.7 155.6,372.8 157.1,373.6" fill="none" stroke="#ddaa66" stroke-width="0.6" stroke-linejoin="round" />
<polyline points="107.5,371.2 140,371.5 149.9,372.5 158.1,374 173.7,375.2" fill="none" stroke="#888" stroke-width="0.5" stroke-linejoin="round" />
<circle cx="107.5" cy="370.31" r="0.55" fill="none" stroke="#555" stroke-width="0.35"/>
<circle cx="108.52" cy="371.14" r="0.55" fill="none" stroke="#555" stroke-width="0.35"/>
<circle cx="109.54" cy="370.88" r="0.55" fill="none" stroke="#555" stroke-width="0.35"/>
<circle cx="110.57" cy="371.29" r="0.55" fill="none" stroke="#555" stroke-width="0.35"/>
<circle cx="111.59" cy="370.21" r="0.55" fill="none" stroke="#555" stroke-width="0.35"/>
<circle cx="112.61" cy="369.56" r="0.55" fill="none" stroke="#555" stroke-width="0.35"/>
<circle cx="113.63" cy="370.37" r="0.55" fill="none" stroke="#555" stroke-width="0.35"/>
<circle cx="114.66" cy="370.63" r="0.55" fill="none" stroke="#555" stroke-width="0.35"/>
<circle cx="115.68" cy="370.17" r="0.55" fill="none" stroke="#555" stroke-width="0.35"/>
<circle cx="116.7" cy="369.91" r="0.55" fill="none" stroke="#555" stroke-width="0.35"/>
<circle cx="117.72" cy="369.33" r="0.55" fill="none" stroke="#555" stroke-width="0.35"/>
<circle cx="118.75" cy="369.29" r="0.55" fill="none" stroke="#555" stroke-width="0.35"/>
<circle cx="119.77" cy="370.06" r="0.55" fill="none" stroke="#555" stroke-width="0.35"/>
<circle cx="120.79" cy="370.5" r="0.55" fill="none" stroke="#555" stroke-width="0.35"/>
<circle cx="121.81" cy="371.44" r="0.55" fill="none" stroke="#555" stroke-width="0.35"/>
<circle cx="122.84" cy="370.95" r="0.55" fill="none" stroke="#555" stroke-width="0.35"/>
<circle cx="123.86" cy="370.65" r="0.55" fill="none" stroke="#555" stroke-width="0.35"/>
<circle cx="124.88" cy="369.63" r="0.55" fill="none" stroke="#555" stroke-width="0.35"/>
<circle cx="125.9" cy="368.8" r="0.55" fill="none" stroke="#555" stroke-width="0.35"/>
<circle cx="126.93" cy="367.95" r="0.55" fill="none" stroke="#555" stroke-width="0.35"/>
<circle cx="127.95" cy="368.27" r="0.55" fill="none" stroke="#555" stroke-width="0.35"/>
<circle cx="128.97" cy="368.9" r="0.55" fill="none" stroke="#555" stroke-width="0.35"/>
<circle cx="129.99" cy="370.27" r="0.55" fill="none" stroke="#555" stroke-width="0.35"/>
<circle cx="131.02" cy="370.97" r="0.55" fill="none" stroke="#555" stroke-width="0.35"/>
<circle cx="132.04" cy="370.76" r="0.55" fill="none" stroke="#555" stroke-width="0.35"/>
<circle cx="133.06" cy="370.67" r="0.55" fill="none" stroke="#555" stroke-width="0.35"/>
<circle cx="134.08" cy="370.76" r="0.55" fill="none" stroke="#555" stroke-width="0.35"/>
<circle cx="135.1" cy="370.99" r="0.55" fill="none" stroke="#555" stroke-width="0.35"/>
<circle cx="136.13" cy="371.9" r="0.55" fill="none" stroke="#555" stroke-width="0.35"/>
<circle cx="137.15" cy="370.44" r="0.55" fill="none" stroke="#555" stroke-width="0.35"/>
<circle cx="138.17" cy="370.1" r="0.55" fill="none" stroke="#555" stroke-width="0.35"/>
<circle cx="139.19" cy="370.03" r="0.55" fill="none" stroke="#555" stroke-width="0.35"/>
<circle cx="140.22" cy="370.1" r="0.55" fill="none" stroke="#555" stroke-width="0.35"/>
<circle cx="141.24" cy="371.61" r="0.55" fill="none" stroke="#555" stroke-width="0.35"/>
<circle cx="142.26" cy="369.91" r="0.55" fill="none" stroke="#555" stroke-width="0.35"/>
<circle cx="143.28" cy="369.28" r="0.55" fill="none" stroke="#555" stroke-width="0.35"/>
<circle cx="144.31" cy="368.78" r="0.55" fill="none" stroke="#555" stroke-width="0.35"/>
<circle cx="145.33" cy="367.02" r="0.55" fill="none" stroke="#555" stroke-width="0.35"/>
<circle cx="146.35" cy="363.84" r="0.55" fill="none" stroke="#555" stroke-width="0.35"/>
<circle cx="147.37" cy="360.32" r="0.55" fill="none" stroke="#555" stroke-width="0.35"/>
<circle cx="148.4" cy="355.32" r="0.55" fill="none" stroke="#555" stroke-width="0.35"/>
<circle cx="149.42" cy="349.09" r="0.55" fill="none" stroke="#555" stroke-width="0.35"/>
<circle cx="150.44" cy="343.9" r="0.55" fill="none" stroke="#555" stroke-width="0.35"/>
<circle cx="151.46" cy="341.47" r="0.55" fill="none" stroke="#555" stroke-width="0.35"/>
<circle cx="152.49" cy="340.38" r="0.55" fill="none" stroke="#555" stroke-width="0.35"/>
<circle cx="153.51" cy="343.3" r="0.55" fill="none" stroke="#555" stroke-width="0.35"/>
<circle cx="154.53" cy="349.24" r="0.55" fill="none" stroke="#555" stroke-width="0.35"/>
<circle cx="155.55" cy="357.95" r="0.55" fill="none" stroke="#555" stroke-width="0.35"/>
<circle cx="156.57" cy="364.38" r="0.55" fill="none" stroke="#555" stroke-width="0.35"/>
<circle cx="157.6" cy="366.96" r="0.55" fill="none" stroke="#555" stroke-width="0.35"/>
<circle cx="158.62" cy="362.71" r="0.55" fill="none" stroke="#555" stroke-width="0.35"/>
<circle cx="159.64" cy="347.75" r="0.55" fill="none" stroke="#555" stroke-width="0.35"/>
<circle cx="160.66" cy="331.34" r="0.55" fill="none" stroke="#555" stroke-width="0.35"/>
<circle cx="161.69" cy="342.39" r="0.55" fill="none" stroke="#555" stroke-width="0.35"/>
<circle cx="162.71" cy="359.26" r="0.55" fill="none" stroke="#555" stroke-width="0.35"/>
<circle cx="163.73" cy="372.43" r="0.55" fill="none" stroke="#555" stroke-width="0.35"/>
<circle cx="164.75" cy="372.82" r="0.55" fill="none" stroke="#555" stroke-width="0.35"/>
<circle cx="165.78" cy="373.85" r="0.55" fill="none" stroke="#555" stroke-width="0.35"/>
<circle cx="166.8" cy="373.4" r="0.55" fill="none" stroke="#555" stroke-width="0.35"/>
<circle cx="167.82" cy="373.8" r="0.55" fill="none" stroke="#555" stroke-width="0.35"/>
<circle cx="168.84" cy="374.07" r="0.55" fill="none" stroke="#555" stroke-width="0.35"/>
<circle cx="169.87" cy="375.05" r="0.55" fill="none" stroke="#555" stroke-width="0.35"/>
<circle cx="170.89" cy="375.19" r="0.55" fill="none" stroke="#555" stroke-width="0.35"/>
<circle cx="171.91" cy="374.89" r="0.55" fill="none" stroke="#555" stroke-width="0.35"/>
<circle cx="172.93" cy="374.59" r="0.55" fill="none" stroke="#555" stroke-width="0.35"/>
<polyline points="107.5,371 113.1,370.5 118.7,369.5 122.1,371.5 127.4,368 130,370.5 134.8,371 140,370.5 144.1,368.9 145.8,366.2 146.1,365.6 147.9,358.5 149.9,345.5 150.2,344.6 152.2,339.8 154,345.2 156.1,362.2 158.1,369.4 158.4,367.2 160.7,330.8 160.9,330.5 163.5,371.6 163.7,372.2 166,374 173.7,375" fill="none" stroke="#e03030" stroke-width="1.1" stroke-linejoin="round" opacity="0.9" />
<rect x="107.2" y="324.3" width="66.8" height="52.2" stroke="#777" stroke-width="0.7" fill="none"/>
<circle cx="115.65" cy="335.1" r="0.7" fill="none" stroke="#666" stroke-width="0.4"/>
<text x="123.1" y="336.83" font-size="5" font-family="'Liberation Sans', Arial, sans-serif" text-anchor="start" fill="#000">experiment</text>
<line x1="111.1" y1="340.75" x2="120.2" y2="340.75" stroke="#555" stroke-width="1.0" />
<text x="123.1" y="342.48" font-size="5" font-family="'Liberation Sans', Arial, sans-serif" text-anchor="start" fill="#000">Ti-<tspan font-weight="bold">C</tspan></text>
<line x1="111.1" y1="346.4" x2="120.2" y2="346.4" stroke="#44aaaa" stroke-width="1.0" />
<text x="123.1" y="348.13" font-size="5" font-family="'Liberation Sans', Arial, sans-serif" text-anchor="start" fill="#000">C-<tspan font-weight="bold">C</tspan></text>
<line x1="111.1" y1="352.05" x2="120.2" y2="352.05" stroke="#ddaa66" stroke-width="1.0" />
<text x="123.1" y="353.78" font-size="5" font-family="'Liberation Sans', Arial, sans-serif" text-anchor="start" fill="#000"><tspan font-weight="bold">C</tspan>-H</text>
<line x1="111.1" y1="357.7" x2="120.2" y2="357.7" stroke="#e03030" stroke-width="1.0" />
<text x="123.1" y="359.43" font-size="5" font-family="'Liberation Sans', Arial, sans-serif" text-anchor="start" fill="#000">total</text>
<line x1="107.2" y1="376.5" x2="107.2" y2="374.5" stroke="#000" stroke-width="0.6" />
<text x="107.2" y="381.44" font-size="3.3" font-family="'Liberation Sans', Arial, sans-serif" text-anchor="middle" fill="#000">300</text>
<line x1="121.6" y1="376.5" x2="121.6" y2="374.5" stroke="#000" stroke-width="0.6" />
<text x="121.6" y="381.44" font-size="3.3" font-family="'Liberation Sans', Arial, sans-serif" text-anchor="middle" fill="#000">295</text>
<line x1="136" y1="376.5" x2="136" y2="374.5" stroke="#000" stroke-width="0.6" />
<text x="136" y="381.44" font-size="3.3" font-family="'Liberation Sans', Arial, sans-serif" text-anchor="middle" fill="#000">290</text>
<line x1="150.4" y1="376.5" x2="150.4" y2="374.5" stroke="#000" stroke-width="0.6" />
<text x="150.4" y="381.44" font-size="3.3" font-family="'Liberation Sans', Arial, sans-serif" text-anchor="middle" fill="#000">285</text>
<line x1="164.8" y1="376.5" x2="164.8" y2="374.5" stroke="#000" stroke-width="0.6" />
<text x="164.8" y="381.44" font-size="3.3" font-family="'Liberation Sans', Arial, sans-serif" text-anchor="middle" fill="#000">280</text>
<line x1="107.2" y1="370" x2="109.2" y2="370" stroke="#000" stroke-width="0.6" />
<text x="105.7" y="371.04" font-size="3" font-family="'Liberation Sans', Arial, sans-serif" text-anchor="end" fill="#000">1.0k</text>
<line x1="107.2" y1="358.8" x2="109.2" y2="358.8" stroke="#000" stroke-width="0.6" />
<text x="105.7" y="359.84" font-size="3" font-family="'Liberation Sans', Arial, sans-serif" text-anchor="end" fill="#000">1.5k</text>
<line x1="107.2" y1="348.1" x2="109.2" y2="348.1" stroke="#000" stroke-width="0.6" />
<text x="105.7" y="349.14" font-size="3" font-family="'Liberation Sans', Arial, sans-serif" text-anchor="end" fill="#000">2.0k</text>
<line x1="107.2" y1="337.1" x2="109.2" y2="337.1" stroke="#000" stroke-width="0.6" />
<text x="105.7" y="338.14" font-size="3" font-family="'Liberation Sans', Arial, sans-serif" text-anchor="end" fill="#000">2.5k</text>
<line x1="107.2" y1="326.6" x2="109.2" y2="326.6" stroke="#000" stroke-width="0.6" />
<text x="105.7" y="327.64" font-size="3" font-family="'Liberation Sans', Arial, sans-serif" text-anchor="end" fill="#000">3.0k</text>
<text x="107.7" y="329.21" font-size="5.8" font-family="'Liberation Sans', Arial, sans-serif" text-anchor="start" fill="#000">C 1s</text>
<text x="153.9" y="328.72" font-size="4.4" font-family="'Liberation Sans', Arial, sans-serif" text-anchor="start" fill="#000">281.8 eV</text>
<text x="139.1" y="384.19" font-size="4" font-family="'Liberation Sans', Arial, sans-serif" text-anchor="middle" fill="#000">Binding Energy (eV)</text>
<text x="98.1" y="350.19" font-size="4" font-family="'Liberation Sans', Arial, sans-serif" text-anchor="middle" fill="#000" transform="rotate(-90 98.1 348.8)">Intensity (cps)</text>
<polyline points="25.8,437.4 91.7,440.3" fill="none" stroke="#555" stroke-width="0.5" stroke-linejoin="round" />
<polyline points="34.7,437.5 41.6,437.6 45.6,437.4 46.9,437.1 47.9,436.7 48.7,436.2 49.5,435.4 50.7,433.2 51.8,430.4 53,425.4 55.6,413.3 56.3,410.8 56.8,410 57.1,409.8 57.4,409.8 57.9,410.5 58.6,412.7 61.4,426 62.7,431 63.7,433.9 65,436.1 65.7,437 66.5,437.5 67.5,438 68.8,438.4 72.9,439 79.7,439.5" fill="none" stroke="#333" stroke-width="0.6" stroke-linejoin="round" />
<polyline points="38.8,437.7 48.4,437.8 51.8,437.7 54,437.5 55.6,437.2 56.8,436.6 57.9,435.8 58.6,434.8 59.4,433.3 59.9,432 61.2,427 62.4,419.6 65.2,399.6 66,396.3 66.5,395.3 66.8,395.2 67,395.4 67.5,396.8 68.3,400.5 70.8,419.1 72.1,426.9 73.4,432.2 73.9,433.7 74.7,435.3 75.4,436.4 76.4,437.4 77.5,438 78.7,438.4 80.8,438.9 83.6,439.3 91.7,440" fill="none" stroke="#333" stroke-width="0.6" stroke-linejoin="round" />
<circle cx="25.8" cy="436.27" r="0.55" fill="none" stroke="#555" stroke-width="0.35"/>
<circle cx="26.82" cy="436.8" r="0.55" fill="none" stroke="#555" stroke-width="0.35"/>
<circle cx="27.84" cy="437.85" r="0.55" fill="none" stroke="#555" stroke-width="0.35"/>
<circle cx="28.85" cy="437.37" r="0.55" fill="none" stroke="#555" stroke-width="0.35"/>
<circle cx="29.87" cy="437.67" r="0.55" fill="none" stroke="#555" stroke-width="0.35"/>
<circle cx="30.89" cy="436.81" r="0.55" fill="none" stroke="#555" stroke-width="0.35"/>
<circle cx="31.91" cy="437.22" r="0.55" fill="none" stroke="#555" stroke-width="0.35"/>
<circle cx="32.92" cy="437.73" r="0.55" fill="none" stroke="#555" stroke-width="0.35"/>
<circle cx="33.94" cy="437.36" r="0.55" fill="none" stroke="#555" stroke-width="0.35"/>
<circle cx="34.96" cy="437.02" r="0.55" fill="none" stroke="#555" stroke-width="0.35"/>
<circle cx="35.98" cy="437.31" r="0.55" fill="none" stroke="#555" stroke-width="0.35"/>
<circle cx="37" cy="436.89" r="0.55" fill="none" stroke="#555" stroke-width="0.35"/>
<circle cx="38.01" cy="436.89" r="0.55" fill="none" stroke="#555" stroke-width="0.35"/>
<circle cx="39.03" cy="437.37" r="0.55" fill="none" stroke="#555" stroke-width="0.35"/>
<circle cx="40.05" cy="437.12" r="0.55" fill="none" stroke="#555" stroke-width="0.35"/>
<circle cx="41.07" cy="437.4" r="0.55" fill="none" stroke="#555" stroke-width="0.35"/>
<circle cx="42.08" cy="437.74" r="0.55" fill="none" stroke="#555" stroke-width="0.35"/>
<circle cx="43.1" cy="437.35" r="0.55" fill="none" stroke="#555" stroke-width="0.35"/>
<circle cx="44.12" cy="437.35" r="0.55" fill="none" stroke="#555" stroke-width="0.35"/>
<circle cx="45.14" cy="437.08" r="0.55" fill="none" stroke="#555" stroke-width="0.35"/>
<circle cx="46.16" cy="437.4" r="0.55" fill="none" stroke="#555" stroke-width="0.35"/>
<circle cx="47.17" cy="436.09" r="0.55" fill="none" stroke="#555" stroke-width="0.35"/>
<circle cx="48.19" cy="436.07" r="0.55" fill="none" stroke="#555" stroke-width="0.35"/>
<circle cx="49.21" cy="435.39" r="0.55" fill="none" stroke="#555" stroke-width="0.35"/>
<circle cx="50.23" cy="432.91" r="0.55" fill="none" stroke="#555" stroke-width="0.35"/>
<circle cx="51.24" cy="431.32" r="0.55" fill="none" stroke="#555" stroke-width="0.35"/>
<circle cx="52.26" cy="427.5" r="0.55" fill="none" stroke="#555" stroke-width="0.35"/>
<circle cx="53.28" cy="423.04" r="0.55" fill="none" stroke="#555" stroke-width="0.35"/>
<circle cx="54.3" cy="418.34" r="0.55" fill="none" stroke="#555" stroke-width="0.35"/>
<circle cx="55.32" cy="412.81" r="0.55" fill="none" stroke="#555" stroke-width="0.35"/>
<circle cx="56.33" cy="408.47" r="0.55" fill="none" stroke="#555" stroke-width="0.35"/>
<circle cx="57.35" cy="406.42" r="0.55" fill="none" stroke="#555" stroke-width="0.35"/>
<circle cx="58.37" cy="407.54" r="0.55" fill="none" stroke="#555" stroke-width="0.35"/>
<circle cx="59.39" cy="411.05" r="0.55" fill="none" stroke="#555" stroke-width="0.35"/>
<circle cx="60.4" cy="412.34" r="0.55" fill="none" stroke="#555" stroke-width="0.35"/>
<circle cx="61.42" cy="412.29" r="0.55" fill="none" stroke="#555" stroke-width="0.35"/>
<circle cx="62.44" cy="410.59" r="0.55" fill="none" stroke="#555" stroke-width="0.35"/>
<circle cx="63.46" cy="407.1" r="0.55" fill="none" stroke="#555" stroke-width="0.35"/>
<circle cx="64.47" cy="401.34" r="0.55" fill="none" stroke="#555" stroke-width="0.35"/>
<circle cx="65.49" cy="395.27" r="0.55" fill="none" stroke="#555" stroke-width="0.35"/>
<circle cx="66.51" cy="393.67" r="0.55" fill="none" stroke="#555" stroke-width="0.35"/>
<circle cx="67.53" cy="395.61" r="0.55" fill="none" stroke="#555" stroke-width="0.35"/>
<circle cx="68.55" cy="401.04" r="0.55" fill="none" stroke="#555" stroke-width="0.35"/>
<circle cx="69.56" cy="408.57" r="0.55" fill="none" stroke="#555" stroke-width="0.35"/>
<circle cx="70.58" cy="416.97" r="0.55" fill="none" stroke="#555" stroke-width="0.35"/>
<circle cx="71.6" cy="423.3" r="0.55" fill="none" stroke="#555" stroke-width="0.35"/>
<circle cx="72.62" cy="428.91" r="0.55" fill="none" stroke="#555" stroke-width="0.35"/>
<circle cx="73.63" cy="432.74" r="0.55" fill="none" stroke="#555" stroke-width="0.35"/>
<circle cx="74.65" cy="434.36" r="0.55" fill="none" stroke="#555" stroke-width="0.35"/>
<circle cx="75.67" cy="436.27" r="0.55" fill="none" stroke="#555" stroke-width="0.35"/>
<circle cx="76.69" cy="437.17" r="0.55" fill="none" stroke="#555" stroke-width="0.35"/>
<circle cx="77.71" cy="438.42" r="0.55" fill="none" stroke="#555" stroke-width="0.35"/>
<circle cx="78.72" cy="438.23" r="0.55" fill="none" stroke="#555" stroke-width="0.35"/>
<circle cx="79.74" cy="438.31" r="0.55" fill="none" stroke="#555" stroke-width="0.35"/>
<circle cx="80.76" cy="439.22" r="0.55" fill="none" stroke="#555" stroke-width="0.35"/>
<circle cx="81.78" cy="438.65" r="0.55" fill="none" stroke="#555" stroke-width="0.35"/>
<circle cx="82.79" cy="439.24" r="0.55" fill="none" stroke="#555" stroke-width="0.35"/>
<circle cx="83.81" cy="439.5" r="0.55" fill="none" stroke="#555" stroke-width="0.35"/>
<circle cx="84.83" cy="439.62" r="0.55" fill="none" stroke="#555" stroke-width="0.35"/>
<circle cx="85.85" cy="439.3" r="0.55" fill="none" stroke="#555" stroke-width="0.35"/>
<circle cx="86.87" cy="439.73" r="0.55" fill="none" stroke="#555" stroke-width="0.35"/>
<circle cx="87.88" cy="439.47" r="0.55" fill="none" stroke="#555" stroke-width="0.35"/>
<circle cx="88.9" cy="440.16" r="0.55" fill="none" stroke="#555" stroke-width="0.35"/>
<circle cx="89.92" cy="440.39" r="0.55" fill="none" stroke="#555" stroke-width="0.35"/>
<circle cx="90.94" cy="440.19" r="0.55" fill="none" stroke="#555" stroke-width="0.35"/>
<polyline points="25.8,437.2 36.7,437.4 43.6,437.2 45.6,436.9 46.9,436.6 47.9,436.1 49,435.3 49.7,434.4 50.5,433 51.2,431.2 52,428.7 53.3,423.2 55.6,411.8 56.6,408.3 57.1,407.5 57.4,407.3 57.9,407.5 58.6,408.7 59.9,411.6 60.4,412.4 60.9,412.9 61.2,412.9 61.7,412.5 62.2,411.5 62.9,408.9 65.5,395.9 66,394.3 66.5,393.6 66.8,393.7 67.3,394.6 68,398 70.8,418.5 72.1,426.3 73.4,431.7 73.9,433.2 74.7,434.9 75.4,436.1 76.4,437.1 77.5,437.7 78.7,438.2 80.8,438.6 83.6,439.1 91.7,439.9" fill="none" stroke="#e03030" stroke-width="1.1" stroke-linejoin="round" opacity="0.9" />
<rect x="25.5" y="390.4" width="66.5" height="51.6" stroke="#777" stroke-width="0.7" fill="none"/>
<line x1="25.5" y1="442" x2="25.5" y2="440" stroke="#000" stroke-width="0.6" />
<text x="25.5" y="446.24" font-size="3" font-family="'Liberation Sans', Arial, sans-serif" text-anchor="middle" fill="#000">74</text>
<line x1="35" y1="442" x2="35" y2="440" stroke="#000" stroke-width="0.6" />
<text x="35" y="446.24" font-size="3" font-family="'Liberation Sans', Arial, sans-serif" text-anchor="middle" fill="#000">73</text>
<line x1="44.5" y1="442" x2="44.5" y2="440" stroke="#000" stroke-width="0.6" />
<text x="44.5" y="446.24" font-size="3" font-family="'Liberation Sans', Arial, sans-serif" text-anchor="middle" fill="#000">72</text>
<line x1="54" y1="442" x2="54" y2="440" stroke="#000" stroke-width="0.6" />
<text x="54" y="446.24" font-size="3" font-family="'Liberation Sans', Arial, sans-serif" text-anchor="middle" fill="#000">71</text>
<line x1="63.5" y1="442" x2="63.5" y2="440" stroke="#000" stroke-width="0.6" />
<text x="63.5" y="446.24" font-size="3" font-family="'Liberation Sans', Arial, sans-serif" text-anchor="middle" fill="#000">70</text>
<line x1="73" y1="442" x2="73" y2="440" stroke="#000" stroke-width="0.6" />
<text x="73" y="446.24" font-size="3" font-family="'Liberation Sans', Arial, sans-serif" text-anchor="middle" fill="#000">69</text>
<line x1="82.5" y1="442" x2="82.5" y2="440" stroke="#000" stroke-width="0.6" />
<text x="82.5" y="446.24" font-size="3" font-family="'Liberation Sans', Arial, sans-serif" text-anchor="middle" fill="#000">68</text>
<line x1="92" y1="442" x2="92" y2="440" stroke="#000" stroke-width="0.6" />
<text x="92" y="446.24" font-size="3" font-family="'Liberation Sans', Arial, sans-serif" text-anchor="middle" fill="#000">67</text>
<line x1="25.5" y1="439.7" x2="27.5" y2="439.7" stroke="#000" stroke-width="0.6" />
<text x="24" y="440.67" font-size="2.8" font-family="'Liberation Sans', Arial, sans-serif" text-anchor="end" fill="#000">0.8k</text>
<line x1="25.5" y1="433.9" x2="27.5" y2="433.9" stroke="#000" stroke-width="0.6" />
<text x="24" y="434.87" font-size="2.8" font-family="'Liberation Sans', Arial, sans-serif" text-anchor="end" fill="#000">1.0k</text>
<line x1="25.5" y1="427.2" x2="27.5" y2="427.2" stroke="#000" stroke-width="0.6" />
<text x="24" y="428.17" font-size="2.8" font-family="'Liberation Sans', Arial, sans-serif" text-anchor="end" fill="#000">1.2k</text>
<line x1="25.5" y1="420.5" x2="27.5" y2="420.5" stroke="#000" stroke-width="0.6" />
<text x="24" y="421.47" font-size="2.8" font-family="'Liberation Sans', Arial, sans-serif" text-anchor="end" fill="#000">1.4k</text>
<line x1="25.5" y1="413.8" x2="27.5" y2="413.8" stroke="#000" stroke-width="0.6" />
<text x="24" y="414.77" font-size="2.8" font-family="'Liberation Sans', Arial, sans-serif" text-anchor="end" fill="#000">1.6k</text>
<line x1="25.5" y1="407.1" x2="27.5" y2="407.1" stroke="#000" stroke-width="0.6" />
<text x="24" y="408.07" font-size="2.8" font-family="'Liberation Sans', Arial, sans-serif" text-anchor="end" fill="#000">1.8k</text>
<line x1="25.5" y1="400.4" x2="27.5" y2="400.4" stroke="#000" stroke-width="0.6" />
<text x="24" y="401.37" font-size="2.8" font-family="'Liberation Sans', Arial, sans-serif" text-anchor="end" fill="#000">2.0k</text>
<line x1="25.5" y1="393.7" x2="27.5" y2="393.7" stroke="#000" stroke-width="0.6" />
<text x="24" y="394.67" font-size="2.8" font-family="'Liberation Sans', Arial, sans-serif" text-anchor="end" fill="#000">2.2k</text>
<text x="26.5" y="395.64" font-size="5.6" font-family="'Liberation Sans', Arial, sans-serif" text-anchor="start" fill="#000">Br 3d</text>
<text x="69.2" y="395.02" font-size="3.8" font-family="'Liberation Sans', Arial, sans-serif" text-anchor="start" fill="#000">69.7 eV 3d<tspan font-size="2.6" dy="0.8">5/2</tspan></text>
<text x="69.2" y="399.92" font-size="3.8" font-family="'Liberation Sans', Arial, sans-serif" text-anchor="start" fill="#000">C-Ti-<tspan font-weight="bold">Br</tspan></text>
<text x="56" y="449.79" font-size="4" font-family="'Liberation Sans', Arial, sans-serif" text-anchor="middle" fill="#000">Binding Energy (eV)</text>
<text x="15.4" y="416.39" font-size="4" font-family="'Liberation Sans', Arial, sans-serif" text-anchor="middle" fill="#000" transform="rotate(-90 15.4 415)">Intensity (cps)</text>
<polyline points="108.2,432.5 140.1,433.5 160,435.5 173.3,437" fill="none" stroke="#555" stroke-width="0.5" stroke-linejoin="round" />
<polyline points="116.5,432.5 120.5,432.4 122.8,432.1 124,431.6 125,430.5 125.8,428.8 126.5,426 127.3,422 128.8,412.2 129.3,410 129.6,409.4 129.8,409.2 130.1,409.4 130.3,410.1 130.8,412.5 132.3,422.4 133.1,426.4 133.6,428.4 134.3,430.4 134.8,431.2 135.3,431.7 136.6,432.4 138.1,432.8 143.1,433.6" fill="none" stroke="#555" stroke-width="0.6" stroke-linejoin="round" />
<polyline points="144.6,433.7 149.9,433.9 153.2,433.7 154.2,433.4 155,433 155.5,432.4 156,431.5 156.7,429.3 157.5,425.5 158.2,419.9 160,403.7 160.5,401.1 160.7,400.6 161,400.8 161.2,401.6 161.7,404.7 163.2,419.2 164,425.3 164.8,429.6 165.5,432.2 166,433.3 166.5,434.1 167.8,435 169.8,435.8 173.3,436.5" fill="none" stroke="#555" stroke-width="0.6" stroke-linejoin="round" />
<polyline points="120.8,432.6 121.5,432.3 122.3,431.8 124.8,429.1 125.3,428.7 125.8,428.6 126.3,428.6 126.8,429 129.3,431.8 130.1,432.4 131.1,432.9" fill="none" stroke="#3a3acc" stroke-width="0.6" stroke-linejoin="round" />
<polyline points="152.4,434.5 153.2,434.3 153.9,433.8 155,432.8 156.7,430.4 157.5,429.9 158,429.8 158.5,430 159,430.5 161,433.5 161.7,434.5 162.5,435.2 163.2,435.6" fill="none" stroke="#3a3acc" stroke-width="0.6" stroke-linejoin="round" />
<circle cx="108.2" cy="432.71" r="0.55" fill="none" stroke="#555" stroke-width="0.35"/>
<circle cx="109.21" cy="432.66" r="0.55" fill="none" stroke="#555" stroke-width="0.35"/>
<circle cx="110.21" cy="432.06" r="0.55" fill="none" stroke="#555" stroke-width="0.35"/>
<circle cx="111.22" cy="432.74" r="0.55" fill="none" stroke="#555" stroke-width="0.35"/>
<circle cx="112.22" cy="432.61" r="0.55" fill="none" stroke="#555" stroke-width="0.35"/>
<circle cx="113.23" cy="432.7" r="0.55" fill="none" stroke="#555" stroke-width="0.35"/>
<circle cx="114.23" cy="432.37" r="0.55" fill="none" stroke="#555" stroke-width="0.35"/>
<circle cx="115.24" cy="432.14" r="0.55" fill="none" stroke="#555" stroke-width="0.35"/>
<circle cx="116.24" cy="432.55" r="0.55" fill="none" stroke="#555" stroke-width="0.35"/>
<circle cx="117.25" cy="432.4" r="0.55" fill="none" stroke="#555" stroke-width="0.35"/>
<circle cx="118.25" cy="432.78" r="0.55" fill="none" stroke="#555" stroke-width="0.35"/>
<circle cx="119.26" cy="432.33" r="0.55" fill="none" stroke="#555" stroke-width="0.35"/>
<circle cx="120.26" cy="431.77" r="0.55" fill="none" stroke="#555" stroke-width="0.35"/>
<circle cx="121.27" cy="432.08" r="0.55" fill="none" stroke="#555" stroke-width="0.35"/>
<circle cx="122.28" cy="431.1" r="0.55" fill="none" stroke="#555" stroke-width="0.35"/>
<circle cx="123.28" cy="429.78" r="0.55" fill="none" stroke="#555" stroke-width="0.35"/>
<circle cx="124.29" cy="428.02" r="0.55" fill="none" stroke="#555" stroke-width="0.35"/>
<circle cx="125.29" cy="426.48" r="0.55" fill="none" stroke="#555" stroke-width="0.35"/>
<circle cx="126.3" cy="421.73" r="0.55" fill="none" stroke="#555" stroke-width="0.35"/>
<circle cx="127.3" cy="418.37" r="0.55" fill="none" stroke="#555" stroke-width="0.35"/>
<circle cx="128.31" cy="413.13" r="0.55" fill="none" stroke="#555" stroke-width="0.35"/>
<circle cx="129.31" cy="408.32" r="0.55" fill="none" stroke="#555" stroke-width="0.35"/>
<circle cx="130.32" cy="409.41" r="0.55" fill="none" stroke="#555" stroke-width="0.35"/>
<circle cx="131.32" cy="415.24" r="0.55" fill="none" stroke="#555" stroke-width="0.35"/>
<circle cx="132.33" cy="421.86" r="0.55" fill="none" stroke="#555" stroke-width="0.35"/>
<circle cx="133.34" cy="426.97" r="0.55" fill="none" stroke="#555" stroke-width="0.35"/>
<circle cx="134.34" cy="431.03" r="0.55" fill="none" stroke="#555" stroke-width="0.35"/>
<circle cx="135.35" cy="431.72" r="0.55" fill="none" stroke="#555" stroke-width="0.35"/>
<circle cx="136.35" cy="432.4" r="0.55" fill="none" stroke="#555" stroke-width="0.35"/>
<circle cx="137.36" cy="432.59" r="0.55" fill="none" stroke="#555" stroke-width="0.35"/>
<circle cx="138.36" cy="432.64" r="0.55" fill="none" stroke="#555" stroke-width="0.35"/>
<circle cx="139.37" cy="432.84" r="0.55" fill="none" stroke="#555" stroke-width="0.35"/>
<circle cx="140.37" cy="432.46" r="0.55" fill="none" stroke="#555" stroke-width="0.35"/>
<circle cx="141.38" cy="432.93" r="0.55" fill="none" stroke="#555" stroke-width="0.35"/>
<circle cx="142.38" cy="433.28" r="0.55" fill="none" stroke="#555" stroke-width="0.35"/>
<circle cx="143.39" cy="433.13" r="0.55" fill="none" stroke="#555" stroke-width="0.35"/>
<circle cx="144.39" cy="433.7" r="0.55" fill="none" stroke="#555" stroke-width="0.35"/>
<circle cx="145.4" cy="433.58" r="0.55" fill="none" stroke="#555" stroke-width="0.35"/>
<circle cx="146.41" cy="433.45" r="0.55" fill="none" stroke="#555" stroke-width="0.35"/>
<circle cx="147.41" cy="433.87" r="0.55" fill="none" stroke="#555" stroke-width="0.35"/>
<circle cx="148.42" cy="434.32" r="0.55" fill="none" stroke="#555" stroke-width="0.35"/>
<circle cx="149.42" cy="433.47" r="0.55" fill="none" stroke="#555" stroke-width="0.35"/>
<circle cx="150.43" cy="433.44" r="0.55" fill="none" stroke="#555" stroke-width="0.35"/>
<circle cx="151.43" cy="433.23" r="0.55" fill="none" stroke="#555" stroke-width="0.35"/>
<circle cx="152.44" cy="432.71" r="0.55" fill="none" stroke="#555" stroke-width="0.35"/>
<circle cx="153.44" cy="432.85" r="0.55" fill="none" stroke="#555" stroke-width="0.35"/>
<circle cx="154.45" cy="431.9" r="0.55" fill="none" stroke="#555" stroke-width="0.35"/>
<circle cx="155.45" cy="429.3" r="0.55" fill="none" stroke="#555" stroke-width="0.35"/>
<circle cx="156.46" cy="424.85" r="0.55" fill="none" stroke="#555" stroke-width="0.35"/>
<circle cx="157.46" cy="420.36" r="0.55" fill="none" stroke="#555" stroke-width="0.35"/>
<circle cx="158.47" cy="412.79" r="0.55" fill="none" stroke="#555" stroke-width="0.35"/>
<circle cx="159.48" cy="402.96" r="0.55" fill="none" stroke="#555" stroke-width="0.35"/>
<circle cx="160.48" cy="398.47" r="0.55" fill="none" stroke="#555" stroke-width="0.35"/>
<circle cx="161.49" cy="401.39" r="0.55" fill="none" stroke="#555" stroke-width="0.35"/>
<circle cx="162.49" cy="410.84" r="0.55" fill="none" stroke="#555" stroke-width="0.35"/>
<circle cx="163.5" cy="421.83" r="0.55" fill="none" stroke="#555" stroke-width="0.35"/>
<circle cx="164.5" cy="428.85" r="0.55" fill="none" stroke="#555" stroke-width="0.35"/>
<circle cx="165.51" cy="431.86" r="0.55" fill="none" stroke="#555" stroke-width="0.35"/>
<circle cx="166.51" cy="434.36" r="0.55" fill="none" stroke="#555" stroke-width="0.35"/>
<circle cx="167.52" cy="435.02" r="0.55" fill="none" stroke="#555" stroke-width="0.35"/>
<circle cx="168.52" cy="435.43" r="0.55" fill="none" stroke="#555" stroke-width="0.35"/>
<circle cx="169.53" cy="436.16" r="0.55" fill="none" stroke="#555" stroke-width="0.35"/>
<circle cx="170.54" cy="435.38" r="0.55" fill="none" stroke="#555" stroke-width="0.35"/>
<circle cx="171.54" cy="436.42" r="0.55" fill="none" stroke="#555" stroke-width="0.35"/>
<circle cx="172.55" cy="436.28" r="0.55" fill="none" stroke="#555" stroke-width="0.35"/>
<polyline points="108.2,432.4 115.7,432.5 119.3,432.4 121,431.9 121.8,431.4 122.5,430.7 123.5,429.3 124.5,427.4 126,423.5 127.1,419.5 128.8,410.3 129.3,408.5 129.6,408.2 129.8,408.2 130.1,408.6 130.6,410.6 132.3,422.2 133.3,427.3 134.1,429.7 134.6,430.7 135.1,431.4 136.1,432.1 137.4,432.5 143.9,433.4 147.7,433.7 150.4,433.8 151.9,433.7 152.9,433.3 153.9,432.4 155,430.7 155.7,428.6 156.5,425.7 157.7,418.3 159.7,401.7 160.2,398.9 160.5,398.2 160.7,398.2 161,398.7 161.2,399.8 161.7,403.5 163.2,418.9 164,425.2 164.5,428.3 165.3,431.4 165.8,432.8 166.3,433.7 166.8,434.3 167.5,434.9 169.8,435.8 173.3,436.5" fill="none" stroke="#e03030" stroke-width="1.1" stroke-linejoin="round" opacity="0.9" />
<rect x="107.9" y="389.9" width="65.7" height="51.9" stroke="#777" stroke-width="0.7" fill="none"/>
<line x1="107.3" y1="441.8" x2="107.3" y2="439.8" stroke="#000" stroke-width="0.6" />
<text x="107.3" y="446.24" font-size="3" font-family="'Liberation Sans', Arial, sans-serif" text-anchor="middle" fill="#000">590</text>
<line x1="122.47" y1="441.8" x2="122.47" y2="439.8" stroke="#000" stroke-width="0.6" />
<text x="122.47" y="446.24" font-size="3" font-family="'Liberation Sans', Arial, sans-serif" text-anchor="middle" fill="#000">585</text>
<line x1="137.65" y1="441.8" x2="137.65" y2="439.8" stroke="#000" stroke-width="0.6" />
<text x="137.65" y="446.24" font-size="3" font-family="'Liberation Sans', Arial, sans-serif" text-anchor="middle" fill="#000">580</text>
<line x1="152.82" y1="441.8" x2="152.82" y2="439.8" stroke="#000" stroke-width="0.6" />
<text x="152.82" y="446.24" font-size="3" font-family="'Liberation Sans', Arial, sans-serif" text-anchor="middle" fill="#000">575</text>
<line x1="168" y1="441.8" x2="168" y2="439.8" stroke="#000" stroke-width="0.6" />
<text x="168" y="446.24" font-size="3" font-family="'Liberation Sans', Arial, sans-serif" text-anchor="middle" fill="#000">570</text>
<line x1="107.9" y1="437" x2="109.9" y2="437" stroke="#000" stroke-width="0.6" />
<text x="106.4" y="437.97" font-size="2.8" font-family="'Liberation Sans', Arial, sans-serif" text-anchor="end" fill="#000">0</text>
<line x1="107.9" y1="427" x2="109.9" y2="427" stroke="#000" stroke-width="0.6" />
<text x="106.4" y="427.97" font-size="2.8" font-family="'Liberation Sans', Arial, sans-serif" text-anchor="end" fill="#000">4k</text>
<line x1="107.9" y1="417" x2="109.9" y2="417" stroke="#000" stroke-width="0.6" />
<text x="106.4" y="417.97" font-size="2.8" font-family="'Liberation Sans', Arial, sans-serif" text-anchor="end" fill="#000">8k</text>
<line x1="107.9" y1="407" x2="109.9" y2="407" stroke="#000" stroke-width="0.6" />
<text x="106.4" y="407.97" font-size="2.8" font-family="'Liberation Sans', Arial, sans-serif" text-anchor="end" fill="#000">12k</text>
<line x1="107.9" y1="397" x2="109.9" y2="397" stroke="#000" stroke-width="0.6" />
<text x="106.4" y="397.97" font-size="2.8" font-family="'Liberation Sans', Arial, sans-serif" text-anchor="end" fill="#000">16k</text>
<text x="109.4" y="394.74" font-size="5.6" font-family="'Liberation Sans', Arial, sans-serif" text-anchor="start" fill="#000">Te 3d</text>
<circle cx="112.75" cy="396.6" r="0.7" fill="none" stroke="#666" stroke-width="0.4"/>
<text x="116.2" y="398.06" font-size="4.2" font-family="'Liberation Sans', Arial, sans-serif" text-anchor="start" fill="#000">experiment</text>
<line x1="110.5" y1="401.5" x2="115" y2="401.5" stroke="#555" stroke-width="1.0" />
<text x="116.2" y="402.96" font-size="4.2" font-family="'Liberation Sans', Arial, sans-serif" text-anchor="start" fill="#000">Te<tspan font-size="2.6" dy="-1">0</tspan></text>
<line x1="110.5" y1="407.9" x2="115" y2="407.9" stroke="#3a3acc" stroke-width="1.0" />
<text x="116.2" y="409.36" font-size="4.2" font-family="'Liberation Sans', Arial, sans-serif" text-anchor="start" fill="#000">TeC</text>
<line x1="110.5" y1="413.7" x2="115" y2="413.7" stroke="#e03030" stroke-width="1.0" />
<text x="116.2" y="415.16" font-size="4.2" font-family="'Liberation Sans', Arial, sans-serif" text-anchor="start" fill="#000">total</text>
<text x="135.2" y="416.32" font-size="3.8" font-family="'Liberation Sans', Arial, sans-serif" text-anchor="middle" fill="#000" transform="rotate(-90 135.2 415)">582.4 eV 3d<tspan font-size="2.6" dy="0.8">3/2</tspan></text>
<text x="165.8" y="406.32" font-size="3.8" font-family="'Liberation Sans', Arial, sans-serif" text-anchor="middle" fill="#000" transform="rotate(-90 165.8 405)">572.4 eV 3d<tspan font-size="2.6" dy="0.8">5/2</tspan></text>
<text x="139.3" y="450.39" font-size="4" font-family="'Liberation Sans', Arial, sans-serif" text-anchor="middle" fill="#000">Binding Energy (eV)</text>
<text x="98.1" y="416.39" font-size="4" font-family="'Liberation Sans', Arial, sans-serif" text-anchor="middle" fill="#000" transform="rotate(-90 98.1 415)">Intensity (cps)</text>
<text x="178.8" y="239.32" font-size="11.3" font-family="'Liberation Serif', 'Times New Roman', serif" text-anchor="start" fill="#000" font-weight="bold">(f)</text>
<rect x="243.6" y="235.5" width="2.8" height="80.5" fill="#c9c9c9" opacity="1"/>
<rect x="261" y="235.5" width="2" height="80.5" fill="#c9c9c9" opacity="1"/>
<rect x="267" y="235.5" width="2.4" height="80.5" fill="#c9c9c9" opacity="1"/>
<rect x="282.4" y="235.5" width="2" height="80.5" fill="#c9c9c9" opacity="1"/>
<rect x="272.6" y="235.5" width="3" height="80.5" fill="#f4ee30" opacity="1"/>
<text x="245" y="248.32" font-size="3.8" font-family="'Liberation Sans', Arial, sans-serif" text-anchor="middle" fill="#000" transform="rotate(90 245 247)">Co 2p</text>
<text x="262" y="245.32" font-size="3.8" font-family="'Liberation Sans', Arial, sans-serif" text-anchor="middle" fill="#000" transform="rotate(90 262 244)">O 1s</text>
<text x="268.2" y="245.32" font-size="3.8" font-family="'Liberation Sans', Arial, sans-serif" text-anchor="middle" fill="#000" transform="rotate(90 268.2 244)">Ti 2p</text>
<text x="274.1" y="263.32" font-size="3.8" font-family="'Liberation Sans', Arial, sans-serif" text-anchor="middle" fill="#000" transform="rotate(90 274.1 262)">N 1s</text>
<text x="283.4" y="290.32" font-size="3.8" font-family="'Liberation Sans', Arial, sans-serif" text-anchor="middle" fill="#000" transform="rotate(90 283.4 289)">C 1s</text>
<polyline points="206.8,284.9 206.9,283.5 207.2,283.9 207.4,283.7 207.5,283.9 207.7,283.8 208.1,283.1 208.4,283.3 208.7,282.4 208.8,283.2 208.9,282.6 209.1,282.8 209.2,282.4 209.4,282.7 209.5,282.3 209.7,282.6 209.8,282.5 210.1,281.2 210.2,281.9 210.4,281.4 210.5,281.7 211.1,280.7 211.2,281.1 211.5,280.4 211.8,280.4 212.1,279.5 212.2,280.2 212.4,279.5 212.5,279.3 212.7,279.3 212.9,278.8 213.1,279 213.2,278.6 213.4,278.7 213.7,278.5 213.8,277.5 214.5,286.3 214.7,286.5 215.2,285.2 215.5,285.4 215.7,285 215.8,284.9 215.9,285.2 216.5,281 216.9,286.6 217.1,287.1 217.2,285.8 217.4,286.1 218.1,283.7 218.5,280.3 219.1,287.9 219.7,286.3 220.5,282.7 220.8,282.1 220.9,281.1 221.5,289.2 221.8,288.4 222.5,287.2 222.7,286.6 222.8,286.8 223.2,284.9 223.5,282.4 224,280.5 224.1,281.3 224.5,289.1 225.1,287.1 225.4,289.1 225.7,294.1 225.8,294.5 226,294.3 226.2,294.4 226.4,294 226.5,294.3 226.8,294.1 227,293.3 227.2,293.9 227.4,293.7 227.5,294.1 227.7,293.4 227.8,294 228.5,293.2 229,293.5 229.2,293.5 229.4,293.5 229.5,293 229.7,293 229.8,293.3 230,292.8 230.1,293.2 230.4,292.5 230.5,292.9 230.7,292.8 231,292 231.1,292.6 231.4,292.7 231.8,291.9 232.1,292.4 232.7,291.3 232.8,291.9 233,291.9 233.1,291.2 233.4,292 233.5,291.1 233.7,291.9 234.2,291.4 234.4,291.4 234.5,291.6 234.7,290.9 235,290.5 235.2,291.2 235.4,290.7 235.5,290.9 235.7,290.8 235.8,291 236.2,290.4 236.4,290.4 236.5,290.6 236.7,290.4 236.8,290.6 237,290.1 237.1,290.4 237.2,290.1 237.4,290.2 237.5,289.6 237.7,290.1 237.8,289.7 238,290.1 238.2,289.6 238.4,290 238.7,290 239,289.3 239.1,289.7 239.2,289 239.5,289.3 239.7,288.8 239.8,289.4 240.1,288.9 240.2,288.4 240.5,288.9 240.8,288.3 241,288.2 241.1,288.4 241.4,287.8 241.5,288.5 241.7,288.1 241.8,288.1 242,287.9 242.1,288.1 242.2,288 242.4,287.6 242.7,287.4 242.8,287.7 243.1,287 243.2,287.5 243.4,287.1 243.7,287.3 244.1,286.7 244.4,286.8 244.7,286.4 245,286.2 245.1,286.2 245.2,286 245.4,286.1 245.5,285.8 245.7,286.1 246,285.5 246.1,285.7 246.2,285.3 246.4,286.2 246.5,285.2 246.8,285.5 247.1,284.8 247.2,284.7 247.4,285.2 247.5,284.5 247.7,285.1 248,284.5 248.1,284.8 248.5,283.9 248.7,283.8 248.8,284.1 249,283.5 249.2,283.5 249.4,283.7 249.5,283.3 249.8,284.1 250,283.4 250.1,283.8 250.4,282.8 250.7,282.7 250.8,282.9 251,282.8 251.4,282.1 251.8,281.8 252,282.5 252.2,281.4 252.4,281.6 252.5,281.6 252.8,281.1 253,281.2 253.1,281.1 253.4,281.1 253.5,280.6 253.7,280.7 254,280.2 254.2,280.2 254.5,279.7 254.7,279.7 255,280 255.1,279.9 255.2,279 255.5,279.4 256,278.7 256.1,278.8 256.4,278.4 256.5,278.6 256.7,278.6 257,277.9 257.1,278.1 257.4,278.1 257.7,277.8 257.8,277.5 258.1,277.5 258.4,277.2 259.1,273.9 259.3,274.2 259.8,285.7 260.1,286.1 260.3,285.8 260.5,286.4 260.7,286.2 261.1,286.9 261.3,286.8 261.4,287.2 261.5,286.5 261.7,287.3 261.8,284.9 262.3,248.3 262.4,250.9 263,287.1 263.1,287.1 263.3,286.9 263.4,287.2 263.7,287.1 263.8,287.2 264,286.8 264.1,287.4 264.3,287.2 264.4,287.3 264.5,287.1 264.8,287.1 265,287.6 265.1,287.1 265.4,287.4 265.5,287.1 265.8,287.5 266.1,287.6 266.5,286.7 266.7,287.1 266.8,286.1 267,286.6 267.4,286.4 267.5,285.3 268,274.7 269,308 269.1,309.3 269.5,309.2 269.7,308.8 269.8,309.4 270,308.9 270.1,308.8 270.3,309.1 270.4,308.7 270.5,309.5 270.7,309.6 271,308.8 271.1,309.1 271.4,308.9 271.7,309.1 271.8,308.9 272.1,309 272.3,308.7 272.4,308.9 272.5,308.9 272.7,309.4 272.8,309.1 273.4,309 273.5,308.5 273.8,304.9 274,304.8 274.3,308.3 274.5,309 274.7,308.9 275,309.1 275.3,309.1 275.4,308.9 275.7,309.3 275.8,309.1 276,309.3 276.1,309.1 276.3,309.4 276.4,308.9 276.7,309.4 276.8,309 277,309.2 277.1,309.3 277.3,309.2 277.4,309.4 277.7,309.2 277.8,309.4 278,309.3 278.1,309.9 278.3,308.9 278.4,309.3 278.7,309.3 278.8,308.8 279,309.3 279.1,309.1 279.3,309.5 279.4,309 279.5,309.7 279.7,309.3 279.8,309.2 280,309.4 280.1,309 280.4,309.5 280.5,309.3 280.7,309.4 280.8,308.8 281,309 281.1,309 281.3,309.8 281.4,309.4 281.5,309.7 281.7,309.3 281.8,309.7 282,309.3 282.4,309.5 282.5,309 282.7,309.5 282.8,309.2 283,309.3 283.4,302 283.8,310.4 284,309.8 284.1,310 284.4,309.9 284.7,310.2 284.8,310 285.1,310.4 285.3,310.1 285.4,310.4 285.5,310.1 285.8,310.6 286,310 286.3,310.5 286.4,310.3 286.7,310.9 287.1,310.1 287.3,310.3 287.5,310.1 287.7,310.5 287.8,310.5 288,310 288.1,310.2 288.3,310.1 288.4,310.6 288.5,310.5 288.7,310.6 288.8,310.4 289.1,310.6 289.3,310.5 289.4,310.7 289.5,310 289.7,310.7 289.8,310.2 290.1,310.6 290.3,310.5 290.4,310.2 290.6,310.5 290.7,309.9 291.1,310.8 291.3,310.4 291.7,310.2 292,310.5 292.1,310.8 292.3,310.1 292.4,310.5 292.6,310 292.8,310.6 293.1,310.6 293.3,310.2 293.6,310.7 293.7,310 294,310.3 294.3,310.4 294.6,310.1 294.7,310.4 294.8,310.1 295.1,310.4 295.7,310.4 295.8,310.6 296,309.9 296.1,310.3 296.4,310.1 296.7,310.3 296.8,310.1 297,310.7 297.1,310.7 297.3,310 297.4,310.4 297.8,310.1 298,310.2 298.3,310 298.4,310.3 298.6,310.1 298.7,310.4 298.8,309.8 299,309.9 299.1,309.3 299.3,310 299.4,309.8 299.6,310.2 299.7,310.3 299.8,310 300,310.2 300.3,309.3 300.4,309.7 300.8,308.7 301,308.8 301.1,308.5 301.3,308.8 301.4,307.2 301.7,307.7 302,307.1 302.3,307.4 302.4,308.2 302.7,308.5 303,309.4 303.3,307.9 303.6,307.1 303.7,307.1 304,306.2 304.4,308.2 304.6,308.3 305.1,311.3 305.3,311.3 305.4,312.1 305.8,312.3 306,313.7 306.1,313.6 306.6,314.3 306.7,315.2" fill="none" stroke="#111" stroke-width="0.9" stroke-linejoin="round" />
<rect x="206.5" y="235.5" width="100.5" height="80.5" stroke="#333" stroke-width="0.8" fill="none"/>
<line x1="206.6" y1="316" x2="206.6" y2="314" stroke="#000" stroke-width="0.6" />
<text x="206.6" y="321.92" font-size="3.8" font-family="'Liberation Sans', Arial, sans-serif" text-anchor="middle" fill="#000">1200</text>
<line x1="223.26" y1="316" x2="223.26" y2="314" stroke="#000" stroke-width="0.6" />
<text x="223.26" y="321.92" font-size="3.8" font-family="'Liberation Sans', Arial, sans-serif" text-anchor="middle" fill="#000">1000</text>
<line x1="239.92" y1="316" x2="239.92" y2="314" stroke="#000" stroke-width="0.6" />
<text x="239.92" y="321.92" font-size="3.8" font-family="'Liberation Sans', Arial, sans-serif" text-anchor="middle" fill="#000">800</text>
<line x1="256.58" y1="316" x2="256.58" y2="314" stroke="#000" stroke-width="0.6" />
<text x="256.58" y="321.92" font-size="3.8" font-family="'Liberation Sans', Arial, sans-serif" text-anchor="middle" fill="#000">600</text>
<line x1="273.24" y1="316" x2="273.24" y2="314" stroke="#000" stroke-width="0.6" />
<text x="273.24" y="321.92" font-size="3.8" font-family="'Liberation Sans', Arial, sans-serif" text-anchor="middle" fill="#000">400</text>
<line x1="289.9" y1="316" x2="289.9" y2="314" stroke="#000" stroke-width="0.6" />
<text x="289.9" y="321.92" font-size="3.8" font-family="'Liberation Sans', Arial, sans-serif" text-anchor="middle" fill="#000">200</text>
<line x1="306.56" y1="316" x2="306.56" y2="314" stroke="#000" stroke-width="0.6" />
<text x="306.56" y="321.92" font-size="3.8" font-family="'Liberation Sans', Arial, sans-serif" text-anchor="middle" fill="#000">0</text>
<line x1="206.5" y1="315.8" x2="208.5" y2="315.8" stroke="#000" stroke-width="0.6" />
<text x="203.3" y="317.15" font-size="3.9" font-family="'Liberation Sans', Arial, sans-serif" text-anchor="end" fill="#000">0</text>
<line x1="206.5" y1="294.8" x2="208.5" y2="294.8" stroke="#000" stroke-width="0.6" />
<text x="203.3" y="296.15" font-size="3.9" font-family="'Liberation Sans', Arial, sans-serif" text-anchor="end" fill="#000">20k</text>
<line x1="206.5" y1="274" x2="208.5" y2="274" stroke="#000" stroke-width="0.6" />
<text x="203.3" y="275.35" font-size="3.9" font-family="'Liberation Sans', Arial, sans-serif" text-anchor="end" fill="#000">40k</text>
<line x1="206.5" y1="252.8" x2="208.5" y2="252.8" stroke="#000" stroke-width="0.6" />
<text x="203.3" y="254.15" font-size="3.9" font-family="'Liberation Sans', Arial, sans-serif" text-anchor="end" fill="#000">60k</text>
<text x="253.3" y="328.68" font-size="6" font-family="'Liberation Sans', Arial, sans-serif" text-anchor="middle" fill="#000" textLength="53" lengthAdjust="spacingAndGlyphs">Binding Energy (eV)</text>
<text x="188.3" y="278.95" font-size="6.2" font-family="'Liberation Sans', Arial, sans-serif" text-anchor="middle" fill="#000" transform="rotate(-90 188.3 276.8)" textLength="40" lengthAdjust="spacingAndGlyphs">Intensity (cps)</text>
<polyline points="330.7,303.5 360.1,305.5 385,307 400.2,308.5 425.1,309" fill="none" stroke="#777" stroke-width="0.6" stroke-linejoin="round" />
<polyline points="368,305.7 369.5,305.4 370.8,304.9 372.4,304.1 375.8,301.7 377.1,301.2 378.1,301.1 379,301.3 380.3,301.9 384.1,304.9 385.6,306 386.9,306.6 388.5,307.1" fill="none" stroke="#3030dd" stroke-width="0.8" stroke-linejoin="round" />
<polyline points="381.5,306.5 383.1,306 384.1,305.4 384.7,304.8 386,303 388.8,298.2 389.7,297.2 390.4,297 390.7,297.1 391.3,297.4 392.3,298.6 395.1,304 396.4,306 397.6,307.2 399.2,308.1" fill="none" stroke="#207a6a" stroke-width="0.8" stroke-linejoin="round" />
<polyline points="380.9,306.5 386.9,306.5 388.5,306.3 389.4,306 390.1,305.7 390.7,305.1 391.3,303.9 391.6,302.8 392.3,299 392.9,291.9 394.8,255 395.1,251.2 395.4,250 395.7,251.7 396.1,255.9 397.3,282.3 397.9,293.1 398.6,300 399.2,303.7 399.5,304.8 400.2,306.1 400.8,306.8 401.4,307.1 402.7,307.6 404.6,308 409.9,308.4" fill="none" stroke="#333" stroke-width="0.6" stroke-linejoin="round" />
<circle cx="330.7" cy="302.92" r="0.7" fill="none" stroke="#999" stroke-width="0.35"/>
<circle cx="331.65" cy="303.13" r="0.7" fill="none" stroke="#999" stroke-width="0.35"/>
<circle cx="332.59" cy="303.11" r="0.7" fill="none" stroke="#999" stroke-width="0.35"/>
<circle cx="333.54" cy="304.2" r="0.7" fill="none" stroke="#999" stroke-width="0.35"/>
<circle cx="334.49" cy="303.16" r="0.7" fill="none" stroke="#999" stroke-width="0.35"/>
<circle cx="335.44" cy="303.11" r="0.7" fill="none" stroke="#999" stroke-width="0.35"/>
<circle cx="336.38" cy="304.01" r="0.7" fill="none" stroke="#999" stroke-width="0.35"/>
<circle cx="337.33" cy="304.6" r="0.7" fill="none" stroke="#999" stroke-width="0.35"/>
<circle cx="338.28" cy="304.3" r="0.7" fill="none" stroke="#999" stroke-width="0.35"/>
<circle cx="339.22" cy="303.77" r="0.7" fill="none" stroke="#999" stroke-width="0.35"/>
<circle cx="340.17" cy="304.57" r="0.7" fill="none" stroke="#999" stroke-width="0.35"/>
<circle cx="341.12" cy="304.23" r="0.7" fill="none" stroke="#999" stroke-width="0.35"/>
<circle cx="342.07" cy="303.66" r="0.7" fill="none" stroke="#999" stroke-width="0.35"/>
<circle cx="343.01" cy="304.33" r="0.7" fill="none" stroke="#999" stroke-width="0.35"/>
<circle cx="343.96" cy="304.15" r="0.7" fill="none" stroke="#999" stroke-width="0.35"/>
<circle cx="344.91" cy="303.42" r="0.7" fill="none" stroke="#999" stroke-width="0.35"/>
<circle cx="345.85" cy="305.87" r="0.7" fill="none" stroke="#999" stroke-width="0.35"/>
<circle cx="346.8" cy="304.19" r="0.7" fill="none" stroke="#999" stroke-width="0.35"/>
<circle cx="347.75" cy="304.87" r="0.7" fill="none" stroke="#999" stroke-width="0.35"/>
<circle cx="348.7" cy="304.4" r="0.7" fill="none" stroke="#999" stroke-width="0.35"/>
<circle cx="349.64" cy="305.05" r="0.7" fill="none" stroke="#999" stroke-width="0.35"/>
<circle cx="350.59" cy="306.11" r="0.7" fill="none" stroke="#999" stroke-width="0.35"/>
<circle cx="351.54" cy="304.33" r="0.7" fill="none" stroke="#999" stroke-width="0.35"/>
<circle cx="352.48" cy="303.55" r="0.7" fill="none" stroke="#999" stroke-width="0.35"/>
<circle cx="353.43" cy="303.64" r="0.7" fill="none" stroke="#999" stroke-width="0.35"/>
<circle cx="354.38" cy="304.52" r="0.7" fill="none" stroke="#999" stroke-width="0.35"/>
<circle cx="355.33" cy="304.15" r="0.7" fill="none" stroke="#999" stroke-width="0.35"/>
<circle cx="356.27" cy="305.09" r="0.7" fill="none" stroke="#999" stroke-width="0.35"/>
<circle cx="357.22" cy="305.01" r="0.7" fill="none" stroke="#999" stroke-width="0.35"/>
<circle cx="358.17" cy="305.39" r="0.7" fill="none" stroke="#999" stroke-width="0.35"/>
<circle cx="359.11" cy="305.72" r="0.7" fill="none" stroke="#999" stroke-width="0.35"/>
<circle cx="360.06" cy="304.9" r="0.7" fill="none" stroke="#999" stroke-width="0.35"/>
<circle cx="361.01" cy="305.58" r="0.7" fill="none" stroke="#999" stroke-width="0.35"/>
<circle cx="361.96" cy="305.41" r="0.7" fill="none" stroke="#999" stroke-width="0.35"/>
<circle cx="362.9" cy="306.08" r="0.7" fill="none" stroke="#999" stroke-width="0.35"/>
<circle cx="363.85" cy="306.55" r="0.7" fill="none" stroke="#999" stroke-width="0.35"/>
<circle cx="364.8" cy="305.34" r="0.7" fill="none" stroke="#999" stroke-width="0.35"/>
<circle cx="365.74" cy="306.6" r="0.7" fill="none" stroke="#999" stroke-width="0.35"/>
<circle cx="366.69" cy="305.85" r="0.7" fill="none" stroke="#999" stroke-width="0.35"/>
<circle cx="367.64" cy="306.25" r="0.7" fill="none" stroke="#999" stroke-width="0.35"/>
<circle cx="368.59" cy="305.54" r="0.7" fill="none" stroke="#999" stroke-width="0.35"/>
<circle cx="369.53" cy="305.93" r="0.7" fill="none" stroke="#999" stroke-width="0.35"/>
<circle cx="370.48" cy="305.97" r="0.7" fill="none" stroke="#999" stroke-width="0.35"/>
<circle cx="371.43" cy="304.29" r="0.7" fill="none" stroke="#999" stroke-width="0.35"/>
<circle cx="372.37" cy="305.64" r="0.7" fill="none" stroke="#999" stroke-width="0.35"/>
<circle cx="373.32" cy="303.69" r="0.7" fill="none" stroke="#999" stroke-width="0.35"/>
<circle cx="374.27" cy="301.98" r="0.7" fill="none" stroke="#999" stroke-width="0.35"/>
<circle cx="375.22" cy="302.28" r="0.7" fill="none" stroke="#999" stroke-width="0.35"/>
<circle cx="376.16" cy="300.24" r="0.7" fill="none" stroke="#999" stroke-width="0.35"/>
<circle cx="377.11" cy="300.89" r="0.7" fill="none" stroke="#999" stroke-width="0.35"/>
<circle cx="378.06" cy="300.84" r="0.7" fill="none" stroke="#999" stroke-width="0.35"/>
<circle cx="379.01" cy="300.72" r="0.7" fill="none" stroke="#999" stroke-width="0.35"/>
<circle cx="379.95" cy="301.06" r="0.7" fill="none" stroke="#999" stroke-width="0.35"/>
<circle cx="380.9" cy="302.49" r="0.7" fill="none" stroke="#999" stroke-width="0.35"/>
<circle cx="381.85" cy="302.38" r="0.7" fill="none" stroke="#999" stroke-width="0.35"/>
<circle cx="382.79" cy="303.33" r="0.7" fill="none" stroke="#999" stroke-width="0.35"/>
<circle cx="383.74" cy="303.1" r="0.7" fill="none" stroke="#999" stroke-width="0.35"/>
<circle cx="384.69" cy="302.25" r="0.7" fill="none" stroke="#999" stroke-width="0.35"/>
<circle cx="385.64" cy="301.69" r="0.7" fill="none" stroke="#999" stroke-width="0.35"/>
<circle cx="386.58" cy="300.6" r="0.7" fill="none" stroke="#999" stroke-width="0.35"/>
<circle cx="387.53" cy="299.82" r="0.7" fill="none" stroke="#999" stroke-width="0.35"/>
<circle cx="388.48" cy="296.76" r="0.7" fill="none" stroke="#999" stroke-width="0.35"/>
<circle cx="389.42" cy="295.1" r="0.7" fill="none" stroke="#999" stroke-width="0.35"/>
<circle cx="390.37" cy="294.14" r="0.7" fill="none" stroke="#999" stroke-width="0.35"/>
<circle cx="391.32" cy="294.16" r="0.7" fill="none" stroke="#999" stroke-width="0.35"/>
<circle cx="392.27" cy="290.6" r="0.7" fill="none" stroke="#999" stroke-width="0.35"/>
<circle cx="393.21" cy="279.42" r="0.7" fill="none" stroke="#999" stroke-width="0.35"/>
<circle cx="394.16" cy="262.72" r="0.7" fill="none" stroke="#999" stroke-width="0.35"/>
<circle cx="395.11" cy="246.66" r="0.7" fill="none" stroke="#999" stroke-width="0.35"/>
<circle cx="396.05" cy="253.71" r="0.7" fill="none" stroke="#999" stroke-width="0.35"/>
<circle cx="397" cy="275.23" r="0.7" fill="none" stroke="#999" stroke-width="0.35"/>
<circle cx="397.95" cy="293.06" r="0.7" fill="none" stroke="#999" stroke-width="0.35"/>
<circle cx="398.9" cy="300.77" r="0.7" fill="none" stroke="#999" stroke-width="0.35"/>
<circle cx="399.84" cy="305.44" r="0.7" fill="none" stroke="#999" stroke-width="0.35"/>
<circle cx="400.79" cy="306.95" r="0.7" fill="none" stroke="#999" stroke-width="0.35"/>
<circle cx="401.74" cy="307.07" r="0.7" fill="none" stroke="#999" stroke-width="0.35"/>
<circle cx="402.68" cy="307.19" r="0.7" fill="none" stroke="#999" stroke-width="0.35"/>
<circle cx="403.63" cy="307.15" r="0.7" fill="none" stroke="#999" stroke-width="0.35"/>
<circle cx="404.58" cy="308.54" r="0.7" fill="none" stroke="#999" stroke-width="0.35"/>
<circle cx="405.53" cy="307.97" r="0.7" fill="none" stroke="#999" stroke-width="0.35"/>
<circle cx="406.47" cy="308.36" r="0.7" fill="none" stroke="#999" stroke-width="0.35"/>
<circle cx="407.42" cy="308.51" r="0.7" fill="none" stroke="#999" stroke-width="0.35"/>
<circle cx="408.37" cy="307.74" r="0.7" fill="none" stroke="#999" stroke-width="0.35"/>
<circle cx="409.31" cy="308.36" r="0.7" fill="none" stroke="#999" stroke-width="0.35"/>
<circle cx="410.26" cy="307.69" r="0.7" fill="none" stroke="#999" stroke-width="0.35"/>
<circle cx="411.21" cy="309.78" r="0.7" fill="none" stroke="#999" stroke-width="0.35"/>
<circle cx="412.16" cy="307.86" r="0.7" fill="none" stroke="#999" stroke-width="0.35"/>
<circle cx="413.1" cy="308.01" r="0.7" fill="none" stroke="#999" stroke-width="0.35"/>
<circle cx="414.05" cy="308.52" r="0.7" fill="none" stroke="#999" stroke-width="0.35"/>
<circle cx="415" cy="308.99" r="0.7" fill="none" stroke="#999" stroke-width="0.35"/>
<circle cx="415.94" cy="309.18" r="0.7" fill="none" stroke="#999" stroke-width="0.35"/>
<circle cx="416.89" cy="309.52" r="0.7" fill="none" stroke="#999" stroke-width="0.35"/>
<circle cx="417.84" cy="309.11" r="0.7" fill="none" stroke="#999" stroke-width="0.35"/>
<circle cx="418.79" cy="308.57" r="0.7" fill="none" stroke="#999" stroke-width="0.35"/>
<circle cx="419.73" cy="308.72" r="0.7" fill="none" stroke="#999" stroke-width="0.35"/>
<circle cx="420.68" cy="309.35" r="0.7" fill="none" stroke="#999" stroke-width="0.35"/>
<circle cx="421.63" cy="310.57" r="0.7" fill="none" stroke="#999" stroke-width="0.35"/>
<circle cx="422.57" cy="308.7" r="0.7" fill="none" stroke="#999" stroke-width="0.35"/>
<circle cx="423.52" cy="309.47" r="0.7" fill="none" stroke="#999" stroke-width="0.35"/>
<circle cx="424.47" cy="308.41" r="0.7" fill="none" stroke="#999" stroke-width="0.35"/>
<polyline points="330.7,302.9 331,302.7 331.3,303.3 332,302.9 332.6,303.1 332.9,304.2 333.2,304.5 333.9,303.8 334.2,303 334.5,303.2 334.8,302.7 335.1,303 335.4,303.1 335.8,302.5 336.4,304 336.7,303.6 337,303.6 337.6,305.3 338,305.1 338.3,304.3 338.9,304.5 339.2,303.8 339.9,304.8 340.2,304.6 340.8,303.6 341.4,304.6 341.8,304.8 342.1,303.7 342.7,305.8 343,304.3 343.6,304.9 344,304.2 344.3,305.1 344.6,304.7 344.9,303.4 345.5,303.8 345.9,305.9 346.2,306 346.5,303.9 346.8,304.2 347.4,305.7 347.7,304.9 348.4,305.8 348.7,304.4 349,303.9 349.6,305.1 350,304.6 350.3,304.7 350.6,306.1 350.9,306.8 351.5,304.3 351.9,305.1 352.2,304.9 352.5,303.5 352.8,303.6 353.1,303.9 353.4,303.6 354.1,304.6 354.4,304.5 354.7,305.1 355,305 355.3,304.2 355.6,304 356,305.1 356.3,305.1 356.6,304.1 356.9,304.9 357.2,305 357.5,304.4 358.2,305.4 358.5,305 358.8,304.9 359.1,305.7 359.4,306.1 359.7,305.3 360.1,304.9 360.4,306.1 360.7,306.2 361,305.6 361.3,305.9 361.6,305.5 362,305.4 362.6,305 362.9,306.1 363.9,306.5 364.2,306.1 364.5,306 364.8,305.3 365.1,305.8 365.4,307 365.7,306.6 366.1,305.9 366.4,305.6 366.7,305.9 367,306.5 367.3,306.7 368,305.8 368.6,305.5 368.9,304.9 369.2,305.9 369.5,305.9 369.8,304.4 370.5,306 371.4,304.3 371.7,304.8 372.1,306 372.4,305.6 372.7,304.1 373.3,303.7 374,301.6 374.3,302 374.6,301.9 375.2,302.3 375.5,301.2 376.2,300.2 376.5,300.4 376.8,300.9 377.1,300.9 377.4,300.6 377.7,300.5 378.4,301.3 378.7,301.3 379.3,300.2 379.6,300.2 380,301.1 380.3,300.6 380.6,301.1 380.9,302.5 381.2,301.6 381.8,302.4 382.2,302.3 382.8,303.3 383.1,303 383.4,303.5 384.1,302.7 384.4,303.4 384.7,302.2 385,302.3 385.3,303.2 385.6,301.7 386,300.9 386.3,301.3 386.6,300.6 386.9,299.3 387.2,299 387.5,299.8 387.8,299.1 388.2,297.6 388.5,296.8 388.8,296.8 389.1,296.4 389.7,294.2 390.1,293.8 390.4,294.1 390.7,295.5 391,295.7 391.6,292.6 391.9,292 392.3,290.6 392.9,284.6 395.1,246.7 395.4,246.5 395.7,248.8 396.1,253.7 397,275.2 397.9,293.1 398.3,297.1 399.8,305.4 400.2,306.3 400.5,306.9 400.8,307 401.1,307.2 401.4,308 402.1,306.1 402.4,307.2 402.7,307.2 403.3,307.9 403.6,307.2 403.9,307.6 404.3,309.1 404.6,308.5 404.9,307.4 405.8,308.3 406.2,308 406.5,308.4 407.1,308.1 407.4,308.5 407.7,308.5 408.4,307.7 409,308.6 409.6,308 410.3,307.7 410.9,309.6 411.2,309.8 411.8,306.8 412.5,308.6 413.1,308 413.4,308.1 413.7,307.2 414.4,309.6 414.7,308.3 415,309 415.3,309 415.6,308.7 416.3,309.4 416.6,309.3 417.2,309.8 417.5,309.4 418.2,308.8 418.5,308.9 418.8,308.6 419.1,307.5 419.4,307.8 419.7,308.7 420,308.8 420.4,308.4 421,310.3 421.3,310.8 421.6,310.6 421.9,309.8 422.3,309.6 422.6,308.7 422.9,308.5 423.8,309.8 424.2,308.8 424.5,308.4 424.8,309.2 425.1,309.4" fill="none" stroke="#e02020" stroke-width="1.7" stroke-linejoin="round" />
<rect x="330.4" y="237.4" width="95" height="76.5" stroke="#777" stroke-width="0.8" fill="none"/>
<line x1="330.4" y1="313.9" x2="330.4" y2="311.9" stroke="#000" stroke-width="0.6" />
<text x="330.4" y="318.88" font-size="3.7" font-family="'Liberation Sans', Arial, sans-serif" text-anchor="middle" fill="#000">410</text>
<line x1="353.9" y1="313.9" x2="353.9" y2="311.9" stroke="#000" stroke-width="0.6" />
<text x="353.9" y="318.88" font-size="3.7" font-family="'Liberation Sans', Arial, sans-serif" text-anchor="middle" fill="#000">405</text>
<line x1="377.4" y1="313.9" x2="377.4" y2="311.9" stroke="#000" stroke-width="0.6" />
<text x="377.4" y="318.88" font-size="3.7" font-family="'Liberation Sans', Arial, sans-serif" text-anchor="middle" fill="#000">400</text>
<line x1="400.9" y1="313.9" x2="400.9" y2="311.9" stroke="#000" stroke-width="0.6" />
<text x="400.9" y="318.88" font-size="3.7" font-family="'Liberation Sans', Arial, sans-serif" text-anchor="middle" fill="#000">395</text>
<line x1="424.4" y1="313.9" x2="424.4" y2="311.9" stroke="#000" stroke-width="0.6" />
<text x="424.4" y="318.88" font-size="3.7" font-family="'Liberation Sans', Arial, sans-serif" text-anchor="middle" fill="#000">390</text>
<line x1="330.4" y1="308.2" x2="332.4" y2="308.2" stroke="#000" stroke-width="0.6" />
<text x="328.9" y="309.24" font-size="3" font-family="'Liberation Sans', Arial, sans-serif" text-anchor="end" fill="#000">600</text>
<line x1="330.4" y1="293" x2="332.4" y2="293" stroke="#000" stroke-width="0.6" />
<text x="328.9" y="294.04" font-size="3" font-family="'Liberation Sans', Arial, sans-serif" text-anchor="end" fill="#000">900</text>
<line x1="330.4" y1="277.7" x2="332.4" y2="277.7" stroke="#000" stroke-width="0.6" />
<text x="328.9" y="278.74" font-size="3" font-family="'Liberation Sans', Arial, sans-serif" text-anchor="end" fill="#000">1,200</text>
<line x1="330.4" y1="261.5" x2="332.4" y2="261.5" stroke="#000" stroke-width="0.6" />
<text x="328.9" y="262.54" font-size="3" font-family="'Liberation Sans', Arial, sans-serif" text-anchor="end" fill="#000">1,500</text>
<line x1="330.4" y1="244.9" x2="332.4" y2="244.9" stroke="#000" stroke-width="0.6" />
<text x="328.9" y="245.94" font-size="3" font-family="'Liberation Sans', Arial, sans-serif" text-anchor="end" fill="#000">1,800</text>
<text x="331" y="244.4" font-size="7.5" font-family="'Liberation Sans', Arial, sans-serif" text-anchor="start" fill="#000">N 1s</text>
<text x="412.5" y="245.18" font-size="6.3" font-family="'Liberation Sans', Arial, sans-serif" text-anchor="end" fill="#000">396.2 eV</text>
<text x="376.2" y="284.08" font-size="6" font-family="'Liberation Sans', Arial, sans-serif" text-anchor="middle" fill="#000" transform="rotate(-90 376.2 282)">399.9 eV</text>
<text x="385.7" y="284.08" font-size="6" font-family="'Liberation Sans', Arial, sans-serif" text-anchor="middle" fill="#000" transform="rotate(-90 385.7 282)">397.5 eV</text>
<line x1="365.7" y1="259.6" x2="383.8" y2="268.1" stroke="#3a8fc0" stroke-width="0.8" />
<line x1="397.2" y1="246.8" x2="410" y2="257.7" stroke="#3a8fc0" stroke-width="0.8" />
<text x="357.8" y="250.32" font-size="4.4" font-family="'Liberation Sans', Arial, sans-serif" text-anchor="middle" fill="#000">α-N<tspan font-size="2.6" dy="0.8">3</tspan></text>
<text x="357.8" y="255.22" font-size="4.4" font-family="'Liberation Sans', Arial, sans-serif" text-anchor="middle" fill="#000">N=N</text>
<line x1="351.5" y1="261.8" x2="357.8" y2="256.3" stroke="#000" stroke-width="0.55" />
<line x1="357.8" y1="256.3" x2="364" y2="261.8" stroke="#000" stroke-width="0.55" />
<line x1="349.5" y1="262.8" x2="366" y2="262.8" stroke="#000" stroke-width="0.7" />
<line x1="350.3" y1="262.8" x2="349.3" y2="265" stroke="#000" stroke-width="0.45" />
<line x1="352.2" y1="262.8" x2="351.2" y2="265" stroke="#000" stroke-width="0.45" />
<line x1="354.1" y1="262.8" x2="353.1" y2="265" stroke="#000" stroke-width="0.45" />
<line x1="356" y1="262.8" x2="355" y2="265" stroke="#000" stroke-width="0.45" />
<line x1="357.9" y1="262.8" x2="356.9" y2="265" stroke="#000" stroke-width="0.45" />
<line x1="359.8" y1="262.8" x2="358.8" y2="265" stroke="#000" stroke-width="0.45" />
<line x1="361.7" y1="262.8" x2="360.7" y2="265" stroke="#000" stroke-width="0.45" />
<line x1="363.6" y1="262.8" x2="362.6" y2="265" stroke="#000" stroke-width="0.45" />
<line x1="365.5" y1="262.8" x2="364.5" y2="265" stroke="#000" stroke-width="0.45" />
<text x="417.2" y="254.32" font-size="4.4" font-family="'Liberation Sans', Arial, sans-serif" text-anchor="middle" fill="#000">β-N</text>
<text x="417.2" y="258.82" font-size="4.4" font-family="'Liberation Sans', Arial, sans-serif" text-anchor="middle" fill="#000">NH</text>
<line x1="411.5" y1="265" x2="417.2" y2="259.8" stroke="#000" stroke-width="0.55" />
<line x1="417.2" y1="259.8" x2="422.5" y2="265" stroke="#000" stroke-width="0.55" />
<line x1="405.2" y1="265.8" x2="423.4" y2="265.8" stroke="#000" stroke-width="0.7" />
<line x1="406" y1="265.8" x2="405" y2="268" stroke="#000" stroke-width="0.45" />
<line x1="407.9" y1="265.8" x2="406.9" y2="268" stroke="#000" stroke-width="0.45" />
<line x1="409.8" y1="265.8" x2="408.8" y2="268" stroke="#000" stroke-width="0.45" />
<line x1="411.7" y1="265.8" x2="410.7" y2="268" stroke="#000" stroke-width="0.45" />
<line x1="413.6" y1="265.8" x2="412.6" y2="268" stroke="#000" stroke-width="0.45" />
<line x1="415.5" y1="265.8" x2="414.5" y2="268" stroke="#000" stroke-width="0.45" />
<line x1="417.4" y1="265.8" x2="416.4" y2="268" stroke="#000" stroke-width="0.45" />
<line x1="419.3" y1="265.8" x2="418.3" y2="268" stroke="#000" stroke-width="0.45" />
<line x1="421.2" y1="265.8" x2="420.2" y2="268" stroke="#000" stroke-width="0.45" />
<line x1="423.1" y1="265.8" x2="422.1" y2="268" stroke="#000" stroke-width="0.45" />
<text x="375.2" y="324.78" font-size="5.7" font-family="'Liberation Sans', Arial, sans-serif" text-anchor="middle" fill="#000" textLength="50" lengthAdjust="spacingAndGlyphs">Binding Energy (eV)</text>
<text x="315.2" y="275.38" font-size="5.7" font-family="'Liberation Sans', Arial, sans-serif" text-anchor="middle" fill="#000" transform="rotate(-90 315.2 273.4)" textLength="35.7" lengthAdjust="spacingAndGlyphs">Intensity (cps)</text>
<text x="179" y="357.72" font-size="11.3" font-family="'Liberation Serif', 'Times New Roman', serif" text-anchor="start" fill="#000" font-weight="bold">(g)</text>
<polyline points="245.9,409.8 247.2,409.3 248.2,408.6 249.2,407.6 251.8,404 252.8,403.2 253.4,403.1 254.1,403.3 255.1,404.4 257.7,408.7 258.7,410.1 260,411.4 261.3,412.1" fill="none" stroke="#555" stroke-width="0.7" stroke-linejoin="round" />
<polyline points="243,409.5 244.6,409.1 245.6,408.5 246.2,407.9 246.9,407.1 247.9,405.6 250.2,401 251.1,399.3 252.1,398.2 252.8,398 253.1,398 253.8,398.4 254.7,399.7 258,406.9 259.3,409.3 260,410.2 260.9,411.2 261.9,411.9 262.9,412.4" fill="none" stroke="#3a3acc" stroke-width="0.7" stroke-linejoin="round" />
<polyline points="236.1,408.8 237.7,408.6 239.1,408.1 240.4,407.3 244,404.6 244.9,404.2 245.9,404.1 246.9,404.3 248.2,405.2 251.8,408.7 253.1,409.8 254.4,410.6 256,411.3" fill="none" stroke="#cc44cc" stroke-width="0.7" stroke-linejoin="round" />
<polyline points="231.2,408.4 233.8,408 238.1,406.6 239.1,406.5 240,406.5 242,407.1 246.2,409.2 248.9,410.1" fill="none" stroke="#33bbbb" stroke-width="0.7" stroke-linejoin="round" />
<polyline points="278.6,416.5 279.2,416.2 279.9,415.3 280.6,413.1 280.9,411.4 281.5,406.5 283.2,390.3 283.8,386.6 284.1,386.2 284.5,386.9 285.1,391.4 286.8,411.5 287.4,418 287.7,420.2 288.4,423 289,424.6 289.7,425.4" fill="none" stroke="#555" stroke-width="0.7" stroke-linejoin="round" />
<polyline points="271.7,414.5 272.7,414.2 273.4,413.6 274,412.4 274.7,410.5 275.3,407.8 276,404.1 277.9,390.3 278.6,386.6 279.2,384.5 279.6,384.1 279.9,384.3 280.2,385 280.6,386.2 281.2,389.8 283.5,408.1 284.5,414.4 285.5,418.9 286.1,421.2 287.1,423.8 287.4,424.5 287.7,424.8" fill="none" stroke="#3a3acc" stroke-width="0.7" stroke-linejoin="round" />
<polyline points="266.2,413 266.8,412.9 267.5,412.6 268.5,411.6 269.4,409.9 272.1,403.3 272.7,402.4 273,402.2 273.4,402.3 274,402.9 274.7,404.3 277,411.4 277.9,413.8 278.6,415.1 279.2,416 280.6,417.2" fill="none" stroke="#cc44cc" stroke-width="0.7" stroke-linejoin="round" />
<polyline points="260.6,412 261.6,411.5 262.6,410.3 263.6,408.3 265.2,403.8 265.8,402.7 266.2,402.4 266.5,402.4 266.8,402.6 267.5,403.7 269.4,409.7 270.4,412.2 271.4,413.8 272.4,414.7" fill="none" stroke="#33bbbb" stroke-width="0.7" stroke-linejoin="round" />
<polyline points="210.3,406.5 249.8,410.5 264.9,413 277.9,416.5 281.9,417.9 285.1,421.2 287.4,424.9 287.7,425.1 289.7,425.7 290,425.8 308,426" fill="none" stroke="#555" stroke-width="0.6" stroke-linejoin="round" />
<circle cx="210.3" cy="405.96" r="0.6" fill="none" stroke="#666" stroke-width="0.35"/>
<circle cx="211.61" cy="406.03" r="0.6" fill="none" stroke="#666" stroke-width="0.35"/>
<circle cx="212.91" cy="405.96" r="0.6" fill="none" stroke="#666" stroke-width="0.35"/>
<circle cx="214.22" cy="406.45" r="0.6" fill="none" stroke="#666" stroke-width="0.35"/>
<circle cx="215.53" cy="405.9" r="0.6" fill="none" stroke="#666" stroke-width="0.35"/>
<circle cx="216.84" cy="407.06" r="0.6" fill="none" stroke="#666" stroke-width="0.35"/>
<circle cx="218.14" cy="406.84" r="0.6" fill="none" stroke="#666" stroke-width="0.35"/>
<circle cx="219.45" cy="407.4" r="0.6" fill="none" stroke="#666" stroke-width="0.35"/>
<circle cx="220.76" cy="407.59" r="0.6" fill="none" stroke="#666" stroke-width="0.35"/>
<circle cx="222.06" cy="407.05" r="0.6" fill="none" stroke="#666" stroke-width="0.35"/>
<circle cx="223.37" cy="407.2" r="0.6" fill="none" stroke="#666" stroke-width="0.35"/>
<circle cx="224.68" cy="408.02" r="0.6" fill="none" stroke="#666" stroke-width="0.35"/>
<circle cx="225.98" cy="407.3" r="0.6" fill="none" stroke="#666" stroke-width="0.35"/>
<circle cx="227.29" cy="407.08" r="0.6" fill="none" stroke="#666" stroke-width="0.35"/>
<circle cx="228.6" cy="406.42" r="0.6" fill="none" stroke="#666" stroke-width="0.35"/>
<circle cx="229.91" cy="406.04" r="0.6" fill="none" stroke="#666" stroke-width="0.35"/>
<circle cx="231.21" cy="405.85" r="0.6" fill="none" stroke="#666" stroke-width="0.35"/>
<circle cx="232.52" cy="405.13" r="0.6" fill="none" stroke="#666" stroke-width="0.35"/>
<circle cx="233.83" cy="404.09" r="0.6" fill="none" stroke="#666" stroke-width="0.35"/>
<circle cx="235.13" cy="403.68" r="0.6" fill="none" stroke="#666" stroke-width="0.35"/>
<circle cx="236.44" cy="402.74" r="0.6" fill="none" stroke="#666" stroke-width="0.35"/>
<circle cx="237.75" cy="402.04" r="0.6" fill="none" stroke="#666" stroke-width="0.35"/>
<circle cx="239.05" cy="400.89" r="0.6" fill="none" stroke="#666" stroke-width="0.35"/>
<circle cx="240.36" cy="399.65" r="0.6" fill="none" stroke="#666" stroke-width="0.35"/>
<circle cx="241.67" cy="398.94" r="0.6" fill="none" stroke="#666" stroke-width="0.35"/>
<circle cx="242.98" cy="398.28" r="0.6" fill="none" stroke="#666" stroke-width="0.35"/>
<circle cx="244.28" cy="396.14" r="0.6" fill="none" stroke="#666" stroke-width="0.35"/>
<circle cx="245.59" cy="394.14" r="0.6" fill="none" stroke="#666" stroke-width="0.35"/>
<circle cx="246.9" cy="393.06" r="0.6" fill="none" stroke="#666" stroke-width="0.35"/>
<circle cx="248.2" cy="391.85" r="0.6" fill="none" stroke="#666" stroke-width="0.35"/>
<circle cx="249.51" cy="390.98" r="0.6" fill="none" stroke="#666" stroke-width="0.35"/>
<circle cx="250.82" cy="389.92" r="0.6" fill="none" stroke="#666" stroke-width="0.35"/>
<circle cx="252.12" cy="389.55" r="0.6" fill="none" stroke="#666" stroke-width="0.35"/>
<circle cx="253.43" cy="389.59" r="0.6" fill="none" stroke="#666" stroke-width="0.35"/>
<circle cx="254.74" cy="389.99" r="0.6" fill="none" stroke="#666" stroke-width="0.35"/>
<circle cx="256.05" cy="390.77" r="0.6" fill="none" stroke="#666" stroke-width="0.35"/>
<circle cx="257.35" cy="393.2" r="0.6" fill="none" stroke="#666" stroke-width="0.35"/>
<circle cx="258.66" cy="395.57" r="0.6" fill="none" stroke="#666" stroke-width="0.35"/>
<circle cx="259.97" cy="399.22" r="0.6" fill="none" stroke="#666" stroke-width="0.35"/>
<circle cx="261.27" cy="402.91" r="0.6" fill="none" stroke="#666" stroke-width="0.35"/>
<circle cx="262.58" cy="401.88" r="0.6" fill="none" stroke="#666" stroke-width="0.35"/>
<circle cx="263.89" cy="400.64" r="0.6" fill="none" stroke="#666" stroke-width="0.35"/>
<circle cx="265.19" cy="399.31" r="0.6" fill="none" stroke="#666" stroke-width="0.35"/>
<circle cx="266.5" cy="399.91" r="0.6" fill="none" stroke="#666" stroke-width="0.35"/>
<circle cx="267.81" cy="401.33" r="0.6" fill="none" stroke="#666" stroke-width="0.35"/>
<circle cx="269.12" cy="399.89" r="0.6" fill="none" stroke="#666" stroke-width="0.35"/>
<circle cx="270.42" cy="397.89" r="0.6" fill="none" stroke="#666" stroke-width="0.35"/>
<circle cx="271.73" cy="394.71" r="0.6" fill="none" stroke="#666" stroke-width="0.35"/>
<circle cx="273.04" cy="392.16" r="0.6" fill="none" stroke="#666" stroke-width="0.35"/>
<circle cx="274.34" cy="388.28" r="0.6" fill="none" stroke="#666" stroke-width="0.35"/>
<circle cx="275.65" cy="383.86" r="0.6" fill="none" stroke="#666" stroke-width="0.35"/>
<circle cx="276.96" cy="380.99" r="0.6" fill="none" stroke="#666" stroke-width="0.35"/>
<circle cx="278.27" cy="377.07" r="0.6" fill="none" stroke="#666" stroke-width="0.35"/>
<circle cx="279.57" cy="373.61" r="0.6" fill="none" stroke="#666" stroke-width="0.35"/>
<circle cx="280.88" cy="369.88" r="0.6" fill="none" stroke="#666" stroke-width="0.35"/>
<circle cx="282.19" cy="365.31" r="0.6" fill="none" stroke="#666" stroke-width="0.35"/>
<circle cx="283.49" cy="360.19" r="0.6" fill="none" stroke="#666" stroke-width="0.35"/>
<circle cx="284.8" cy="364.54" r="0.6" fill="none" stroke="#666" stroke-width="0.35"/>
<circle cx="286.11" cy="386.69" r="0.6" fill="none" stroke="#666" stroke-width="0.35"/>
<circle cx="287.41" cy="413.42" r="0.6" fill="none" stroke="#666" stroke-width="0.35"/>
<circle cx="288.72" cy="423.26" r="0.6" fill="none" stroke="#666" stroke-width="0.35"/>
<circle cx="290.03" cy="424.94" r="0.6" fill="none" stroke="#666" stroke-width="0.35"/>
<circle cx="291.34" cy="425.22" r="0.6" fill="none" stroke="#666" stroke-width="0.35"/>
<circle cx="292.64" cy="425.1" r="0.6" fill="none" stroke="#666" stroke-width="0.35"/>
<circle cx="293.95" cy="425.38" r="0.6" fill="none" stroke="#666" stroke-width="0.35"/>
<circle cx="295.26" cy="425.59" r="0.6" fill="none" stroke="#666" stroke-width="0.35"/>
<circle cx="296.56" cy="425.65" r="0.6" fill="none" stroke="#666" stroke-width="0.35"/>
<circle cx="297.87" cy="425.46" r="0.6" fill="none" stroke="#666" stroke-width="0.35"/>
<circle cx="299.18" cy="425.49" r="0.6" fill="none" stroke="#666" stroke-width="0.35"/>
<circle cx="300.48" cy="426.15" r="0.6" fill="none" stroke="#666" stroke-width="0.35"/>
<circle cx="301.79" cy="426.05" r="0.6" fill="none" stroke="#666" stroke-width="0.35"/>
<circle cx="303.1" cy="425.54" r="0.6" fill="none" stroke="#666" stroke-width="0.35"/>
<circle cx="304.41" cy="425.93" r="0.6" fill="none" stroke="#666" stroke-width="0.35"/>
<circle cx="305.71" cy="426.04" r="0.6" fill="none" stroke="#666" stroke-width="0.35"/>
<circle cx="307.02" cy="425.97" r="0.6" fill="none" stroke="#666" stroke-width="0.35"/>
<polyline points="210.3,406.1 218.1,407 225,407.6 231.9,405.5 238.1,401.9 243,397.5 247.9,392.1 250.8,389.7 251.1,389.5 253.4,389 255.4,389.9 258,394 261.3,402.7 261.6,402.8 262.9,401.6 265.5,399.5 265.8,399.6 267.8,401.3 268.1,401.3 270.1,398.8 273,391.9 276,383.1 281.5,367.9 283.5,360.5 284.8,365.3 285.1,368.3 287.4,413.1 288.4,422.9 290,425 294.9,425.5 308,426" fill="none" stroke="#e03030" stroke-width="1.5" stroke-linejoin="round" opacity="0.9" />
<rect x="210" y="349.2" width="98.3" height="79.8" stroke="#888" stroke-width="0.8" fill="none"/>
<circle cx="217.3" cy="361.6" r="0.7" fill="none" stroke="#666" stroke-width="0.4"/>
<text x="224.8" y="363.78" font-size="6.3" font-family="'Liberation Sans', Arial, sans-serif" text-anchor="start" fill="#000">experiment</text>
<line x1="211.6" y1="368.6" x2="223" y2="368.6" stroke="#555" stroke-width="1.1" />
<text x="224.8" y="370.78" font-size="6.3" font-family="'Liberation Sans', Arial, sans-serif" text-anchor="start" fill="#000">C-Ti</text>
<line x1="211.6" y1="375.8" x2="223" y2="375.8" stroke="#3a3acc" stroke-width="1.1" />
<text x="224.8" y="377.98" font-size="6.3" font-family="'Liberation Sans', Arial, sans-serif" text-anchor="start" fill="#000">Ti(II)</text>
<line x1="211.6" y1="382.9" x2="223" y2="382.9" stroke="#cc44cc" stroke-width="1.1" />
<text x="224.8" y="385.08" font-size="6.3" font-family="'Liberation Sans', Arial, sans-serif" text-anchor="start" fill="#000">Ti(III)</text>
<line x1="211.6" y1="389.6" x2="223" y2="389.6" stroke="#33bbbb" stroke-width="1.1" />
<text x="224.8" y="391.78" font-size="6.3" font-family="'Liberation Sans', Arial, sans-serif" text-anchor="start" fill="#000">TiO<tspan font-size="4" dy="1.2">2</tspan></text>
<line x1="211.6" y1="397.8" x2="223" y2="397.8" stroke="#e03030" stroke-width="1.1" />
<text x="224.8" y="399.98" font-size="6.3" font-family="'Liberation Sans', Arial, sans-serif" text-anchor="start" fill="#000">total</text>
<text x="211.1" y="357.2" font-size="7.5" font-family="'Liberation Sans', Arial, sans-serif" text-anchor="start" fill="#000">Ti 2p</text>
<line x1="241" y1="368.3" x2="251" y2="368.3" stroke="#000" stroke-width="0.6" />
<polygon points="253,368.3 249.5,366.8 249.5,369.8" fill="#000"/>
<text x="257.4" y="368.3" font-size="5.2" font-family="'Liberation Sans', Arial, sans-serif" text-anchor="start" fill="#000">454.9 eV</text>
<text x="257.4" y="374.7" font-size="5.2" font-family="'Liberation Sans', Arial, sans-serif" text-anchor="start" fill="#000">2p<tspan font-size="3.4" dy="1">3/2</tspan></text>
<line x1="211.1" y1="429" x2="211.1" y2="427" stroke="#000" stroke-width="0.6" />
<text x="211.1" y="434.05" font-size="3.6" font-family="'Liberation Sans', Arial, sans-serif" text-anchor="middle" fill="#000">470</text>
<line x1="235.22" y1="429" x2="235.22" y2="427" stroke="#000" stroke-width="0.6" />
<text x="235.22" y="434.05" font-size="3.6" font-family="'Liberation Sans', Arial, sans-serif" text-anchor="middle" fill="#000">465</text>
<line x1="259.35" y1="429" x2="259.35" y2="427" stroke="#000" stroke-width="0.6" />
<text x="259.35" y="434.05" font-size="3.6" font-family="'Liberation Sans', Arial, sans-serif" text-anchor="middle" fill="#000">460</text>
<line x1="283.48" y1="429" x2="283.48" y2="427" stroke="#000" stroke-width="0.6" />
<text x="283.48" y="434.05" font-size="3.6" font-family="'Liberation Sans', Arial, sans-serif" text-anchor="middle" fill="#000">455</text>
<line x1="307.6" y1="429" x2="307.6" y2="427" stroke="#000" stroke-width="0.6" />
<text x="307.6" y="434.05" font-size="3.6" font-family="'Liberation Sans', Arial, sans-serif" text-anchor="middle" fill="#000">450</text>
<line x1="210" y1="423.1" x2="212" y2="423.1" stroke="#000" stroke-width="0.6" />
<text x="207.5" y="424.21" font-size="3.2" font-family="'Liberation Sans', Arial, sans-serif" text-anchor="end" fill="#000">1k</text>
<line x1="210" y1="411.8" x2="212" y2="411.8" stroke="#000" stroke-width="0.6" />
<text x="207.5" y="412.91" font-size="3.2" font-family="'Liberation Sans', Arial, sans-serif" text-anchor="end" fill="#000">2k</text>
<line x1="210" y1="400.6" x2="212" y2="400.6" stroke="#000" stroke-width="0.6" />
<text x="207.5" y="401.71" font-size="3.2" font-family="'Liberation Sans', Arial, sans-serif" text-anchor="end" fill="#000">3k</text>
<line x1="210" y1="389.3" x2="212" y2="389.3" stroke="#000" stroke-width="0.6" />
<text x="207.5" y="390.41" font-size="3.2" font-family="'Liberation Sans', Arial, sans-serif" text-anchor="end" fill="#000">4k</text>
<line x1="210" y1="378" x2="212" y2="378" stroke="#000" stroke-width="0.6" />
<text x="207.5" y="379.11" font-size="3.2" font-family="'Liberation Sans', Arial, sans-serif" text-anchor="end" fill="#000">5k</text>
<line x1="210" y1="367" x2="212" y2="367" stroke="#000" stroke-width="0.6" />
<text x="207.5" y="368.11" font-size="3.2" font-family="'Liberation Sans', Arial, sans-serif" text-anchor="end" fill="#000">6k</text>
<line x1="210" y1="355.5" x2="212" y2="355.5" stroke="#000" stroke-width="0.6" />
<text x="207.5" y="356.61" font-size="3.2" font-family="'Liberation Sans', Arial, sans-serif" text-anchor="end" fill="#000">7k</text>
<text x="257" y="440.15" font-size="6.2" font-family="'Liberation Sans', Arial, sans-serif" text-anchor="middle" fill="#000" textLength="53" lengthAdjust="spacingAndGlyphs">Binding Energy (eV)</text>
<text x="194.5" y="389.18" font-size="6" font-family="'Liberation Sans', Arial, sans-serif" text-anchor="middle" fill="#000" transform="rotate(-90 194.5 387.1)" textLength="36.4" lengthAdjust="spacingAndGlyphs">Intensity (cps)</text>
<polyline points="378.7,419.6 380.3,419.1 383.6,417.3 384.9,417 385.6,417.1 386.6,417.4 389.5,418.9 391.2,419.5" fill="none" stroke="#ee66ee" stroke-width="0.8" stroke-linejoin="round" />
<polyline points="382.3,419.4 383.6,419 384.6,418.6 385.9,417.7 386.9,416.8 387.9,415.6 388.9,414.2 391.8,409 392.8,407.5 393.4,406.7 394.1,406.2 394.8,406 395.1,406 396.1,406.7 397.4,408.4 401.3,416.3 402.9,419 403.9,420.3 404.9,421.2 406.2,422.2 407.5,422.9" fill="none" stroke="#e8a040" stroke-width="0.8" stroke-linejoin="round" />
<polyline points="390.8,419.4 391.8,418.8 392.5,417.8 392.8,417 393.4,414.8 394.1,411.5 394.8,406.6 395.4,400.4 397.7,373.9 398.4,369 398.7,367.6 399,367 399.3,367.3 399.7,368.4 400.3,373 402.9,403.9 403.6,410 404.3,414.7 404.9,418 405.6,420.2 406.5,422 407.5,422.9" fill="none" stroke="#44aaaa" stroke-width="0.8" stroke-linejoin="round" />
<polyline points="407.2,422.9 407.9,422.6 408.5,421.8 409.2,420.2 410.8,415.1 411.1,414.5 411.5,414.3 411.8,414.6 412.4,416.1 413.7,421 414.4,422.9 415.1,424 415.7,424.7" fill="none" stroke="#555" stroke-width="0.8" stroke-linejoin="round" />
<polyline points="333.2,420.5 369.9,420.5 384.9,419.5 394.8,420 404.9,422.5 412.1,424.5 420,425.5 431.1,426" fill="none" stroke="#888" stroke-width="0.6" stroke-linejoin="round" />
<circle cx="333.2" cy="420.2" r="0.6" fill="none" stroke="#555" stroke-width="0.35"/>
<circle cx="334.18" cy="420.55" r="0.6" fill="none" stroke="#555" stroke-width="0.35"/>
<circle cx="335.16" cy="421.04" r="0.6" fill="none" stroke="#555" stroke-width="0.35"/>
<circle cx="336.15" cy="420.2" r="0.6" fill="none" stroke="#555" stroke-width="0.35"/>
<circle cx="337.13" cy="419.85" r="0.6" fill="none" stroke="#555" stroke-width="0.35"/>
<circle cx="338.11" cy="420.63" r="0.6" fill="none" stroke="#555" stroke-width="0.35"/>
<circle cx="339.09" cy="421.23" r="0.6" fill="none" stroke="#555" stroke-width="0.35"/>
<circle cx="340.08" cy="419.76" r="0.6" fill="none" stroke="#555" stroke-width="0.35"/>
<circle cx="341.06" cy="420.61" r="0.6" fill="none" stroke="#555" stroke-width="0.35"/>
<circle cx="342.04" cy="420.46" r="0.6" fill="none" stroke="#555" stroke-width="0.35"/>
<circle cx="343.02" cy="420.37" r="0.6" fill="none" stroke="#555" stroke-width="0.35"/>
<circle cx="344.01" cy="419.4" r="0.6" fill="none" stroke="#555" stroke-width="0.35"/>
<circle cx="344.99" cy="419.59" r="0.6" fill="none" stroke="#555" stroke-width="0.35"/>
<circle cx="345.97" cy="420.81" r="0.6" fill="none" stroke="#555" stroke-width="0.35"/>
<circle cx="346.95" cy="419.62" r="0.6" fill="none" stroke="#555" stroke-width="0.35"/>
<circle cx="347.93" cy="420.35" r="0.6" fill="none" stroke="#555" stroke-width="0.35"/>
<circle cx="348.92" cy="420.4" r="0.6" fill="none" stroke="#555" stroke-width="0.35"/>
<circle cx="349.9" cy="420.56" r="0.6" fill="none" stroke="#555" stroke-width="0.35"/>
<circle cx="350.88" cy="420.21" r="0.6" fill="none" stroke="#555" stroke-width="0.35"/>
<circle cx="351.86" cy="420.02" r="0.6" fill="none" stroke="#555" stroke-width="0.35"/>
<circle cx="352.85" cy="420.02" r="0.6" fill="none" stroke="#555" stroke-width="0.35"/>
<circle cx="353.83" cy="420.23" r="0.6" fill="none" stroke="#555" stroke-width="0.35"/>
<circle cx="354.81" cy="420.21" r="0.6" fill="none" stroke="#555" stroke-width="0.35"/>
<circle cx="355.79" cy="420.35" r="0.6" fill="none" stroke="#555" stroke-width="0.35"/>
<circle cx="356.77" cy="419.65" r="0.6" fill="none" stroke="#555" stroke-width="0.35"/>
<circle cx="357.76" cy="419.99" r="0.6" fill="none" stroke="#555" stroke-width="0.35"/>
<circle cx="358.74" cy="420.95" r="0.6" fill="none" stroke="#555" stroke-width="0.35"/>
<circle cx="359.72" cy="420.8" r="0.6" fill="none" stroke="#555" stroke-width="0.35"/>
<circle cx="360.7" cy="420.28" r="0.6" fill="none" stroke="#555" stroke-width="0.35"/>
<circle cx="361.69" cy="419.63" r="0.6" fill="none" stroke="#555" stroke-width="0.35"/>
<circle cx="362.67" cy="420.75" r="0.6" fill="none" stroke="#555" stroke-width="0.35"/>
<circle cx="363.65" cy="419.94" r="0.6" fill="none" stroke="#555" stroke-width="0.35"/>
<circle cx="364.63" cy="419.66" r="0.6" fill="none" stroke="#555" stroke-width="0.35"/>
<circle cx="365.62" cy="421.07" r="0.6" fill="none" stroke="#555" stroke-width="0.35"/>
<circle cx="366.6" cy="419.8" r="0.6" fill="none" stroke="#555" stroke-width="0.35"/>
<circle cx="367.58" cy="420.56" r="0.6" fill="none" stroke="#555" stroke-width="0.35"/>
<circle cx="368.56" cy="420.24" r="0.6" fill="none" stroke="#555" stroke-width="0.35"/>
<circle cx="369.54" cy="419.84" r="0.6" fill="none" stroke="#555" stroke-width="0.35"/>
<circle cx="370.53" cy="419.6" r="0.6" fill="none" stroke="#555" stroke-width="0.35"/>
<circle cx="371.51" cy="420.46" r="0.6" fill="none" stroke="#555" stroke-width="0.35"/>
<circle cx="372.49" cy="419.29" r="0.6" fill="none" stroke="#555" stroke-width="0.35"/>
<circle cx="373.47" cy="419.57" r="0.6" fill="none" stroke="#555" stroke-width="0.35"/>
<circle cx="374.46" cy="419.47" r="0.6" fill="none" stroke="#555" stroke-width="0.35"/>
<circle cx="375.44" cy="419.53" r="0.6" fill="none" stroke="#555" stroke-width="0.35"/>
<circle cx="376.42" cy="418.76" r="0.6" fill="none" stroke="#555" stroke-width="0.35"/>
<circle cx="377.4" cy="418.55" r="0.6" fill="none" stroke="#555" stroke-width="0.35"/>
<circle cx="378.38" cy="418.05" r="0.6" fill="none" stroke="#555" stroke-width="0.35"/>
<circle cx="379.37" cy="417.86" r="0.6" fill="none" stroke="#555" stroke-width="0.35"/>
<circle cx="380.35" cy="417.52" r="0.6" fill="none" stroke="#555" stroke-width="0.35"/>
<circle cx="381.33" cy="417.83" r="0.6" fill="none" stroke="#555" stroke-width="0.35"/>
<circle cx="382.31" cy="417.07" r="0.6" fill="none" stroke="#555" stroke-width="0.35"/>
<circle cx="383.3" cy="416.8" r="0.6" fill="none" stroke="#555" stroke-width="0.35"/>
<circle cx="384.28" cy="417.84" r="0.6" fill="none" stroke="#555" stroke-width="0.35"/>
<circle cx="385.26" cy="416.54" r="0.6" fill="none" stroke="#555" stroke-width="0.35"/>
<circle cx="386.24" cy="415.61" r="0.6" fill="none" stroke="#555" stroke-width="0.35"/>
<circle cx="387.23" cy="415.3" r="0.6" fill="none" stroke="#555" stroke-width="0.35"/>
<circle cx="388.21" cy="413.89" r="0.6" fill="none" stroke="#555" stroke-width="0.35"/>
<circle cx="389.19" cy="414.07" r="0.6" fill="none" stroke="#555" stroke-width="0.35"/>
<circle cx="390.17" cy="412.84" r="0.6" fill="none" stroke="#555" stroke-width="0.35"/>
<circle cx="391.15" cy="410.8" r="0.6" fill="none" stroke="#555" stroke-width="0.35"/>
<circle cx="392.14" cy="409.3" r="0.6" fill="none" stroke="#555" stroke-width="0.35"/>
<circle cx="393.12" cy="408.4" r="0.6" fill="none" stroke="#555" stroke-width="0.35"/>
<circle cx="394.1" cy="405.6" r="0.6" fill="none" stroke="#555" stroke-width="0.35"/>
<circle cx="395.08" cy="403.15" r="0.6" fill="none" stroke="#555" stroke-width="0.35"/>
<circle cx="396.07" cy="393.87" r="0.6" fill="none" stroke="#555" stroke-width="0.35"/>
<circle cx="397.05" cy="384.67" r="0.6" fill="none" stroke="#555" stroke-width="0.35"/>
<circle cx="398.03" cy="373.35" r="0.6" fill="none" stroke="#555" stroke-width="0.35"/>
<circle cx="399.01" cy="360.02" r="0.6" fill="none" stroke="#555" stroke-width="0.35"/>
<circle cx="399.99" cy="365.57" r="0.6" fill="none" stroke="#555" stroke-width="0.35"/>
<circle cx="400.98" cy="371.86" r="0.6" fill="none" stroke="#555" stroke-width="0.35"/>
<circle cx="401.96" cy="387.68" r="0.6" fill="none" stroke="#555" stroke-width="0.35"/>
<circle cx="402.94" cy="403.83" r="0.6" fill="none" stroke="#555" stroke-width="0.35"/>
<circle cx="403.92" cy="411.26" r="0.6" fill="none" stroke="#555" stroke-width="0.35"/>
<circle cx="404.91" cy="418.66" r="0.6" fill="none" stroke="#555" stroke-width="0.35"/>
<circle cx="405.89" cy="418.25" r="0.6" fill="none" stroke="#555" stroke-width="0.35"/>
<circle cx="406.87" cy="416.22" r="0.6" fill="none" stroke="#555" stroke-width="0.35"/>
<circle cx="407.85" cy="406.95" r="0.6" fill="none" stroke="#555" stroke-width="0.35"/>
<circle cx="408.84" cy="397.6" r="0.6" fill="none" stroke="#555" stroke-width="0.35"/>
<circle cx="409.82" cy="386.15" r="0.6" fill="none" stroke="#555" stroke-width="0.35"/>
<circle cx="410.8" cy="375.02" r="0.6" fill="none" stroke="#555" stroke-width="0.35"/>
<circle cx="411.78" cy="370.1" r="0.6" fill="none" stroke="#555" stroke-width="0.35"/>
<circle cx="412.76" cy="383.78" r="0.6" fill="none" stroke="#555" stroke-width="0.35"/>
<circle cx="413.75" cy="398.18" r="0.6" fill="none" stroke="#555" stroke-width="0.35"/>
<circle cx="414.73" cy="413.69" r="0.6" fill="none" stroke="#555" stroke-width="0.35"/>
<circle cx="415.71" cy="420.02" r="0.6" fill="none" stroke="#555" stroke-width="0.35"/>
<circle cx="416.69" cy="422.64" r="0.6" fill="none" stroke="#555" stroke-width="0.35"/>
<circle cx="417.68" cy="424.21" r="0.6" fill="none" stroke="#555" stroke-width="0.35"/>
<circle cx="418.66" cy="425.48" r="0.6" fill="none" stroke="#555" stroke-width="0.35"/>
<circle cx="419.64" cy="425.08" r="0.6" fill="none" stroke="#555" stroke-width="0.35"/>
<circle cx="420.62" cy="425.24" r="0.6" fill="none" stroke="#555" stroke-width="0.35"/>
<circle cx="421.6" cy="425.34" r="0.6" fill="none" stroke="#555" stroke-width="0.35"/>
<circle cx="422.59" cy="424.41" r="0.6" fill="none" stroke="#555" stroke-width="0.35"/>
<circle cx="423.57" cy="425.64" r="0.6" fill="none" stroke="#555" stroke-width="0.35"/>
<circle cx="424.55" cy="425.85" r="0.6" fill="none" stroke="#555" stroke-width="0.35"/>
<circle cx="425.53" cy="425.16" r="0.6" fill="none" stroke="#555" stroke-width="0.35"/>
<circle cx="426.52" cy="425.45" r="0.6" fill="none" stroke="#555" stroke-width="0.35"/>
<circle cx="427.5" cy="425.42" r="0.6" fill="none" stroke="#555" stroke-width="0.35"/>
<circle cx="428.48" cy="425.45" r="0.6" fill="none" stroke="#555" stroke-width="0.35"/>
<circle cx="429.46" cy="426.31" r="0.6" fill="none" stroke="#555" stroke-width="0.35"/>
<circle cx="430.45" cy="425.51" r="0.6" fill="none" stroke="#555" stroke-width="0.35"/>
<polyline points="333.2,420.2 333.5,421 334.2,420.5 334.5,419.6 335.2,421 335.8,420 336.1,420.2 336.5,419.5 336.8,420.3 337.1,419.8 337.5,419.7 337.8,419.8 338.1,420.6 338.4,419.6 338.8,419 339.1,421.2 339.4,420.1 339.7,420.1 340.1,419.8 340.4,420.8 340.7,420.6 341.4,420.5 341.7,420.7 342.4,420.2 342.7,420.7 343.4,420 343.7,420.4 344,419.4 344.3,420.3 345,419.6 345.6,421.1 346.3,420.5 346.6,419.9 347,419.6 347.3,420.1 347.6,419.9 348.3,421 348.9,420.4 349.2,420.4 349.6,419.6 349.9,420.6 350.6,419.9 350.9,420.2 351.2,420.1 351.5,420.5 351.9,420 352.2,420.7 352.5,420.3 352.8,420 353.2,420.9 353.5,420.2 353.8,420.2 354.2,419.8 354.5,420.8 354.8,420.2 355.1,420.5 355.5,420.1 355.8,420.3 356.1,419.7 356.4,420 356.8,419.6 357.4,420.5 357.8,420 358.4,420.3 358.7,421 359.1,420.6 359.4,419.5 359.7,420.8 360,419.4 360.4,419.5 361,420.9 361.4,419.8 361.7,419.6 362.3,420.2 362.7,420.7 363,420.2 363.3,420 363.7,419.9 364.3,420.3 364.6,419.7 365.3,420.4 365.6,421.1 366.3,419.1 366.9,420.2 367.3,419.9 367.6,420.6 367.9,419.9 368.2,420.3 368.6,420.2 368.9,419.8 369.5,419.8 369.9,419.5 370.2,420 370.5,419.6 370.9,419.8 371.2,419.3 371.5,420.5 371.8,419.9 372.2,420.2 372.5,419.3 372.8,419.4 373.1,419.7 373.8,419.5 374.1,419.7 374.5,419.5 374.8,419.7 375.1,418.9 375.4,419.5 375.8,417.5 376.1,419.1 376.7,418.6 377.1,418.7 377.4,418.6 377.7,418.7 378.1,418 378.4,418.1 378.7,418.4 379,417.9 379.4,417.9 379.7,418.2 380.7,417.3 381,417.8 381.3,417.8 382,417.5 382.6,416.7 383,416.9 383.6,416.5 384,416.8 384.3,417.8 384.6,416.2 384.9,416.2 385.3,416.5 385.6,415.8 385.9,415.8 386.6,415.5 386.9,415.7 387.2,415.3 387.6,414.2 387.9,414.4 388.2,413.9 388.5,414.2 388.9,413.6 389.2,414.1 389.5,414.2 389.8,413 390.5,412.7 391.2,410.8 391.5,411.2 391.8,410.7 392.1,409.3 392.5,409.7 393.4,407.9 393.8,406.4 394.1,405.6 394.4,406 395.1,403.1 396.1,393.9 396.4,391.8 397,384.7 399,360 399.7,363 401,371.9 402.9,403.8 403.6,410.2 403.9,411.3 404.9,418.7 405.2,419.6 405.6,419.1 406.2,417.4 406.9,416.2 407.5,410.5 408.5,399.3 408.8,397.6 409.5,388.7 409.8,386.2 411.5,366.6 412.8,383.8 414.7,413.7 415.1,417.2 415.7,420 416,419.9 416.4,420.5 416.7,422.6 417,423 417.3,423.1 418,425.9 418.3,424.5 418.7,425.5 419.6,425.1 420,425.5 420.3,424.8 420.9,425.8 421.3,425.2 421.9,425.7 422.3,424.6 422.6,424.4 422.9,426 423.2,425.5 423.6,425.6 423.9,425.2 424.6,425.8 424.9,425.5 425.9,424.9 426.2,424.5 426.5,425.5 426.8,425.5 427.2,426.8 427.5,425.4 427.8,425.2 428.2,426.6 428.5,425.4 428.8,425.6 429.1,426.3 429.8,426.3 430.1,426.2 430.4,425.5 431.1,425.8" fill="none" stroke="#777" stroke-width="0.6" stroke-linejoin="round" />
<polyline points="333.2,420.3 360,420.2 370.2,420 376.1,419 381.7,417.4 385.9,416 389.8,413.1 393.1,408.7 394.8,404.6 395.1,403.2 397,384.4 399,360.8 399.3,361.3 401,371.9 402.9,404 404.9,418.8 405.2,419.9 406.9,416.3 407.2,413.9 411.5,367 413.1,388.5 415.1,418.1 418,425 431.1,426" fill="none" stroke="#e03030" stroke-width="1.5" stroke-linejoin="round" opacity="0.9" />
<rect x="332.9" y="349.1" width="98.5" height="78.9" stroke="#888" stroke-width="0.8" fill="none"/>
<circle cx="345.45" cy="366.5" r="0.7" fill="none" stroke="#666" stroke-width="0.4"/>
<text x="354.8" y="368.99" font-size="7.2" font-family="'Liberation Sans', Arial, sans-serif" text-anchor="start" fill="#000">experiment</text>
<line x1="337.9" y1="374.9" x2="353" y2="374.9" stroke="#555" stroke-width="1.1" />
<text x="354.8" y="377.39" font-size="7.2" font-family="'Liberation Sans', Arial, sans-serif" text-anchor="start" fill="#000">Ti-<tspan font-weight="bold">C</tspan></text>
<line x1="337.9" y1="383.3" x2="353" y2="383.3" stroke="#44aaaa" stroke-width="1.1" />
<text x="354.8" y="385.79" font-size="7.2" font-family="'Liberation Sans', Arial, sans-serif" text-anchor="start" fill="#000">C-<tspan font-weight="bold">C</tspan></text>
<line x1="337.9" y1="391.7" x2="353" y2="391.7" stroke="#e8a040" stroke-width="1.1" />
<text x="354.8" y="394.19" font-size="7.2" font-family="'Liberation Sans', Arial, sans-serif" text-anchor="start" fill="#000"><tspan font-weight="bold">C</tspan>-H</text>
<line x1="337.9" y1="399.9" x2="353" y2="399.9" stroke="#ee66ee" stroke-width="1.1" />
<text x="354.8" y="402.39" font-size="7.2" font-family="'Liberation Sans', Arial, sans-serif" text-anchor="start" fill="#000"><tspan font-weight="bold">C</tspan>OO</text>
<line x1="337.9" y1="408.3" x2="353" y2="408.3" stroke="#e03030" stroke-width="1.1" />
<text x="354.8" y="410.79" font-size="7.2" font-family="'Liberation Sans', Arial, sans-serif" text-anchor="start" fill="#000">total</text>
<text x="333.8" y="356.85" font-size="8.5" font-family="'Liberation Sans', Arial, sans-serif" text-anchor="start" fill="#000">C 1s</text>
<text x="403.7" y="362.68" font-size="6.3" font-family="'Liberation Sans', Arial, sans-serif" text-anchor="start" fill="#000">282.0 eV</text>
<line x1="332.9" y1="428" x2="332.9" y2="426" stroke="#000" stroke-width="0.6" />
<text x="332.9" y="433.85" font-size="3.6" font-family="'Liberation Sans', Arial, sans-serif" text-anchor="middle" fill="#000">300</text>
<line x1="354.75" y1="428" x2="354.75" y2="426" stroke="#000" stroke-width="0.6" />
<text x="354.75" y="433.85" font-size="3.6" font-family="'Liberation Sans', Arial, sans-serif" text-anchor="middle" fill="#000">295</text>
<line x1="376.6" y1="428" x2="376.6" y2="426" stroke="#000" stroke-width="0.6" />
<text x="376.6" y="433.85" font-size="3.6" font-family="'Liberation Sans', Arial, sans-serif" text-anchor="middle" fill="#000">290</text>
<line x1="398.45" y1="428" x2="398.45" y2="426" stroke="#000" stroke-width="0.6" />
<text x="398.45" y="433.85" font-size="3.6" font-family="'Liberation Sans', Arial, sans-serif" text-anchor="middle" fill="#000">285</text>
<line x1="420.3" y1="428" x2="420.3" y2="426" stroke="#000" stroke-width="0.6" />
<text x="420.3" y="433.85" font-size="3.6" font-family="'Liberation Sans', Arial, sans-serif" text-anchor="middle" fill="#000">280</text>
<line x1="332.9" y1="425" x2="334.9" y2="425" stroke="#000" stroke-width="0.6" />
<text x="330.4" y="426.04" font-size="3" font-family="'Liberation Sans', Arial, sans-serif" text-anchor="end" fill="#000">0.5k</text>
<line x1="332.9" y1="414" x2="334.9" y2="414" stroke="#000" stroke-width="0.6" />
<text x="330.4" y="415.04" font-size="3" font-family="'Liberation Sans', Arial, sans-serif" text-anchor="end" fill="#000">1.0k</text>
<line x1="332.9" y1="401.2" x2="334.9" y2="401.2" stroke="#000" stroke-width="0.6" />
<text x="330.4" y="402.24" font-size="3" font-family="'Liberation Sans', Arial, sans-serif" text-anchor="end" fill="#000">1.5k</text>
<line x1="332.9" y1="388.4" x2="334.9" y2="388.4" stroke="#000" stroke-width="0.6" />
<text x="330.4" y="389.44" font-size="3" font-family="'Liberation Sans', Arial, sans-serif" text-anchor="end" fill="#000">2.0k</text>
<line x1="332.9" y1="376.2" x2="334.9" y2="376.2" stroke="#000" stroke-width="0.6" />
<text x="330.4" y="377.24" font-size="3" font-family="'Liberation Sans', Arial, sans-serif" text-anchor="end" fill="#000">2.5k</text>
<line x1="332.9" y1="364.1" x2="334.9" y2="364.1" stroke="#000" stroke-width="0.6" />
<text x="330.4" y="365.14" font-size="3" font-family="'Liberation Sans', Arial, sans-serif" text-anchor="end" fill="#000">3.0k</text>
<line x1="332.9" y1="352.4" x2="334.9" y2="352.4" stroke="#000" stroke-width="0.6" />
<text x="330.4" y="353.44" font-size="3" font-family="'Liberation Sans', Arial, sans-serif" text-anchor="end" fill="#000">3.5k</text>
<text x="379.8" y="439.35" font-size="6.2" font-family="'Liberation Sans', Arial, sans-serif" text-anchor="middle" fill="#000" textLength="52" lengthAdjust="spacingAndGlyphs">Binding Energy (eV)</text>
<text x="318.7" y="389.18" font-size="6" font-family="'Liberation Sans', Arial, sans-serif" text-anchor="middle" fill="#000" transform="rotate(-90 318.7 387.1)" textLength="36.4" lengthAdjust="spacingAndGlyphs">Intensity (cps)</text>
<polyline points="23.6,524.5 118.8,526.7" fill="none" stroke="#5588dd" stroke-width="0.8" stroke-linejoin="round" />
<polyline points="57,525 58.3,524.8 59.6,524.3 60.9,523.5 63.7,521.5 64.7,521.1 65.6,521 66.3,521.1 67.2,521.5 70.4,523.9 71.7,524.7 73,525.2 74.2,525.5" fill="none" stroke="#66bb88" stroke-width="0.8" stroke-linejoin="round" />
<polyline points="31.6,524.5 49.1,524.6 54.8,524.4 58.9,524.1 62.1,523.7 64.7,523 66.6,522 67.9,520.8 68.8,519.3 69.8,517 70.7,513.4 71.4,510.2 72,506.3 73,498.8 75.8,471.2 76.5,467 76.8,465.6 77.1,464.9 77.4,464.8 77.7,465.3 78,466.5 78.7,470.5 81.5,498.1 82.8,508 83.5,511.7 84.4,515.9 85.4,518.8 86.3,520.7 87.6,522.2 89.2,523.2 91.4,524.1 94.3,524.7 98.1,525.3 103.2,525.7 118.8,526.4" fill="none" stroke="#b8a0d8" stroke-width="0.8" stroke-linejoin="round" />
<polyline points="23.6,524.5 23.9,524.3 24.2,524.6 24.6,524.4 24.9,524.5 25.2,523.8 25.5,524.4 25.8,524.2 26.1,524.6 26.5,524.4 26.8,524.6 27.1,524.6 27.4,524.3 27.7,524.3 28.1,524.7 28.4,524.8 28.7,524.3 29,524.1 29.3,524.7 29.6,524.1 30,524.5 30.3,524 30.6,524.8 31.6,524.2 31.9,523.8 32.2,524.5 32.5,524.7 32.8,524.6 33.2,524.2 33.5,524.7 33.8,524.6 34.1,524.1 34.4,524.1 34.7,524.3 35.1,524.9 35.4,524.4 35.7,525 36,524.9 36.3,524.1 36.7,524.5 37,525.4 37.3,524.6 37.6,524.8 38.6,524.4 38.9,524.7 39.8,524.8 40.2,524.3 40.5,524.4 40.8,524.8 41.1,524.6 41.4,524.1 41.7,524.4 42.1,525.2 42.4,524.5 43.3,524.7 43.7,524.3 44,524.4 44.3,525 44.6,524.4 45.3,525 45.6,524.6 45.9,524.6 46.2,524.4 46.5,524.4 46.8,524.9 47.8,524.5 48.1,525 48.4,525 49.1,524.4 49.4,524.3 49.7,525.1 50,525.2 50.3,524.4 50.7,524.6 51,524 51.3,524.3 51.6,525 51.9,524.7 52.3,524.7 52.9,524.2 53.5,524.7 53.8,524.5 54.5,524.6 54.8,524.2 55.1,524.4 55.4,524.1 55.8,524 56.1,524.4 56.4,523.8 56.7,524.5 57.3,523.6 57.7,523.7 58,523.5 58.3,523.9 58.9,523.4 59.3,523.6 59.6,523 60.5,522 60.9,522.1 61.2,521.9 61.5,521.4 62.1,520.9 62.4,521 62.8,520.3 63.1,520.2 64,518.7 64.4,518.6 64.7,518.7 65,518.2 65.3,518.5 65.9,517.5 66.3,517.9 66.6,517.6 66.9,518.1 67.5,517.1 67.9,517.3 68.2,516.7 68.5,516.4 68.8,516.4 69.1,516.2 69.4,515.4 69.8,515.1 70.1,513.6 70.4,513.2 71.4,509.2 72,505.8 73.6,493.3 75.8,471 76.5,466.9 77.1,464.7 77.4,464.6 78.4,468 79,472.8 81.9,501.4 82.8,507.9 83.5,511.9 84.1,514.8 85.1,518 86,520.5 86.3,520.3 86.6,520.8 87,521.8 87.6,522 88.2,522.9 88.6,522.7 88.9,523.3 89.2,523.2 89.5,523.7 89.8,523 90.1,524.1 90.5,523.7 90.8,524.2 91.1,523.8 91.7,524.4 92.1,524.3 92.7,524.2 93,524.3 93.3,524.7 93.6,524.4 94,524.8 94.9,524.7 95.2,524.8 95.6,524.4 95.9,525.1 96.2,524.9 96.5,525.4 96.8,524.9 97.1,524.9 97.5,525.2 98.4,524.8 99.4,525.6 99.7,525.6 100,525.2 100.3,525.7 100.7,525.3 101.3,525.5 101.6,525.4 102.2,526 102.6,525.4 102.9,525.8 103.2,525.7 103.5,525.9 103.8,525.6 104.2,526.1 104.8,526 105.1,526.4 105.4,525.7 106.1,526.1 106.4,526.2 106.7,526 107.3,526.3 107.7,525.9 108.3,526 108.6,525.4 108.9,526.2 109.2,526.2 109.6,526.6 109.9,525.7 110.2,526.2 110.8,526.3 111.5,525.4 111.8,526.2 112.1,526.3 112.4,526.3 112.8,526 113.1,526 113.4,526.2 113.7,526 114,526 114.3,526.4 114.7,526.4 115,526 115.3,525.9 115.9,526.5 116.3,526.3 116.6,526.5 117.2,526.7 117.5,526.3 118.2,526.6 118.8,526.2" fill="none" stroke="#e04050" stroke-width="1.3" stroke-linejoin="round" />
<rect x="23.3" y="453.8" width="95.8" height="78.2" stroke="#888" stroke-width="0.9" fill="none"/>
<rect x="96.2" y="459.1" width="18.6" height="10.4" fill="#111" opacity="1"/>
<rect x="95" y="457.9" width="18.6" height="10.4" stroke="#555" stroke-width="0.4" fill="#fff"/>
<line x1="96.2" y1="460.5" x2="104.67" y2="460.5" stroke="#66bb88" stroke-width="0.8" />
<text x="105.79" y="461.68" font-size="3.4" font-family="'Liberation Sans', Arial, sans-serif" text-anchor="start" fill="#000">F-C</text>
<line x1="96.2" y1="465.7" x2="104.67" y2="465.7" stroke="#b8a0d8" stroke-width="0.8" />
<text x="105.79" y="466.88" font-size="3.4" font-family="'Liberation Sans', Arial, sans-serif" text-anchor="start" fill="#000">F-Ti</text>
<line x1="47.4" y1="532" x2="47.4" y2="533.6" stroke="#666" stroke-width="0.6" />
<line x1="76.85" y1="532" x2="76.85" y2="533.6" stroke="#666" stroke-width="0.6" />
<line x1="106.3" y1="532" x2="106.3" y2="533.6" stroke="#666" stroke-width="0.6" />
<text x="47.4" y="538.13" font-size="5" font-family="'Liberation Sans', Arial, sans-serif" text-anchor="middle" fill="#000">690</text>
<text x="76.85" y="538.13" font-size="5" font-family="'Liberation Sans', Arial, sans-serif" text-anchor="middle" fill="#000">685</text>
<text x="106.3" y="538.13" font-size="5" font-family="'Liberation Sans', Arial, sans-serif" text-anchor="middle" fill="#000">680</text>
<text x="30.9" y="483.09" font-size="4.3" font-family="'Liberation Sans', Arial, sans-serif" text-anchor="start" fill="#000">F1s</text>
<text x="30.9" y="493.09" font-size="4.3" font-family="'Liberation Sans', Arial, sans-serif" text-anchor="start" fill="#000">MXene</text>
<text x="3.4" y="463.99" font-size="11.8" font-family="'Liberation Serif', 'Times New Roman', serif" text-anchor="start" fill="#000" font-weight="bold">(h)</text>
<text x="71.1" y="545.4" font-size="4.9" font-family="'Liberation Sans', Arial, sans-serif" text-anchor="middle" fill="#000" textLength="42" lengthAdjust="spacingAndGlyphs">Binding energy (eV)</text>
<text x="15.5" y="491.39" font-size="4.6" font-family="'Liberation Sans', Arial, sans-serif" text-anchor="middle" fill="#000" transform="rotate(-90 15.5 489.8)">Intensity</text>
<polyline points="131.5,508.5 132.4,510 133.3,501 134.2,508.6 135.1,505.9 136,505 136.9,502.7 137.8,500.9 138.7,499.6 139.6,519.4 140.5,504 141.4,506.2 142.3,497.1 143.2,507.7 144.1,507.6 145,505.1 145.9,511.8 146.8,510.9 147.7,511.7 148.6,509.4 149.5,501.4 150.4,505.6 151.3,516.4 152.2,519.2 153.1,510.8 154.9,500.2 155.8,508.8 156.7,501.2 157.6,498 158.5,506.5 159.4,507.5 160.3,500.1 161.2,504 162.1,504.2 163,510.1 163.9,494.4 164.8,503.2 165.7,505.7 166.6,501.6 167.5,507.4 168.4,508.8 169.3,505.8 170.2,502 171.1,509 172,505.9 172.9,503.6 173.8,516 174.7,514.6 175.6,498.5 176.5,502 177.4,503.4 178.3,506.9 179.2,497.5 180.1,503.2 181,507.9 181.9,499 182.8,509.9 183.7,510.8 184.6,498.1 185.5,506.2 186.4,503.3 187.3,495.7 188.2,505.3 189.1,502.9 190,499.2 190.9,499.3 191.8,503.9 192.7,507 193.6,511.2 194.5,496.2 195.4,519.6 196.3,499 197.2,506.3 198.1,505.6 199,501.4 199.9,507.5 200.8,509.3 201.7,509.8 203.5,498.1 204.4,498 206.2,505.9 207.1,503.6 208,503.1 208.9,506.2 209.8,493.6 210.7,505.3 211.6,502.2 212.5,501.9 213.4,503.5 214.3,500.7 216.1,501.2 217,503.1 217.9,497.2 218.8,501.4 219.7,499 220.6,501.6 221.5,503.5 222.4,500.2 223.3,503.2 224.2,498.8 225.1,499.8" fill="none" stroke="#b0b0b0" stroke-width="0.45" stroke-linejoin="round" />
<polyline points="131.5,504.3 225.1,501.8" fill="none" stroke="#ee5555" stroke-width="1.3" stroke-linejoin="round" />
<rect x="130.5" y="453.6" width="95.9" height="78.6" stroke="#888" stroke-width="0.9" fill="none"/>
<line x1="132.1" y1="532.2" x2="132.1" y2="533.8" stroke="#666" stroke-width="0.6" />
<text x="132.1" y="539.73" font-size="5" font-family="'Liberation Sans', Arial, sans-serif" text-anchor="middle" fill="#000">175</text>
<line x1="163.1" y1="532.2" x2="163.1" y2="533.8" stroke="#666" stroke-width="0.6" />
<text x="163.1" y="539.73" font-size="5" font-family="'Liberation Sans', Arial, sans-serif" text-anchor="middle" fill="#000">170</text>
<line x1="194.1" y1="532.2" x2="194.1" y2="533.8" stroke="#666" stroke-width="0.6" />
<text x="194.1" y="539.73" font-size="5" font-family="'Liberation Sans', Arial, sans-serif" text-anchor="middle" fill="#000">165</text>
<line x1="225.1" y1="532.2" x2="225.1" y2="533.8" stroke="#666" stroke-width="0.6" />
<text x="225.1" y="539.73" font-size="5" font-family="'Liberation Sans', Arial, sans-serif" text-anchor="middle" fill="#000">160</text>
<text x="202.9" y="463.76" font-size="4.8" font-family="'Liberation Sans', Arial, sans-serif" text-anchor="start" fill="#000">S2p</text>
<text x="202.9" y="475.56" font-size="4.8" font-family="'Liberation Sans', Arial, sans-serif" text-anchor="start" fill="#000">MXene</text>
<text x="178.8" y="547.1" font-size="4.9" font-family="'Liberation Sans', Arial, sans-serif" text-anchor="middle" fill="#000" textLength="43" lengthAdjust="spacingAndGlyphs">Binding Energy (eV)</text>
<text x="123.8" y="493.09" font-size="4.6" font-family="'Liberation Sans', Arial, sans-serif" text-anchor="middle" fill="#000" transform="rotate(-90 123.8 491.5)">Intensity</text>
<polyline points="240.6,526 328.5,526.2" fill="none" stroke="#5588dd" stroke-width="0.8" stroke-linejoin="round" />
<polyline points="274.7,525.9 276.2,525.5 277.3,524.8 278.5,523.8 281.5,520.7 282.3,520.2 282.9,520.1 283.8,520.3 284.7,520.9 287.3,523.7 288.5,524.8 289.7,525.4 291.2,525.9" fill="none" stroke="#44aaaa" stroke-width="0.8" stroke-linejoin="round" />
<polyline points="243.5,525.8 262.1,525.5 267.6,525.2 272.1,524.8 275.3,524.3 277.9,523.5 279.7,522.6 281.2,521.1 282.3,519.1 283.2,516.6 284.1,512.9 284.7,509.8 286.2,498.7 289.1,469.1 290,463.4 290.3,462.5 290.6,462.1 290.9,462.4 291.2,463.2 292,468.7 294.7,495.6 296.2,507.6 296.8,511.2 297.6,515.3 298.5,518.2 299.4,520.2 300.6,521.8 302,523 304.1,523.9 306.7,524.5 310.3,525 314.7,525.4 328.5,525.9" fill="none" stroke="#b8a0d8" stroke-width="0.8" stroke-linejoin="round" />
<polyline points="240.6,525.6 240.9,525.7 241.2,525.7 241.5,526.3 241.8,525.1 242.1,525.6 242.7,526 243,525.9 243.2,525.3 243.8,525.9 244.1,525.8 244.4,526.1 245,525.7 245.3,525.7 245.6,525.9 245.9,525.6 246.2,525.7 246.5,526 246.8,525.6 247.1,525.9 247.4,525.1 247.7,525.5 248.2,525.9 248.5,525.7 248.8,525.8 249.1,525.5 249.7,525.9 250,525.5 250.3,525.4 250.6,526 250.9,526.2 251.2,526.1 251.5,525.5 252.1,525.6 252.4,525.8 252.7,525.9 252.9,525.5 253.2,525.8 253.5,525.8 253.8,526.1 254.1,525.6 254.4,525.8 254.7,525.2 255.3,525.8 255.6,525.3 256.2,525.6 256.8,525.4 257.1,525.5 257.7,526 258.2,525.7 258.5,525.9 258.8,525.2 259.1,525.9 259.4,525.6 260,525.4 260.6,525.7 260.9,525.4 261.2,525.3 261.8,525.9 262.4,525.8 262.6,525.3 263.2,525.4 263.5,525.9 263.8,525.3 264.1,525.7 264.4,525.6 264.7,525.2 265.3,525.7 265.9,525.4 266.2,525.6 266.5,524.9 267.6,525.5 267.9,525.1 268.5,525.5 268.8,525.4 269.1,525 269.4,524.9 270,525.1 270.3,524.4 270.6,525.3 270.9,524.9 271.2,525.2 271.5,525.3 271.8,524.7 272.1,524.4 272.3,524.3 272.6,525.1 272.9,524.5 273.2,524.6 273.5,524.2 274.1,524.4 274.4,524.4 275,523.8 275.3,523.9 275.6,523.7 275.9,523.9 276.5,522.9 276.8,523.1 277.1,522.5 277.3,522.8 277.6,522.5 277.9,521.7 278.2,521.3 278.5,521.2 278.8,520.1 279.1,520.3 279.4,519.9 280.6,517.1 280.9,516.8 281.2,516.1 281.5,515.2 281.8,514.9 282.1,513.8 282.3,513.4 282.6,512.1 282.9,511.6 283.5,509.8 284.7,504.8 285.6,498.9 285.9,497.7 287,487.6 289.1,467.7 290.3,461.8 290.6,461.8 290.9,461.9 291.2,462.5 292,468.4 294.1,490.1 295.6,503.6 296.5,509.7 297.3,514.3 297.6,515.2 297.9,516.7 298.5,518.3 299.1,519.4 299.4,520.7 299.7,520.5 300.9,522.3 301.2,522.2 301.7,523 302,522.7 302.3,523.1 302.6,523 303.2,523.6 303.5,523.5 303.8,524.2 304.1,523.5 304.4,524.3 304.7,524 305,524.2 305.3,524 305.6,524.4 305.9,524.4 306.2,524 306.5,524.4 306.7,524.5 307,524.8 307.3,524.3 307.6,524.9 307.9,524.8 308.2,525.2 308.5,524.5 308.8,525.1 309.1,524.2 309.7,524.9 310,524.7 310.3,525.2 310.6,524.9 311.4,525.3 311.7,525 312,525.5 312.3,525.2 312.6,525.4 313.2,525.4 313.5,525.1 314.7,525.5 315,524.9 315.3,524.9 315.6,525.7 315.9,525.2 316.2,525.6 316.4,525.3 316.7,525.6 317,525.6 317.3,525.3 317.6,525.9 317.9,525.9 318.2,525.7 318.5,525.2 319.1,525.8 319.4,525.9 320,525 320.6,525.9 320.9,525.5 321.2,526.1 321.4,525.6 321.7,526.1 322,525.4 322.6,525.9 322.9,525.5 323.2,526.6 323.8,525.7 324.1,525.9 324.4,525.7 324.7,525.8 325,526.1 325.3,525.9 325.6,526.3 325.9,525.8 326.1,526.1 326.4,526 326.7,526.2 327,525.8 327.3,526 327.6,526 327.9,525.5 328.2,526.1 328.5,526" fill="none" stroke="#e04050" stroke-width="1.3" stroke-linejoin="round" />
<rect x="240.3" y="453.8" width="88.5" height="78.2" stroke="#888" stroke-width="0.9" fill="none"/>
<rect x="310.3" y="458.8" width="18.2" height="10.7" fill="#111" opacity="1"/>
<rect x="309.1" y="457.6" width="18.2" height="10.7" stroke="#555" stroke-width="0.4" fill="#fff"/>
<line x1="310.3" y1="460.28" x2="318.56" y2="460.28" stroke="#44aaaa" stroke-width="0.8" />
<text x="319.66" y="461.45" font-size="3.4" font-family="'Liberation Sans', Arial, sans-serif" text-anchor="start" fill="#000">F-C</text>
<line x1="310.3" y1="465.62" x2="318.56" y2="465.62" stroke="#b8a0d8" stroke-width="0.8" />
<text x="319.66" y="466.8" font-size="3.4" font-family="'Liberation Sans', Arial, sans-serif" text-anchor="start" fill="#000">F-Ti</text>
<line x1="263.7" y1="532" x2="263.7" y2="533.6" stroke="#666" stroke-width="0.6" />
<line x1="290.65" y1="532" x2="290.65" y2="533.6" stroke="#666" stroke-width="0.6" />
<line x1="317.6" y1="532" x2="317.6" y2="533.6" stroke="#666" stroke-width="0.6" />
<text x="263.7" y="538.73" font-size="5" font-family="'Liberation Sans', Arial, sans-serif" text-anchor="middle" fill="#000">690</text>
<text x="290.65" y="538.73" font-size="5" font-family="'Liberation Sans', Arial, sans-serif" text-anchor="middle" fill="#000">685</text>
<text x="317.6" y="538.73" font-size="5" font-family="'Liberation Sans', Arial, sans-serif" text-anchor="middle" fill="#000">680</text>
<text x="247.1" y="484.29" font-size="4.3" font-family="'Liberation Sans', Arial, sans-serif" text-anchor="start" fill="#000">F1s</text>
<text x="247.1" y="494.29" font-size="4.3" font-family="'Liberation Sans', Arial, sans-serif" text-anchor="start" fill="#000">MXene-PSS</text>
<text x="229.3" y="463.99" font-size="11.8" font-family="'Liberation Serif', 'Times New Roman', serif" text-anchor="start" fill="#000" font-weight="bold">(i)</text>
<text x="285.5" y="545.29" font-size="4.6" font-family="'Liberation Sans', Arial, sans-serif" text-anchor="middle" fill="#000" textLength="38.7" lengthAdjust="spacingAndGlyphs">Binding energy (eV)</text>
<text x="234.2" y="492.59" font-size="4.6" font-family="'Liberation Sans', Arial, sans-serif" text-anchor="middle" fill="#000" transform="rotate(-90 234.2 491)">Intensity</text>
<polyline points="344.4,522.7 432.6,523.5" fill="none" stroke="#5588dd" stroke-width="0.9" stroke-linejoin="round" />
<polyline points="344.4,522.3 358.6,522 363.3,521.7 367.1,521.3 369.8,520.7 371.5,520.1 373,519.2 374.5,517.8 375.7,516 376.6,514 377.4,511.6 378.3,508.5 379.2,504.7 380.4,498.6 383.3,480.7 384.2,476.1 384.8,473.6 385.4,471.9 386,471.1 386.3,471.1 386.6,471.3 387.2,472.4 387.8,474.3 388.4,476.9 392.2,499.7 394,508.1 394.8,511.4 396,514.6 397.2,517 398.4,518.5 399.9,519.8 401.6,520.7 404,521.4 406.9,521.9 411.1,522.3 416.7,522.7 432.6,523.2" fill="none" stroke="#44aa99" stroke-width="0.8" stroke-linejoin="round" />
<polyline points="344.4,522.5 355,522.3 361.8,521.9 363.9,521.6 365.3,521.2 366.5,520.7 367.7,519.9 368.6,519.1 369.5,518 370.4,516.5 371.2,514.7 373,509.8 376.3,499.1 376.8,497.6 377.4,496.6 378,496.1 378.3,496 378.6,496.1 379.2,496.7 380.1,498.5 381,501 383.9,511 385.7,515.6 386.6,517.3 387.5,518.6 388.4,519.6 389.2,520.4 390.4,521.1 391.9,521.6 393.7,522 396,522.3 403.7,522.8 415.8,523.1" fill="none" stroke="#c8a0d8" stroke-width="0.8" stroke-linejoin="round" />
<polyline points="344.4,518.2 344.7,519 345,519.1 345.3,518.4 345.9,519.4 346.2,518.9 346.8,518.6 347.1,518.2 347.3,519.2 347.9,518.3 348.2,517.3 348.5,518.7 348.8,518.4 349.4,518.8 349.7,518.7 350.3,519.3 350.6,518.6 350.9,519 351.2,518.5 351.5,519.2 351.8,518.7 352.1,518.7 352.4,519 353,518.5 353.5,519.2 354.1,518.6 354.4,519.4 355,518.4 355.3,518.4 355.6,518.7 355.9,519.4 356.2,519.4 356.5,519.2 356.8,518.2 357.1,518.6 357.4,519.4 358,518.9 358.3,519.2 358.6,518.6 358.9,518.9 359.1,519 359.4,518.3 359.7,519.2 360,518.5 360.3,519 360.6,518.1 360.9,519.3 361.2,519.6 361.5,518.2 361.8,518.8 362.1,517.9 362.4,519.3 362.7,517.6 363,518.1 363.3,517.9 363.6,518.9 363.9,517.5 364.2,518.1 364.5,518.4 365,517.4 365.3,517.7 365.6,517.1 365.9,517.6 366.5,517 366.8,517.2 367.1,516.3 368,516 368.3,515.2 368.6,515.3 368.9,514.9 369.8,513 370.1,513.3 370.4,511.7 370.7,512.2 371.2,509.2 371.5,509.4 372.1,507 373,504.4 373.3,502.3 373.6,501.1 373.9,501 374.5,497.6 374.8,497 375.1,494.6 375.4,494.4 375.7,491.5 376.6,488.2 377.1,484.9 378,481.3 378.3,479.4 378.9,477.7 379.2,475.8 379.5,474.8 379.8,474.9 381,471.1 381.3,470.8 381.6,470.7 381.9,468.9 382.2,468.5 382.7,466.5 383,466.3 383.3,464.4 383.9,463.9 384.2,463.3 384.5,462 384.8,463.3 385.1,463.5 385.4,461.9 385.7,462.8 386,463 386.3,463.3 386.6,463.3 386.9,465.3 387.5,466.8 387.8,469.2 388.1,470 388.4,472.6 388.9,475.5 389.2,478.7 390.1,483.2 390.7,488 391.9,495.4 392.2,496.3 393.1,502.8 393.4,503.2 394,505.5 394.3,507.3 394.5,508 395.4,511.7 396,512.5 396.3,513.3 396.6,513.5 396.9,515.2 397.2,515.4 397.5,514.9 397.8,515.4 398.1,516.1 398.4,517.6 398.7,516.5 399,517.4 399.3,517.8 399.6,517.4 399.9,518.1 400.2,519.2 400.4,519.2 400.7,518.1 401,519.2 401.3,519.1 401.6,519.8 401.9,518.8 402.5,519.9 402.8,519.2 403.1,519.8 403.4,519.9 403.7,520.2 404,519.8 404.3,521.4 404.9,519.8 405.2,520 405.5,519.9 405.8,520.6 406.1,520.6 406.3,521 406.6,520.8 406.9,520.4 407.2,520.6 407.5,521.1 407.8,521.3 408.1,520.3 408.7,521.5 409,520.8 409.3,521.2 409.6,520.8 409.9,521.8 410.2,521.1 410.5,521.1 410.8,521.6 411.1,521.3 411.7,522.1 412,521.5 412.2,521.6 412.5,522.3 412.8,521.6 413.1,521.6 413.4,522.2 413.7,521.1 414,522.4 414.3,521.7 414.6,521.5 414.9,521.6 415.2,521.5 415.5,522.3 416.1,520.9 416.7,522.3 417,521.9 417.6,521.5 417.9,522.7 418.1,521.8 418.4,522.4 418.7,521.2 419,522.1 419.3,521.8 419.9,522.3 420.2,522.1 420.8,522.9 421.4,521.8 421.7,522.9 422,522.1 422.6,523 422.9,522.5 423.5,522.4 423.8,521.9 424,522.4 424.3,522 424.6,522.8 424.9,522.4 425.2,522.6 425.5,523.2 426.1,522.9 426.4,523.1 426.7,523.1 427,522.8 427.6,523.5 427.9,522.7 428.2,523 428.5,522.1 429.1,522.9 429.4,522.7 429.7,523 429.9,522.8 430.5,523 430.8,522.7 431.1,523.3 431.4,522.7 432,523.7 432.6,522.8" fill="none" stroke="#bbb" stroke-width="0.5" stroke-linejoin="round" />
<polyline points="344.4,518.6 355.6,518.8 359.7,518.7 362.1,518.4 364.5,517.8 366.2,517.1 367.7,516 368.9,514.6 370.1,512.7 370.9,510.7 371.8,508.2 372.7,505.2 374.2,499.1 377.4,483.3 379.2,476.6 383.6,464.4 384.5,462.8 385.1,462.3 385.4,462.2 386,462.7 386.6,464 387.2,466 387.8,468.8 388.9,475.7 391.9,495.2 393.1,501.7 394,505.8 394.8,509.2 396,512.6 396.9,514.6 398.1,516.4 399.6,518 401.3,519.1 403.7,520 406.6,520.7 411.1,521.4 416.4,522 432.6,523.1" fill="none" stroke="#e04050" stroke-width="1.3" stroke-linejoin="round" />
<rect x="344.1" y="453.6" width="88.8" height="78.4" stroke="#888" stroke-width="0.9" fill="none"/>
<rect x="407.1" y="458.5" width="22.2" height="12.4" fill="#111" opacity="1"/>
<rect x="405.9" y="457.3" width="22.2" height="12.4" stroke="#555" stroke-width="0.4" fill="#fff"/>
<line x1="407" y1="460.4" x2="416" y2="460.4" stroke="#44aa99" stroke-width="0.8" />
<line x1="407" y1="466.6" x2="416" y2="466.6" stroke="#c8a0d8" stroke-width="0.8" />
<text x="417" y="461.58" font-size="3.4" font-family="'Liberation Sans', Arial, sans-serif" text-anchor="start" fill="#000">S2p<tspan font-size="2.4" dy="0.8">3/2</tspan></text>
<text x="417" y="467.78" font-size="3.4" font-family="'Liberation Sans', Arial, sans-serif" text-anchor="start" fill="#000">S2p<tspan font-size="2.4" dy="0.8">1/2</tspan></text>
<line x1="344.8" y1="532" x2="344.8" y2="533.6" stroke="#666" stroke-width="0.6" />
<text x="344.8" y="537.73" font-size="5" font-family="'Liberation Sans', Arial, sans-serif" text-anchor="middle" fill="#000">175</text>
<line x1="374" y1="532" x2="374" y2="533.6" stroke="#666" stroke-width="0.6" />
<text x="374" y="537.73" font-size="5" font-family="'Liberation Sans', Arial, sans-serif" text-anchor="middle" fill="#000">170</text>
<line x1="403.2" y1="532" x2="403.2" y2="533.6" stroke="#666" stroke-width="0.6" />
<text x="403.2" y="537.73" font-size="5" font-family="'Liberation Sans', Arial, sans-serif" text-anchor="middle" fill="#000">165</text>
<line x1="432.4" y1="532" x2="432.4" y2="533.6" stroke="#666" stroke-width="0.6" />
<text x="432.4" y="537.73" font-size="5" font-family="'Liberation Sans', Arial, sans-serif" text-anchor="middle" fill="#000">160</text>
<text x="348.5" y="480.1" font-size="5.2" font-family="'Liberation Sans', Arial, sans-serif" text-anchor="start" fill="#000">S2p</text>
<text x="348.5" y="492.4" font-size="5.2" font-family="'Liberation Sans', Arial, sans-serif" text-anchor="start" fill="#000">MXene-PSS</text>
<text x="388.7" y="546.69" font-size="4.6" font-family="'Liberation Sans', Arial, sans-serif" text-anchor="middle" fill="#000" textLength="39.2" lengthAdjust="spacingAndGlyphs">Binding Energy (eV)</text>
<text x="337.4" y="493.09" font-size="4.6" font-family="'Liberation Sans', Arial, sans-serif" text-anchor="middle" fill="#000" transform="rotate(-90 337.4 491.5)">Intensity</text>
</svg></body></html>
